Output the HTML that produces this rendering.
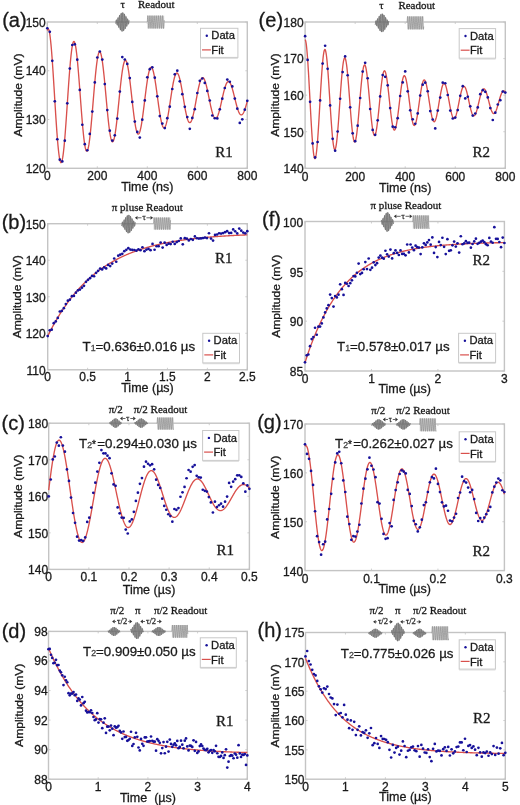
<!DOCTYPE html>
<html><head><meta charset="utf-8"><title>Figure</title>
<style>html,body{margin:0;padding:0;background:#fff;}svg{display:block;filter:blur(0.3px);}text{stroke-width:0.3px;}</style>
</head><body>
<svg width="520" height="805" viewBox="0 0 520 805">
<rect width="520" height="805" fill="#fff"/>
<clipPath id="ca"><rect x="45.3" y="20" width="204" height="150.3"/></clipPath>
<rect x="47.3" y="22" width="200" height="146.3" fill="none" stroke="#c4c4c4" stroke-width="1.4"/>
<line x1="47.3" y1="168.3" x2="47.3" y2="166.3" stroke="#c4c4c4" stroke-width="0.8"/>
<line x1="47.3" y1="22" x2="47.3" y2="24" stroke="#c4c4c4" stroke-width="0.8"/>
<line x1="97.3" y1="168.3" x2="97.3" y2="166.3" stroke="#c4c4c4" stroke-width="0.8"/>
<line x1="97.3" y1="22" x2="97.3" y2="24" stroke="#c4c4c4" stroke-width="0.8"/>
<line x1="147.3" y1="168.3" x2="147.3" y2="166.3" stroke="#c4c4c4" stroke-width="0.8"/>
<line x1="147.3" y1="22" x2="147.3" y2="24" stroke="#c4c4c4" stroke-width="0.8"/>
<line x1="197.3" y1="168.3" x2="197.3" y2="166.3" stroke="#c4c4c4" stroke-width="0.8"/>
<line x1="197.3" y1="22" x2="197.3" y2="24" stroke="#c4c4c4" stroke-width="0.8"/>
<line x1="247.3" y1="168.3" x2="247.3" y2="166.3" stroke="#c4c4c4" stroke-width="0.8"/>
<line x1="247.3" y1="22" x2="247.3" y2="24" stroke="#c4c4c4" stroke-width="0.8"/>
<line x1="47.3" y1="168.3" x2="49.3" y2="168.3" stroke="#c4c4c4" stroke-width="0.8"/>
<line x1="247.3" y1="168.3" x2="245.3" y2="168.3" stroke="#c4c4c4" stroke-width="0.8"/>
<line x1="47.3" y1="119.53" x2="49.3" y2="119.53" stroke="#c4c4c4" stroke-width="0.8"/>
<line x1="247.3" y1="119.53" x2="245.3" y2="119.53" stroke="#c4c4c4" stroke-width="0.8"/>
<line x1="47.3" y1="70.77" x2="49.3" y2="70.77" stroke="#c4c4c4" stroke-width="0.8"/>
<line x1="247.3" y1="70.77" x2="245.3" y2="70.77" stroke="#c4c4c4" stroke-width="0.8"/>
<line x1="47.3" y1="22" x2="49.3" y2="22" stroke="#c4c4c4" stroke-width="0.8"/>
<line x1="247.3" y1="22" x2="245.3" y2="22" stroke="#c4c4c4" stroke-width="0.8"/>
<text x="47.3" y="180.3" font-size="12" text-anchor="middle" font-family='"Liberation Sans", Arial, sans-serif' fill="#1a1a1a" stroke="#1a1a1a" >0</text>
<text x="97.3" y="180.3" font-size="12" text-anchor="middle" font-family='"Liberation Sans", Arial, sans-serif' fill="#1a1a1a" stroke="#1a1a1a" >200</text>
<text x="147.3" y="180.3" font-size="12" text-anchor="middle" font-family='"Liberation Sans", Arial, sans-serif' fill="#1a1a1a" stroke="#1a1a1a" >400</text>
<text x="197.3" y="180.3" font-size="12" text-anchor="middle" font-family='"Liberation Sans", Arial, sans-serif' fill="#1a1a1a" stroke="#1a1a1a" >600</text>
<text x="247.3" y="180.3" font-size="12" text-anchor="middle" font-family='"Liberation Sans", Arial, sans-serif' fill="#1a1a1a" stroke="#1a1a1a" >800</text>
<text x="45.7" y="172.85" font-size="12" text-anchor="end" font-family='"Liberation Sans", Arial, sans-serif' fill="#1a1a1a" stroke="#1a1a1a" >120</text>
<text x="45.7" y="124.08" font-size="12" text-anchor="end" font-family='"Liberation Sans", Arial, sans-serif' fill="#1a1a1a" stroke="#1a1a1a" >130</text>
<text x="45.7" y="75.32" font-size="12" text-anchor="end" font-family='"Liberation Sans", Arial, sans-serif' fill="#1a1a1a" stroke="#1a1a1a" >140</text>
<text x="45.7" y="26.55" font-size="12" text-anchor="end" font-family='"Liberation Sans", Arial, sans-serif' fill="#1a1a1a" stroke="#1a1a1a" >150</text>
<text x="147.3" y="190.9" font-size="12.5" text-anchor="middle" font-family='"Liberation Sans", Arial, sans-serif' fill="#1a1a1a" stroke="#1a1a1a" >Time (ns)</text>
<text x="-41.6" y="0" font-size="11.3" textLength="83.2" lengthAdjust="spacingAndGlyphs" font-family='"Liberation Sans", Arial, sans-serif' fill="#1a1a1a" stroke="#1a1a1a" transform="translate(21.5 95.15) rotate(-90)">Amplitude (mV)</text>
<text x="2.2" y="27" font-size="20" text-anchor="start" font-family='"Liberation Sans", Arial, sans-serif' fill="#1a1a1a" stroke="#1a1a1a" >(a)</text>
<g clip-path="url(#ca)">
<path d="M47.3,30.43 L47.63,29.45 47.97,28.93 48.3,28.88 48.63,29.29 48.97,30.16 49.3,31.48 49.63,33.24 49.97,35.43 50.3,38.02 50.63,41 50.97,44.35 51.3,48.05 51.63,52.06 51.97,56.36 52.3,60.93 52.63,65.72 52.97,70.7 53.3,75.85 53.63,81.12 53.97,86.49 54.3,91.91 54.63,97.35 54.97,102.78 55.3,108.15 55.63,113.43 55.97,118.6 56.3,123.6 56.63,128.42 56.97,133.02 57.3,137.38 57.63,141.45 57.97,145.23 58.3,148.68 58.63,151.79 58.97,154.53 59.3,156.9 59.63,158.87 59.97,160.43 60.3,161.58 60.63,162.31 60.97,162.62 61.3,162.51 61.63,161.99 61.97,161.04 62.3,159.7 62.63,157.96 62.97,155.84 63.3,153.36 63.63,150.53 63.97,147.37 64.3,143.91 64.63,140.18 64.97,136.19 65.3,131.98 65.63,127.57 65.97,122.99 66.3,118.29 66.63,113.47 66.97,108.59 67.3,103.67 67.63,98.74 67.97,93.85 68.3,89.01 68.63,84.26 68.97,79.63 69.3,75.16 69.63,70.86 69.97,66.78 70.3,62.93 70.63,59.33 70.97,56.02 71.3,53.01 71.63,50.31 71.97,47.96 72.3,45.95 72.63,44.3 72.97,43.02 73.3,42.12 73.63,41.6 73.97,41.47 74.3,41.71 74.63,42.33 74.97,43.32 75.3,44.67 75.63,46.38 75.97,48.42 76.3,50.79 76.63,53.47 76.97,56.43 77.3,59.66 77.63,63.13 77.97,66.82 78.3,70.71 78.63,74.76 78.97,78.95 79.3,83.26 79.63,87.64 79.97,92.08 80.3,96.54 80.63,101 80.97,105.42 81.3,109.77 81.63,114.04 81.97,118.18 82.3,122.17 82.63,125.99 82.97,129.62 83.3,133.02 83.63,136.18 83.97,139.08 84.3,141.7 84.63,144.03 84.97,146.05 85.3,147.74 85.63,149.11 85.97,150.14 86.3,150.83 86.63,151.17 86.97,151.17 87.3,150.82 87.63,150.13 87.97,149.11 88.3,147.76 88.63,146.1 88.97,144.13 89.3,141.88 89.63,139.36 89.97,136.58 90.3,133.58 90.63,130.35 90.97,126.94 91.3,123.36 91.63,119.64 91.97,115.8 92.3,111.88 92.63,107.88 92.97,103.85 93.3,99.81 93.63,95.78 93.97,91.8 94.3,87.88 94.63,84.06 94.97,80.36 95.3,76.79 95.63,73.4 95.97,70.19 96.3,67.19 96.63,64.41 96.97,61.87 97.3,59.6 97.63,57.6 97.97,55.88 98.3,54.45 98.63,53.33 98.97,52.51 99.3,52 99.63,51.81 99.97,51.93 100.3,52.36 100.63,53.1 100.97,54.14 101.3,55.47 101.63,57.08 101.97,58.95 102.3,61.09 102.63,63.46 102.97,66.06 103.3,68.86 103.63,71.84 103.97,74.99 104.3,78.28 104.63,81.69 104.97,85.2 105.3,88.79 105.63,92.42 105.97,96.08 106.3,99.74 106.63,103.37 106.97,106.96 107.3,110.48 107.63,113.9 107.97,117.21 108.3,120.38 108.63,123.4 108.97,126.24 109.3,128.88 109.63,131.32 109.97,133.52 110.3,135.49 110.63,137.21 110.97,138.67 111.3,139.86 111.63,140.78 111.97,141.41 112.3,141.76 112.63,141.83 112.97,141.61 113.3,141.12 113.63,140.35 113.97,139.31 114.3,138.01 114.63,136.46 114.97,134.67 115.3,132.65 115.63,130.43 115.97,128.01 116.3,125.4 116.63,122.64 116.97,119.74 117.3,116.71 117.63,113.59 117.97,110.38 118.3,107.12 118.63,103.82 118.97,100.5 119.3,97.19 119.63,93.91 119.97,90.69 120.3,87.53 120.63,84.46 120.97,81.51 121.3,78.69 121.63,76.02 121.97,73.51 122.3,71.18 122.63,69.05 122.97,67.13 123.3,65.43 123.63,63.96 123.97,62.73 124.3,61.75 124.63,61.02 124.97,60.54 125.3,60.32 125.63,60.35 125.97,60.64 126.3,61.18 126.63,61.97 126.97,63 127.3,64.27 127.63,65.75 127.97,67.45 128.3,69.35 128.63,71.44 128.97,73.69 129.3,76.1 129.63,78.66 129.97,81.33 130.3,84.11 130.63,86.97 130.97,89.89 131.3,92.86 131.63,95.86 131.97,98.86 132.3,101.85 132.63,104.81 132.97,107.71 133.3,110.54 133.63,113.28 133.97,115.91 134.3,118.42 134.63,120.78 134.97,122.99 135.3,125.04 135.63,126.89 135.97,128.56 136.3,130.02 136.63,131.27 136.97,132.31 137.3,133.11 137.63,133.69 137.97,134.04 138.3,134.15 138.63,134.03 138.97,133.68 139.3,133.11 139.63,132.31 139.97,131.29 140.3,130.07 140.63,128.65 140.97,127.05 141.3,125.26 141.63,123.31 141.97,121.22 142.3,118.98 142.63,116.63 142.97,114.17 143.3,111.62 143.63,109.01 143.97,106.34 144.3,103.64 144.63,100.92 144.97,98.2 145.3,95.51 145.63,92.85 145.97,90.24 146.3,87.71 146.63,85.26 146.97,82.92 147.3,80.69 147.63,78.6 147.97,76.65 148.3,74.87 148.63,73.25 148.97,71.81 149.3,70.55 149.63,69.49 149.97,68.63 150.3,67.98 150.63,67.54 150.97,67.3 151.3,67.28 151.63,67.46 151.97,67.86 152.3,68.46 152.63,69.25 152.97,70.24 153.3,71.42 153.63,72.77 153.97,74.28 154.3,75.96 154.63,77.77 154.97,79.72 155.3,81.79 155.63,83.96 155.97,86.21 156.3,88.55 156.63,90.93 156.97,93.36 157.3,95.82 157.63,98.28 157.97,100.74 158.3,103.17 158.63,105.56 158.97,107.9 159.3,110.17 159.63,112.35 159.97,114.43 160.3,116.4 160.63,118.25 160.97,119.96 161.3,121.52 161.63,122.93 161.97,124.17 162.3,125.24 162.63,126.14 162.97,126.84 163.3,127.36 163.63,127.7 163.97,127.84 164.3,127.79 164.63,127.55 164.97,127.12 165.3,126.51 165.63,125.72 165.97,124.76 166.3,123.64 166.63,122.36 166.97,120.93 167.3,119.37 167.63,117.67 167.97,115.87 168.3,113.96 168.63,111.96 168.97,109.89 169.3,107.76 169.63,105.58 169.97,103.37 170.3,101.14 170.63,98.91 170.97,96.69 171.3,94.5 171.63,92.35 171.97,90.26 172.3,88.23 172.63,86.29 172.97,84.44 173.3,82.69 173.63,81.07 173.97,79.57 174.3,78.2 174.63,76.98 174.97,75.92 175.3,75.01 175.63,74.26 175.97,73.68 176.3,73.27 176.63,73.04 176.97,72.98 177.3,73.09 177.63,73.37 177.97,73.82 178.3,74.43 178.63,75.2 178.97,76.13 179.3,77.2 179.63,78.41 179.97,79.75 180.3,81.21 180.63,82.79 180.97,84.46 181.3,86.22 181.63,88.05 181.97,89.95 182.3,91.9 182.63,93.89 182.97,95.89 183.3,97.92 183.63,99.93 183.97,101.93 184.3,103.91 184.63,105.84 184.97,107.71 185.3,109.52 185.63,111.25 185.97,112.89 186.3,114.43 186.63,115.86 186.97,117.18 187.3,118.36 187.63,119.42 187.97,120.33 188.3,121.1 188.63,121.72 188.97,122.18 189.3,122.5 189.63,122.65 189.97,122.65 190.3,122.49 190.63,122.18 190.97,121.72 191.3,121.11 191.63,120.35 191.97,119.46 192.3,118.45 192.63,117.3 192.97,116.05 193.3,114.68 193.63,113.22 193.97,111.68 194.3,110.06 194.63,108.37 194.97,106.64 195.3,104.86 195.63,103.05 195.97,101.22 196.3,99.39 196.63,97.57 196.97,95.77 197.3,93.99 197.63,92.26 197.97,90.59 198.3,88.97 198.63,87.44 198.97,85.98 199.3,84.62 199.63,83.36 199.97,82.22 200.3,81.19 200.63,80.28 200.97,79.5 201.3,78.86 201.63,78.35 201.97,77.98 202.3,77.75 202.63,77.66 202.97,77.72 203.3,77.91 203.63,78.25 203.97,78.72 204.3,79.32 204.63,80.05 204.97,80.9 205.3,81.86 205.63,82.94 205.97,84.11 206.3,85.38 206.63,86.73 206.97,88.16 207.3,89.65 207.63,91.19 207.97,92.78 208.3,94.4 208.63,96.05 208.97,97.7 209.3,99.36 209.63,101.01 209.97,102.63 210.3,104.23 210.63,105.78 210.97,107.27 211.3,108.71 211.63,110.08 211.97,111.36 212.3,112.56 212.63,113.66 212.97,114.66 213.3,115.55 213.63,116.33 213.97,116.99 214.3,117.53 214.63,117.94 214.97,118.23 215.3,118.39 215.63,118.42 215.97,118.32 216.3,118.1 216.63,117.75 216.97,117.28 217.3,116.69 217.63,115.99 217.97,115.18 218.3,114.27 218.63,113.26 218.97,112.16 219.3,110.98 219.63,109.73 219.97,108.42 220.3,107.05 220.63,105.63 220.97,104.18 221.3,102.7 221.63,101.21 221.97,99.71 222.3,98.21 222.63,96.72 222.97,95.26 223.3,93.83 223.63,92.45 223.97,91.11 224.3,89.83 224.63,88.62 224.97,87.49 225.3,86.43 225.63,85.47 225.97,84.6 226.3,83.83 226.63,83.16 226.97,82.61 227.3,82.16 227.63,81.83 227.97,81.61 228.3,81.51 228.63,81.53 228.97,81.66 229.3,81.91 229.63,82.26 229.97,82.73 230.3,83.3 230.63,83.97 230.97,84.74 231.3,85.6 231.63,86.55 231.97,87.57 232.3,88.66 232.63,89.82 232.97,91.03 233.3,92.28 233.63,93.58 233.97,94.9 234.3,96.25 234.63,97.61 234.97,98.97 235.3,100.32 235.63,101.66 235.97,102.97 236.3,104.25 236.63,105.49 236.97,106.69 237.3,107.82 237.63,108.89 237.97,109.89 238.3,110.82 238.63,111.66 238.97,112.41 239.3,113.08 239.63,113.64 239.97,114.11 240.3,114.47 240.63,114.74 240.97,114.89 241.3,114.94 241.63,114.89 241.97,114.73 242.3,114.47 242.63,114.11 242.97,113.65 243.3,113.1 243.63,112.46 243.97,111.73 244.3,110.92 244.63,110.04 244.97,109.09 245.3,108.08 245.63,107.01 245.97,105.9 246.3,104.74 246.63,103.56 246.97,102.35 247.3,101.13" fill="none" stroke="#d9504c" stroke-width="1.35"/>
<g fill="#16109a"><circle cx="47.3" cy="28.24" r="1.35"/><circle cx="49.8" cy="31.81" r="1.35"/><circle cx="52.3" cy="60.81" r="1.35"/><circle cx="54.8" cy="101.37" r="1.35"/><circle cx="57.3" cy="139.24" r="1.35"/><circle cx="59.8" cy="159.65" r="1.35"/><circle cx="62.3" cy="161.44" r="1.35"/><circle cx="64.8" cy="140.67" r="1.35"/><circle cx="67.3" cy="103.33" r="1.35"/><circle cx="69.8" cy="68.56" r="1.35"/><circle cx="72.3" cy="45.02" r="1.35"/><circle cx="74.8" cy="44.34" r="1.35"/><circle cx="77.3" cy="59.65" r="1.35"/><circle cx="79.8" cy="89.97" r="1.35"/><circle cx="82.3" cy="124.74" r="1.35"/><circle cx="84.8" cy="144.16" r="1.35"/><circle cx="87.3" cy="150.27" r="1.35"/><circle cx="89.8" cy="133.93" r="1.35"/><circle cx="92.3" cy="111.53" r="1.35"/><circle cx="94.8" cy="82.44" r="1.35"/><circle cx="97.3" cy="57.49" r="1.35"/><circle cx="99.8" cy="51.49" r="1.35"/><circle cx="102.3" cy="59.54" r="1.35"/><circle cx="104.8" cy="84.06" r="1.35"/><circle cx="107.3" cy="110.11" r="1.35"/><circle cx="109.8" cy="130.7" r="1.35"/><circle cx="112.3" cy="140.57" r="1.35"/><circle cx="114.8" cy="135.37" r="1.35"/><circle cx="117.3" cy="118.56" r="1.35"/><circle cx="119.8" cy="91.53" r="1.35"/><circle cx="122.3" cy="57.11" r="1.35"/><circle cx="124.8" cy="59.52" r="1.35"/><circle cx="127.3" cy="63.9" r="1.35"/><circle cx="129.8" cy="78.12" r="1.35"/><circle cx="132.3" cy="101.94" r="1.35"/><circle cx="134.8" cy="121.56" r="1.35"/><circle cx="137.3" cy="131.97" r="1.35"/><circle cx="139.8" cy="137.58" r="1.35"/><circle cx="142.3" cy="119.67" r="1.35"/><circle cx="144.8" cy="100.41" r="1.35"/><circle cx="147.3" cy="77.31" r="1.35"/><circle cx="149.8" cy="69.2" r="1.35"/><circle cx="152.3" cy="67.34" r="1.35"/><circle cx="154.8" cy="77.68" r="1.35"/><circle cx="157.3" cy="96.3" r="1.35"/><circle cx="159.8" cy="116.05" r="1.35"/><circle cx="162.3" cy="123.6" r="1.35"/><circle cx="164.8" cy="128.05" r="1.35"/><circle cx="167.3" cy="118.14" r="1.35"/><circle cx="169.8" cy="106.71" r="1.35"/><circle cx="172.3" cy="88.98" r="1.35"/><circle cx="174.8" cy="74.28" r="1.35"/><circle cx="177.3" cy="70.64" r="1.35"/><circle cx="179.8" cy="81.29" r="1.35"/><circle cx="182.3" cy="94.17" r="1.35"/><circle cx="184.8" cy="106.86" r="1.35"/><circle cx="187.3" cy="117.12" r="1.35"/><circle cx="189.8" cy="128.8" r="1.35"/><circle cx="192.3" cy="117.93" r="1.35"/><circle cx="194.8" cy="109.2" r="1.35"/><circle cx="197.3" cy="92.99" r="1.35"/><circle cx="199.8" cy="80.87" r="1.35"/><circle cx="202.3" cy="78.49" r="1.35"/><circle cx="204.8" cy="82.9" r="1.35"/><circle cx="207.3" cy="90.94" r="1.35"/><circle cx="209.8" cy="100.52" r="1.35"/><circle cx="212.3" cy="115.52" r="1.35"/><circle cx="214.8" cy="118.26" r="1.35"/><circle cx="217.3" cy="118.38" r="1.35"/><circle cx="219.8" cy="109.31" r="1.35"/><circle cx="222.3" cy="98.63" r="1.35"/><circle cx="224.8" cy="88.02" r="1.35"/><circle cx="227.3" cy="79.6" r="1.35"/><circle cx="229.8" cy="81.76" r="1.35"/><circle cx="232.3" cy="86.38" r="1.35"/><circle cx="234.8" cy="98.53" r="1.35"/><circle cx="237.3" cy="108.64" r="1.35"/><circle cx="239.8" cy="122.95" r="1.35"/><circle cx="242.3" cy="119.31" r="1.35"/><circle cx="244.8" cy="109.64" r="1.35"/><circle cx="247.3" cy="100.86" r="1.35"/></g>
</g>
<clipPath id="ce"><rect x="303.1" y="20" width="204.2" height="150.3"/></clipPath>
<rect x="305.1" y="22" width="200.2" height="146.3" fill="none" stroke="#c4c4c4" stroke-width="1.4"/>
<line x1="305.1" y1="168.3" x2="305.1" y2="166.3" stroke="#c4c4c4" stroke-width="0.8"/>
<line x1="305.1" y1="22" x2="305.1" y2="24" stroke="#c4c4c4" stroke-width="0.8"/>
<line x1="355.15" y1="168.3" x2="355.15" y2="166.3" stroke="#c4c4c4" stroke-width="0.8"/>
<line x1="355.15" y1="22" x2="355.15" y2="24" stroke="#c4c4c4" stroke-width="0.8"/>
<line x1="405.2" y1="168.3" x2="405.2" y2="166.3" stroke="#c4c4c4" stroke-width="0.8"/>
<line x1="405.2" y1="22" x2="405.2" y2="24" stroke="#c4c4c4" stroke-width="0.8"/>
<line x1="455.25" y1="168.3" x2="455.25" y2="166.3" stroke="#c4c4c4" stroke-width="0.8"/>
<line x1="455.25" y1="22" x2="455.25" y2="24" stroke="#c4c4c4" stroke-width="0.8"/>
<line x1="505.3" y1="168.3" x2="505.3" y2="166.3" stroke="#c4c4c4" stroke-width="0.8"/>
<line x1="505.3" y1="22" x2="505.3" y2="24" stroke="#c4c4c4" stroke-width="0.8"/>
<line x1="305.1" y1="168.3" x2="307.1" y2="168.3" stroke="#c4c4c4" stroke-width="0.8"/>
<line x1="505.3" y1="168.3" x2="503.3" y2="168.3" stroke="#c4c4c4" stroke-width="0.8"/>
<line x1="305.1" y1="131.73" x2="307.1" y2="131.73" stroke="#c4c4c4" stroke-width="0.8"/>
<line x1="505.3" y1="131.73" x2="503.3" y2="131.73" stroke="#c4c4c4" stroke-width="0.8"/>
<line x1="305.1" y1="95.15" x2="307.1" y2="95.15" stroke="#c4c4c4" stroke-width="0.8"/>
<line x1="505.3" y1="95.15" x2="503.3" y2="95.15" stroke="#c4c4c4" stroke-width="0.8"/>
<line x1="305.1" y1="58.58" x2="307.1" y2="58.58" stroke="#c4c4c4" stroke-width="0.8"/>
<line x1="505.3" y1="58.58" x2="503.3" y2="58.58" stroke="#c4c4c4" stroke-width="0.8"/>
<line x1="305.1" y1="22" x2="307.1" y2="22" stroke="#c4c4c4" stroke-width="0.8"/>
<line x1="505.3" y1="22" x2="503.3" y2="22" stroke="#c4c4c4" stroke-width="0.8"/>
<text x="305.1" y="180.7" font-size="12" text-anchor="middle" font-family='"Liberation Sans", Arial, sans-serif' fill="#1a1a1a" stroke="#1a1a1a" >0</text>
<text x="355.15" y="180.7" font-size="12" text-anchor="middle" font-family='"Liberation Sans", Arial, sans-serif' fill="#1a1a1a" stroke="#1a1a1a" >200</text>
<text x="405.2" y="180.7" font-size="12" text-anchor="middle" font-family='"Liberation Sans", Arial, sans-serif' fill="#1a1a1a" stroke="#1a1a1a" >400</text>
<text x="455.25" y="180.7" font-size="12" text-anchor="middle" font-family='"Liberation Sans", Arial, sans-serif' fill="#1a1a1a" stroke="#1a1a1a" >600</text>
<text x="505.3" y="180.7" font-size="12" text-anchor="middle" font-family='"Liberation Sans", Arial, sans-serif' fill="#1a1a1a" stroke="#1a1a1a" >800</text>
<text x="303.6" y="173.2" font-size="12" text-anchor="end" font-family='"Liberation Sans", Arial, sans-serif' fill="#1a1a1a" stroke="#1a1a1a" >140</text>
<text x="303.6" y="136.63" font-size="12" text-anchor="end" font-family='"Liberation Sans", Arial, sans-serif' fill="#1a1a1a" stroke="#1a1a1a" >150</text>
<text x="303.6" y="100.05" font-size="12" text-anchor="end" font-family='"Liberation Sans", Arial, sans-serif' fill="#1a1a1a" stroke="#1a1a1a" >160</text>
<text x="303.6" y="63.48" font-size="12" text-anchor="end" font-family='"Liberation Sans", Arial, sans-serif' fill="#1a1a1a" stroke="#1a1a1a" >170</text>
<text x="303.6" y="26.9" font-size="12" text-anchor="end" font-family='"Liberation Sans", Arial, sans-serif' fill="#1a1a1a" stroke="#1a1a1a" >180</text>
<text x="405.2" y="191.8" font-size="12.5" text-anchor="middle" font-family='"Liberation Sans", Arial, sans-serif' fill="#1a1a1a" stroke="#1a1a1a" >Time (ns)</text>
<text x="-41.6" y="0" font-size="11.3" textLength="83.2" lengthAdjust="spacingAndGlyphs" font-family='"Liberation Sans", Arial, sans-serif' fill="#1a1a1a" stroke="#1a1a1a" transform="translate(278.6 95.15) rotate(-90)">Amplitude (mV)</text>
<text x="258.6" y="27.2" font-size="20" text-anchor="start" font-family='"Liberation Sans", Arial, sans-serif' fill="#1a1a1a" stroke="#1a1a1a" >(e)</text>
<g clip-path="url(#ce)">
<path d="M305.1,39.56 L305.43,40.08 305.77,41.29 306.1,43.16 306.43,45.67 306.77,48.79 307.1,52.48 307.44,56.69 307.77,61.38 308.1,66.49 308.44,71.96 308.77,77.73 309.1,83.73 309.44,89.89 309.77,96.15 310.11,102.44 310.44,108.68 310.77,114.81 311.11,120.76 311.44,126.46 311.77,131.85 312.11,136.88 312.44,141.49 312.77,145.63 313.11,149.26 313.44,152.34 313.78,154.84 314.11,156.74 314.44,158.01 314.78,158.65 315.11,158.66 315.44,158.04 315.78,156.79 316.11,154.94 316.44,152.51 316.78,149.54 317.11,146.04 317.45,142.08 317.78,137.69 318.11,132.93 318.45,127.85 318.78,122.51 319.11,116.98 319.45,111.3 319.78,105.55 320.12,99.79 320.45,94.09 320.78,88.51 321.12,83.1 321.45,77.94 321.78,73.06 322.12,68.54 322.45,64.41 322.78,60.71 323.12,57.5 323.45,54.79 323.79,52.62 324.12,51.01 324.45,49.97 324.79,49.52 325.12,49.64 325.45,50.34 325.79,51.61 326.12,53.42 326.45,55.77 326.79,58.61 327.12,61.91 327.46,65.63 327.79,69.73 328.12,74.16 328.46,78.88 328.79,83.82 329.12,88.93 329.46,94.15 329.79,99.42 330.12,104.69 330.46,109.9 330.79,114.99 331.13,119.89 331.46,124.57 331.79,128.97 332.13,133.04 332.46,136.74 332.79,140.03 333.13,142.87 333.46,145.24 333.8,147.12 334.13,148.48 334.46,149.31 334.8,149.61 335.13,149.38 335.46,148.62 335.8,147.34 336.13,145.56 336.46,143.31 336.8,140.61 337.13,137.5 337.47,134 337.8,130.17 338.13,126.05 338.47,121.68 338.8,117.11 339.13,112.4 339.47,107.6 339.8,102.76 340.13,97.94 340.47,93.19 340.8,88.56 341.14,84.1 341.47,79.87 341.8,75.91 342.14,72.25 342.47,68.94 342.8,66.02 343.14,63.51 343.47,61.43 343.81,59.82 344.14,58.68 344.47,58.03 344.81,57.86 345.14,58.19 345.47,58.99 345.81,60.27 346.14,61.99 346.47,64.15 346.81,66.71 347.14,69.65 347.48,72.92 347.81,76.5 348.14,80.33 348.48,84.38 348.81,88.6 349.14,92.94 349.48,97.35 349.81,101.79 350.15,106.2 350.48,110.53 350.81,114.74 351.15,118.78 351.48,122.61 351.81,126.18 352.15,129.47 352.48,132.42 352.81,135.02 353.15,137.23 353.48,139.04 353.82,140.42 354.15,141.36 354.48,141.86 354.82,141.91 355.15,141.51 355.48,140.68 355.82,139.42 356.15,137.74 356.48,135.68 356.82,133.25 357.15,130.49 357.49,127.42 357.82,124.09 358.15,120.53 358.49,116.78 358.82,112.88 359.15,108.88 359.49,104.83 359.82,100.77 360.16,96.74 360.49,92.79 360.82,88.97 361.16,85.3 361.49,81.84 361.82,78.62 362.16,75.68 362.49,73.05 362.82,70.74 363.16,68.8 363.49,67.23 363.83,66.05 364.16,65.28 364.49,64.91 364.83,64.96 365.16,65.41 365.49,66.27 365.83,67.51 366.16,69.13 366.49,71.1 366.83,73.39 367.16,75.99 367.5,78.86 367.83,81.96 368.16,85.27 368.5,88.74 368.83,92.33 369.16,96.01 369.5,99.73 369.83,103.45 370.17,107.13 370.5,110.73 370.83,114.2 371.17,117.52 371.5,120.65 371.83,123.54 372.17,126.18 372.5,128.53 372.83,130.57 373.17,132.27 373.5,133.63 373.84,134.63 374.17,135.25 374.5,135.5 374.84,135.37 375.17,134.87 375.5,134.01 375.84,132.79 376.17,131.24 376.5,129.36 376.84,127.19 377.17,124.75 377.51,122.07 377.84,119.18 378.17,116.12 378.51,112.91 378.84,109.59 379.17,106.21 379.51,102.8 379.84,99.4 380.18,96.04 380.51,92.76 380.84,89.61 381.18,86.6 381.51,83.79 381.84,81.18 382.18,78.82 382.51,76.73 382.84,74.93 383.18,73.44 383.51,72.27 383.85,71.43 384.18,70.94 384.51,70.78 384.85,70.98 385.18,71.51 385.51,72.38 385.85,73.56 386.18,75.06 386.51,76.84 386.85,78.88 387.18,81.17 387.52,83.67 387.85,86.36 388.18,89.2 388.52,92.17 388.85,95.22 389.18,98.33 389.52,101.46 389.85,104.57 390.19,107.64 390.52,110.62 390.85,113.48 391.19,116.2 391.52,118.74 391.85,121.07 392.19,123.18 392.52,125.04 392.85,126.63 393.19,127.93 393.52,128.94 393.86,129.63 394.19,130.02 394.52,130.08 394.86,129.84 395.19,129.28 395.52,128.42 395.86,127.26 396.19,125.84 396.52,124.15 396.86,122.22 397.19,120.08 397.53,117.74 397.86,115.25 398.19,112.61 398.53,109.88 398.86,107.06 399.19,104.21 399.53,101.34 399.86,98.49 400.19,95.7 400.53,92.99 400.86,90.4 401.2,87.94 401.53,85.65 401.86,83.56 402.2,81.67 402.53,80.02 402.86,78.63 403.2,77.49 403.53,76.63 403.87,76.06 404.2,75.77 404.53,75.78 404.87,76.07 405.2,76.64 405.53,77.49 405.87,78.61 406.2,79.97 406.53,81.57 406.87,83.38 407.2,85.39 407.54,87.56 407.87,89.88 408.2,92.32 408.54,94.85 408.87,97.44 409.2,100.06 409.54,102.68 409.87,105.28 410.21,107.83 410.54,110.29 410.87,112.64 411.21,114.86 411.54,116.92 411.87,118.8 412.21,120.48 412.54,121.94 412.87,123.17 413.21,124.15 413.54,124.88 413.88,125.34 414.21,125.55 414.54,125.48 414.88,125.16 415.21,124.57 415.54,123.74 415.88,122.66 416.21,121.36 416.54,119.85 416.88,118.15 417.21,116.28 417.55,114.25 417.88,112.1 418.21,109.85 418.55,107.51 418.88,105.13 419.21,102.73 419.55,100.32 419.88,97.95 420.22,95.63 420.55,93.4 420.88,91.27 421.22,89.27 421.55,87.41 421.88,85.73 422.22,84.24 422.55,82.95 422.88,81.87 423.22,81.02 423.55,80.41 423.89,80.03 424.22,79.9 424.55,80.01 424.89,80.37 425.22,80.96 425.55,81.77 425.89,82.8 426.22,84.04 426.55,85.46 426.89,87.06 427.22,88.81 427.56,90.69 427.89,92.69 428.22,94.77 428.56,96.92 428.89,99.11 429.22,101.32 429.56,103.52 429.89,105.68 430.23,107.79 430.56,109.82 430.89,111.75 431.23,113.55 431.56,115.22 431.89,116.72 432.23,118.05 432.56,119.19 432.89,120.13 433.23,120.86 433.56,121.37 433.9,121.67 434.23,121.74 434.56,121.58 434.9,121.21 435.23,120.63 435.56,119.83 435.9,118.84 436.23,117.67 436.56,116.33 436.9,114.83 437.23,113.2 437.57,111.45 437.9,109.6 438.23,107.67 438.57,105.69 438.9,103.68 439.23,101.66 439.57,99.65 439.9,97.67 440.24,95.76 440.57,93.91 440.9,92.17 441.24,90.55 441.57,89.05 441.9,87.71 442.24,86.53 442.57,85.52 442.9,84.71 443.24,84.08 443.57,83.66 443.91,83.43 444.24,83.42 444.57,83.6 444.91,83.99 445.24,84.57 445.57,85.33 445.91,86.28 446.24,87.39 446.57,88.65 446.91,90.06 447.24,91.58 447.58,93.21 447.91,94.92 448.24,96.7 448.58,98.52 448.91,100.37 449.24,102.22 449.58,104.06 449.91,105.85 450.25,107.6 450.58,109.27 450.91,110.84 451.25,112.31 451.58,113.64 451.91,114.84 452.25,115.89 452.58,116.77 452.91,117.48 453.25,118.02 453.58,118.36 453.92,118.52 454.25,118.5 454.58,118.29 454.92,117.89 455.25,117.32 455.58,116.58 455.92,115.68 456.25,114.63 456.58,113.44 456.92,112.13 457.25,110.71 457.59,109.2 457.92,107.62 458.25,105.98 458.59,104.3 458.92,102.6 459.25,100.91 459.59,99.23 459.92,97.59 460.25,96.01 460.59,94.5 460.92,93.08 461.26,91.76 461.59,90.56 461.92,89.49 462.26,88.56 462.59,87.79 462.92,87.18 463.26,86.73 463.59,86.44 463.93,86.34 464.26,86.4 464.59,86.63 464.93,87.03 465.26,87.59 465.59,88.3 465.93,89.16 466.26,90.15 466.59,91.27 466.93,92.49 467.26,93.81 467.6,95.21 467.93,96.68 468.26,98.19 468.6,99.73 468.93,101.29 469.26,102.84 469.6,104.37 469.93,105.86 470.26,107.3 470.6,108.67 470.93,109.95 471.27,111.13 471.6,112.21 471.93,113.16 472.27,113.97 472.6,114.65 472.93,115.18 473.27,115.56 473.6,115.78 473.94,115.85 474.27,115.75 474.6,115.51 474.94,115.11 475.27,114.56 475.6,113.88 475.94,113.06 476.27,112.13 476.6,111.08 476.94,109.94 477.27,108.71 477.61,107.41 477.94,106.06 478.27,104.67 478.61,103.25 478.94,101.82 479.27,100.4 479.61,99.01 479.94,97.65 480.27,96.35 480.61,95.11 480.94,93.95 481.28,92.89 481.61,91.93 481.94,91.09 482.28,90.36 482.61,89.77 482.94,89.32 483.28,89.01 483.61,88.83 483.95,88.81 484.28,88.92 484.61,89.18 484.95,89.58 485.28,90.11 485.61,90.76 485.95,91.53 486.28,92.41 486.61,93.39 486.95,94.46 487.28,95.6 487.62,96.8 487.95,98.05 488.28,99.34 488.62,100.64 488.95,101.95 489.28,103.24 489.62,104.52 489.95,105.75 490.29,106.93 490.62,108.05 490.95,109.09 491.29,110.05 491.62,110.9 491.95,111.65 492.29,112.28 492.62,112.8 492.95,113.19 493.29,113.45 493.62,113.57 493.96,113.57 494.29,113.43 494.62,113.17 494.96,112.78 495.29,112.26 495.62,111.64 495.96,110.91 496.29,110.08 496.62,109.16 496.96,108.17 497.29,107.11 497.63,106 497.96,104.84 498.29,103.66 498.63,102.47 498.96,101.27 499.29,100.09 499.63,98.93 499.96,97.8 500.3,96.73 500.63,95.72 500.96,94.79 501.3,93.93 501.63,93.17 501.96,92.51 502.3,91.95 502.63,91.5 502.96,91.17 503.3,90.96 503.63,90.87 503.97,90.91 504.3,91.06 504.63,91.33 504.97,91.71 505.3,92.2" fill="none" stroke="#d9504c" stroke-width="1.35"/>
<g fill="#16109a"><circle cx="305.1" cy="36.14" r="1.35"/><circle cx="307.6" cy="59.95" r="1.35"/><circle cx="310.11" cy="101.86" r="1.35"/><circle cx="312.61" cy="143.41" r="1.35"/><circle cx="315.11" cy="157.44" r="1.35"/><circle cx="317.61" cy="141.99" r="1.35"/><circle cx="320.12" cy="100.4" r="1.35"/><circle cx="322.62" cy="63.6" r="1.35"/><circle cx="325.12" cy="45.77" r="1.35"/><circle cx="327.62" cy="68.87" r="1.35"/><circle cx="330.12" cy="105.44" r="1.35"/><circle cx="332.63" cy="138.86" r="1.35"/><circle cx="335.13" cy="150.7" r="1.35"/><circle cx="337.63" cy="131.51" r="1.35"/><circle cx="340.13" cy="98.74" r="1.35"/><circle cx="342.64" cy="72.11" r="1.35"/><circle cx="345.14" cy="56.45" r="1.35"/><circle cx="347.64" cy="75.25" r="1.35"/><circle cx="350.15" cy="107.28" r="1.35"/><circle cx="352.65" cy="133.37" r="1.35"/><circle cx="355.15" cy="141.18" r="1.35"/><circle cx="357.65" cy="125.71" r="1.35"/><circle cx="360.16" cy="97.99" r="1.35"/><circle cx="362.66" cy="71.57" r="1.35"/><circle cx="365.16" cy="62.78" r="1.35"/><circle cx="367.66" cy="78.27" r="1.35"/><circle cx="370.17" cy="108.98" r="1.35"/><circle cx="372.67" cy="129.89" r="1.35"/><circle cx="375.17" cy="134.85" r="1.35"/><circle cx="377.67" cy="120.33" r="1.35"/><circle cx="380.18" cy="96.4" r="1.35"/><circle cx="382.68" cy="75.09" r="1.35"/><circle cx="385.18" cy="76.83" r="1.35"/><circle cx="387.68" cy="85.34" r="1.35"/><circle cx="390.19" cy="108.06" r="1.35"/><circle cx="392.69" cy="126.69" r="1.35"/><circle cx="395.19" cy="127.23" r="1.35"/><circle cx="397.69" cy="118.13" r="1.35"/><circle cx="400.19" cy="96.01" r="1.35"/><circle cx="402.7" cy="82.46" r="1.35"/><circle cx="405.2" cy="71.38" r="1.35"/><circle cx="407.7" cy="91.28" r="1.35"/><circle cx="410.21" cy="110.33" r="1.35"/><circle cx="412.71" cy="119.31" r="1.35"/><circle cx="415.21" cy="123.73" r="1.35"/><circle cx="417.71" cy="113.4" r="1.35"/><circle cx="420.22" cy="95.58" r="1.35"/><circle cx="422.72" cy="84.7" r="1.35"/><circle cx="425.22" cy="82.7" r="1.35"/><circle cx="427.72" cy="91.25" r="1.35"/><circle cx="430.23" cy="111.11" r="1.35"/><circle cx="432.73" cy="119.48" r="1.35"/><circle cx="435.23" cy="128.43" r="1.35"/><circle cx="437.73" cy="110.55" r="1.35"/><circle cx="440.24" cy="97.6" r="1.35"/><circle cx="442.74" cy="82.68" r="1.35"/><circle cx="445.24" cy="83.25" r="1.35"/><circle cx="447.74" cy="95.01" r="1.35"/><circle cx="450.25" cy="110.6" r="1.35"/><circle cx="452.75" cy="118.51" r="1.35"/><circle cx="455.25" cy="117.6" r="1.35"/><circle cx="457.75" cy="110.08" r="1.35"/><circle cx="460.25" cy="95.78" r="1.35"/><circle cx="462.76" cy="86.19" r="1.35"/><circle cx="465.26" cy="98.44" r="1.35"/><circle cx="467.76" cy="96.77" r="1.35"/><circle cx="470.26" cy="106.33" r="1.35"/><circle cx="472.77" cy="115.57" r="1.35"/><circle cx="475.27" cy="113.49" r="1.35"/><circle cx="477.77" cy="107.41" r="1.35"/><circle cx="480.27" cy="94.14" r="1.35"/><circle cx="482.78" cy="90.14" r="1.35"/><circle cx="485.28" cy="91.87" r="1.35"/><circle cx="487.78" cy="97.47" r="1.35"/><circle cx="490.29" cy="108.06" r="1.35"/><circle cx="492.79" cy="120.02" r="1.35"/><circle cx="495.29" cy="112.64" r="1.35"/><circle cx="497.79" cy="104.5" r="1.35"/><circle cx="500.3" cy="100.14" r="1.35"/><circle cx="502.8" cy="91.58" r="1.35"/><circle cx="505.3" cy="92.62" r="1.35"/></g>
</g>
<clipPath id="cb"><rect x="45.7" y="221.7" width="203.6" height="150.1"/></clipPath>
<rect x="47.7" y="223.7" width="199.6" height="146.1" fill="none" stroke="#c4c4c4" stroke-width="1.4"/>
<line x1="47.7" y1="369.8" x2="47.7" y2="367.8" stroke="#c4c4c4" stroke-width="0.8"/>
<line x1="47.7" y1="223.7" x2="47.7" y2="225.7" stroke="#c4c4c4" stroke-width="0.8"/>
<line x1="87.62" y1="369.8" x2="87.62" y2="367.8" stroke="#c4c4c4" stroke-width="0.8"/>
<line x1="87.62" y1="223.7" x2="87.62" y2="225.7" stroke="#c4c4c4" stroke-width="0.8"/>
<line x1="127.54" y1="369.8" x2="127.54" y2="367.8" stroke="#c4c4c4" stroke-width="0.8"/>
<line x1="127.54" y1="223.7" x2="127.54" y2="225.7" stroke="#c4c4c4" stroke-width="0.8"/>
<line x1="167.46" y1="369.8" x2="167.46" y2="367.8" stroke="#c4c4c4" stroke-width="0.8"/>
<line x1="167.46" y1="223.7" x2="167.46" y2="225.7" stroke="#c4c4c4" stroke-width="0.8"/>
<line x1="207.38" y1="369.8" x2="207.38" y2="367.8" stroke="#c4c4c4" stroke-width="0.8"/>
<line x1="207.38" y1="223.7" x2="207.38" y2="225.7" stroke="#c4c4c4" stroke-width="0.8"/>
<line x1="247.3" y1="369.8" x2="247.3" y2="367.8" stroke="#c4c4c4" stroke-width="0.8"/>
<line x1="247.3" y1="223.7" x2="247.3" y2="225.7" stroke="#c4c4c4" stroke-width="0.8"/>
<line x1="47.7" y1="369.8" x2="49.7" y2="369.8" stroke="#c4c4c4" stroke-width="0.8"/>
<line x1="247.3" y1="369.8" x2="245.3" y2="369.8" stroke="#c4c4c4" stroke-width="0.8"/>
<line x1="47.7" y1="333.27" x2="49.7" y2="333.27" stroke="#c4c4c4" stroke-width="0.8"/>
<line x1="247.3" y1="333.27" x2="245.3" y2="333.27" stroke="#c4c4c4" stroke-width="0.8"/>
<line x1="47.7" y1="296.75" x2="49.7" y2="296.75" stroke="#c4c4c4" stroke-width="0.8"/>
<line x1="247.3" y1="296.75" x2="245.3" y2="296.75" stroke="#c4c4c4" stroke-width="0.8"/>
<line x1="47.7" y1="260.23" x2="49.7" y2="260.23" stroke="#c4c4c4" stroke-width="0.8"/>
<line x1="247.3" y1="260.23" x2="245.3" y2="260.23" stroke="#c4c4c4" stroke-width="0.8"/>
<line x1="47.7" y1="223.7" x2="49.7" y2="223.7" stroke="#c4c4c4" stroke-width="0.8"/>
<line x1="247.3" y1="223.7" x2="245.3" y2="223.7" stroke="#c4c4c4" stroke-width="0.8"/>
<text x="47.7" y="381.4" font-size="12" text-anchor="middle" font-family='"Liberation Sans", Arial, sans-serif' fill="#1a1a1a" stroke="#1a1a1a" >0</text>
<text x="87.62" y="381.4" font-size="12" text-anchor="middle" font-family='"Liberation Sans", Arial, sans-serif' fill="#1a1a1a" stroke="#1a1a1a" >0.5</text>
<text x="127.54" y="381.4" font-size="12" text-anchor="middle" font-family='"Liberation Sans", Arial, sans-serif' fill="#1a1a1a" stroke="#1a1a1a" >1</text>
<text x="167.46" y="381.4" font-size="12" text-anchor="middle" font-family='"Liberation Sans", Arial, sans-serif' fill="#1a1a1a" stroke="#1a1a1a" >1.5</text>
<text x="207.38" y="381.4" font-size="12" text-anchor="middle" font-family='"Liberation Sans", Arial, sans-serif' fill="#1a1a1a" stroke="#1a1a1a" >2</text>
<text x="247.3" y="381.4" font-size="12" text-anchor="middle" font-family='"Liberation Sans", Arial, sans-serif' fill="#1a1a1a" stroke="#1a1a1a" >2.5</text>
<text x="45.7" y="374.65" font-size="12" text-anchor="end" font-family='"Liberation Sans", Arial, sans-serif' fill="#1a1a1a" stroke="#1a1a1a" >110</text>
<text x="45.7" y="338.12" font-size="12" text-anchor="end" font-family='"Liberation Sans", Arial, sans-serif' fill="#1a1a1a" stroke="#1a1a1a" >120</text>
<text x="45.7" y="301.6" font-size="12" text-anchor="end" font-family='"Liberation Sans", Arial, sans-serif' fill="#1a1a1a" stroke="#1a1a1a" >130</text>
<text x="45.7" y="265.08" font-size="12" text-anchor="end" font-family='"Liberation Sans", Arial, sans-serif' fill="#1a1a1a" stroke="#1a1a1a" >140</text>
<text x="45.7" y="228.55" font-size="12" text-anchor="end" font-family='"Liberation Sans", Arial, sans-serif' fill="#1a1a1a" stroke="#1a1a1a" >150</text>
<text x="147.5" y="392.4" font-size="12.5" text-anchor="middle" font-family='"Liberation Sans", Arial, sans-serif' fill="#1a1a1a" stroke="#1a1a1a" >Time (µs)</text>
<text x="-41.6" y="0" font-size="11.3" textLength="83.2" lengthAdjust="spacingAndGlyphs" font-family='"Liberation Sans", Arial, sans-serif' fill="#1a1a1a" stroke="#1a1a1a" transform="translate(21.4 296.75) rotate(-90)">Amplitude (mV)</text>
<text x="1.7" y="229.2" font-size="20" text-anchor="start" font-family='"Liberation Sans", Arial, sans-serif' fill="#1a1a1a" stroke="#1a1a1a" >(b)</text>
<g clip-path="url(#cb)">
<path d="M47.7,336.2 L48.03,335.52 48.37,334.85 48.7,334.19 49.03,333.52 49.36,332.87 49.7,332.21 50.03,331.56 50.36,330.92 50.69,330.28 51.03,329.64 51.36,329.01 51.69,328.38 52.02,327.76 52.36,327.14 52.69,326.52 53.02,325.91 53.36,325.3 53.69,324.7 54.02,324.1 54.35,323.5 54.69,322.91 55.02,322.32 55.35,321.74 55.68,321.16 56.02,320.58 56.35,320.01 56.68,319.44 57.01,318.87 57.35,318.31 57.68,317.75 58.01,317.2 58.35,316.65 58.68,316.1 59.01,315.56 59.34,315.02 59.68,314.48 60.01,313.95 60.34,313.42 60.67,312.89 61.01,312.37 61.34,311.85 61.67,311.33 62,310.82 62.34,310.31 62.67,309.8 63,309.3 63.34,308.8 63.67,308.31 64,307.81 64.33,307.32 64.67,306.84 65,306.35 65.33,305.87 65.66,305.4 66,304.92 66.33,304.45 66.66,303.99 66.99,303.52 67.33,303.06 67.66,302.6 67.99,302.14 68.33,301.69 68.66,301.24 68.99,300.8 69.32,300.35 69.66,299.91 69.99,299.47 70.32,299.04 70.65,298.61 70.99,298.18 71.32,297.75 71.65,297.33 71.98,296.9 72.32,296.49 72.65,296.07 72.98,295.66 73.32,295.25 73.65,294.84 73.98,294.43 74.31,294.03 74.65,293.63 74.98,293.24 75.31,292.84 75.64,292.45 75.98,292.06 76.31,291.67 76.64,291.29 76.97,290.91 77.31,290.53 77.64,290.15 77.97,289.78 78.31,289.41 78.64,289.04 78.97,288.67 79.3,288.3 79.64,287.94 79.97,287.58 80.3,287.22 80.63,286.87 80.97,286.52 81.3,286.17 81.63,285.82 81.96,285.47 82.3,285.13 82.63,284.79 82.96,284.45 83.3,284.11 83.63,283.78 83.96,283.44 84.29,283.11 84.63,282.78 84.96,282.46 85.29,282.13 85.62,281.81 85.96,281.49 86.29,281.17 86.62,280.86 86.95,280.54 87.29,280.23 87.62,279.92 87.95,279.62 88.29,279.31 88.62,279.01 88.95,278.71 89.28,278.41 89.62,278.11 89.95,277.81 90.28,277.52 90.61,277.23 90.95,276.94 91.28,276.65 91.61,276.36 91.94,276.08 92.28,275.8 92.61,275.52 92.94,275.24 93.28,274.96 93.61,274.69 93.94,274.41 94.27,274.14 94.61,273.87 94.94,273.6 95.27,273.34 95.6,273.07 95.94,272.81 96.27,272.55 96.6,272.29 96.93,272.03 97.27,271.78 97.6,271.52 97.93,271.27 98.27,271.02 98.6,270.77 98.93,270.52 99.26,270.27 99.6,270.03 99.93,269.79 100.26,269.55 100.59,269.31 100.93,269.07 101.26,268.83 101.59,268.6 101.92,268.36 102.26,268.13 102.59,267.9 102.92,267.67 103.26,267.44 103.59,267.22 103.92,266.99 104.25,266.77 104.59,266.55 104.92,266.33 105.25,266.11 105.58,265.89 105.92,265.68 106.25,265.46 106.58,265.25 106.91,265.04 107.25,264.83 107.58,264.62 107.91,264.41 108.25,264.2 108.58,264 108.91,263.8 109.24,263.59 109.58,263.39 109.91,263.19 110.24,262.99 110.57,262.8 110.91,262.6 111.24,262.41 111.57,262.21 111.9,262.02 112.24,261.83 112.57,261.64 112.9,261.45 113.24,261.27 113.57,261.08 113.9,260.9 114.23,260.71 114.57,260.53 114.9,260.35 115.23,260.17 115.56,259.99 115.9,259.82 116.23,259.64 116.56,259.46 116.89,259.29 117.23,259.12 117.56,258.95 117.89,258.78 118.23,258.61 118.56,258.44 118.89,258.27 119.22,258.1 119.56,257.94 119.89,257.78 120.22,257.61 120.55,257.45 120.89,257.29 121.22,257.13 121.55,256.97 121.88,256.81 122.22,256.66 122.55,256.5 122.88,256.35 123.22,256.19 123.55,256.04 123.88,255.89 124.21,255.74 124.55,255.59 124.88,255.44 125.21,255.29 125.54,255.15 125.88,255 126.21,254.86 126.54,254.71 126.87,254.57 127.21,254.43 127.54,254.29 127.87,254.15 128.21,254.01 128.54,253.87 128.87,253.73 129.2,253.59 129.54,253.46 129.87,253.32 130.2,253.19 130.53,253.06 130.87,252.93 131.2,252.79 131.53,252.66 131.86,252.53 132.2,252.41 132.53,252.28 132.86,252.15 133.2,252.02 133.53,251.9 133.86,251.77 134.19,251.65 134.53,251.53 134.86,251.41 135.19,251.28 135.52,251.16 135.86,251.04 136.19,250.93 136.52,250.81 136.85,250.69 137.19,250.57 137.52,250.46 137.85,250.34 138.19,250.23 138.52,250.11 138.85,250 139.18,249.89 139.52,249.78 139.85,249.67 140.18,249.56 140.51,249.45 140.85,249.34 141.18,249.23 141.51,249.13 141.84,249.02 142.18,248.91 142.51,248.81 142.84,248.7 143.18,248.6 143.51,248.5 143.84,248.39 144.17,248.29 144.51,248.19 144.84,248.09 145.17,247.99 145.5,247.89 145.84,247.79 146.17,247.7 146.5,247.6 146.83,247.5 147.17,247.41 147.5,247.31 147.83,247.22 148.17,247.12 148.5,247.03 148.83,246.94 149.16,246.85 149.5,246.75 149.83,246.66 150.16,246.57 150.49,246.48 150.83,246.39 151.16,246.31 151.49,246.22 151.82,246.13 152.16,246.04 152.49,245.96 152.82,245.87 153.16,245.79 153.49,245.7 153.82,245.62 154.15,245.53 154.49,245.45 154.82,245.37 155.15,245.29 155.48,245.21 155.82,245.12 156.15,245.04 156.48,244.96 156.81,244.89 157.15,244.81 157.48,244.73 157.81,244.65 158.15,244.57 158.48,244.5 158.81,244.42 159.14,244.35 159.48,244.27 159.81,244.2 160.14,244.12 160.47,244.05 160.81,243.97 161.14,243.9 161.47,243.83 161.8,243.76 162.14,243.69 162.47,243.62 162.8,243.54 163.14,243.47 163.47,243.41 163.8,243.34 164.13,243.27 164.47,243.2 164.8,243.13 165.13,243.06 165.46,243 165.8,242.93 166.13,242.87 166.46,242.8 166.79,242.73 167.13,242.67 167.46,242.61 167.79,242.54 168.13,242.48 168.46,242.42 168.79,242.35 169.12,242.29 169.46,242.23 169.79,242.17 170.12,242.11 170.45,242.05 170.79,241.99 171.12,241.93 171.45,241.87 171.78,241.81 172.12,241.75 172.45,241.69 172.78,241.63 173.12,241.58 173.45,241.52 173.78,241.46 174.11,241.41 174.45,241.35 174.78,241.29 175.11,241.24 175.44,241.18 175.78,241.13 176.11,241.07 176.44,241.02 176.77,240.97 177.11,240.91 177.44,240.86 177.77,240.81 178.11,240.76 178.44,240.71 178.77,240.65 179.1,240.6 179.44,240.55 179.77,240.5 180.1,240.45 180.43,240.4 180.77,240.35 181.1,240.3 181.43,240.25 181.76,240.21 182.1,240.16 182.43,240.11 182.76,240.06 183.1,240.02 183.43,239.97 183.76,239.92 184.09,239.88 184.43,239.83 184.76,239.78 185.09,239.74 185.42,239.69 185.76,239.65 186.09,239.6 186.42,239.56 186.75,239.52 187.09,239.47 187.42,239.43 187.75,239.39 188.09,239.34 188.42,239.3 188.75,239.26 189.08,239.22 189.42,239.17 189.75,239.13 190.08,239.09 190.41,239.05 190.75,239.01 191.08,238.97 191.41,238.93 191.74,238.89 192.08,238.85 192.41,238.81 192.74,238.77 193.08,238.73 193.41,238.69 193.74,238.66 194.07,238.62 194.41,238.58 194.74,238.54 195.07,238.51 195.4,238.47 195.74,238.43 196.07,238.4 196.4,238.36 196.73,238.32 197.07,238.29 197.4,238.25 197.73,238.22 198.07,238.18 198.4,238.15 198.73,238.11 199.06,238.08 199.4,238.04 199.73,238.01 200.06,237.97 200.39,237.94 200.73,237.91 201.06,237.87 201.39,237.84 201.72,237.81 202.06,237.78 202.39,237.74 202.72,237.71 203.06,237.68 203.39,237.65 203.72,237.62 204.05,237.59 204.39,237.55 204.72,237.52 205.05,237.49 205.38,237.46 205.72,237.43 206.05,237.4 206.38,237.37 206.71,237.34 207.05,237.31 207.38,237.28 207.71,237.26 208.05,237.23 208.38,237.2 208.71,237.17 209.04,237.14 209.38,237.11 209.71,237.08 210.04,237.06 210.37,237.03 210.71,237 211.04,236.97 211.37,236.95 211.7,236.92 212.04,236.89 212.37,236.87 212.7,236.84 213.04,236.82 213.37,236.79 213.7,236.76 214.03,236.74 214.37,236.71 214.7,236.69 215.03,236.66 215.36,236.64 215.7,236.61 216.03,236.59 216.36,236.56 216.69,236.54 217.03,236.51 217.36,236.49 217.69,236.47 218.03,236.44 218.36,236.42 218.69,236.4 219.02,236.37 219.36,236.35 219.69,236.33 220.02,236.3 220.35,236.28 220.69,236.26 221.02,236.24 221.35,236.21 221.68,236.19 222.02,236.17 222.35,236.15 222.68,236.13 223.02,236.1 223.35,236.08 223.68,236.06 224.01,236.04 224.35,236.02 224.68,236 225.01,235.98 225.34,235.96 225.68,235.94 226.01,235.92 226.34,235.9 226.67,235.88 227.01,235.86 227.34,235.84 227.67,235.82 228.01,235.8 228.34,235.78 228.67,235.76 229,235.74 229.34,235.72 229.67,235.7 230,235.68 230.33,235.66 230.67,235.65 231,235.63 231.33,235.61 231.66,235.59 232,235.57 232.33,235.56 232.66,235.54 233,235.52 233.33,235.5 233.66,235.49 233.99,235.47 234.33,235.45 234.66,235.43 234.99,235.42 235.32,235.4 235.66,235.38 235.99,235.37 236.32,235.35 236.65,235.33 236.99,235.32 237.32,235.3 237.65,235.28 237.99,235.27 238.32,235.25 238.65,235.24 238.98,235.22 239.32,235.21 239.65,235.19 239.98,235.17 240.31,235.16 240.65,235.14 240.98,235.13 241.31,235.11 241.64,235.1 241.98,235.08 242.31,235.07 242.64,235.05 242.98,235.04 243.31,235.03 243.64,235.01 243.97,235 244.31,234.98 244.64,234.97 244.97,234.96 245.3,234.94 245.64,234.93 245.97,234.91 246.3,234.9 246.63,234.89 246.97,234.87 247.3,234.86" fill="none" stroke="#d9504c" stroke-width="1.35"/>
<g fill="#16109a"><circle cx="47.7" cy="336.06" r="1.35"/><circle cx="49.72" cy="330.35" r="1.35"/><circle cx="51.73" cy="329.67" r="1.35"/><circle cx="53.75" cy="323.14" r="1.35"/><circle cx="55.76" cy="321.4" r="1.35"/><circle cx="57.78" cy="317.97" r="1.35"/><circle cx="59.8" cy="311.51" r="1.35"/><circle cx="61.81" cy="310.88" r="1.35"/><circle cx="63.83" cy="308.13" r="1.35"/><circle cx="65.85" cy="304.07" r="1.35"/><circle cx="67.86" cy="300.68" r="1.35"/><circle cx="69.88" cy="299.66" r="1.35"/><circle cx="71.89" cy="296.16" r="1.35"/><circle cx="73.91" cy="295.94" r="1.35"/><circle cx="75.93" cy="292.65" r="1.35"/><circle cx="77.94" cy="290.45" r="1.35"/><circle cx="79.96" cy="289.54" r="1.35"/><circle cx="81.97" cy="287.67" r="1.35"/><circle cx="83.99" cy="285.79" r="1.35"/><circle cx="86.01" cy="281.79" r="1.35"/><circle cx="88.02" cy="279.8" r="1.35"/><circle cx="90.04" cy="278.2" r="1.35"/><circle cx="92.06" cy="275.88" r="1.35"/><circle cx="94.07" cy="276.26" r="1.35"/><circle cx="96.09" cy="272.81" r="1.35"/><circle cx="98.1" cy="270.79" r="1.35"/><circle cx="100.12" cy="268.55" r="1.35"/><circle cx="102.14" cy="269.45" r="1.35"/><circle cx="104.15" cy="267.41" r="1.35"/><circle cx="106.17" cy="268.43" r="1.35"/><circle cx="108.18" cy="264.91" r="1.35"/><circle cx="110.2" cy="266.07" r="1.35"/><circle cx="112.22" cy="263.58" r="1.35"/><circle cx="114.23" cy="258.48" r="1.35"/><circle cx="116.25" cy="261.76" r="1.35"/><circle cx="118.27" cy="255.72" r="1.35"/><circle cx="120.28" cy="254.66" r="1.35"/><circle cx="122.3" cy="253.86" r="1.35"/><circle cx="124.31" cy="251.15" r="1.35"/><circle cx="126.33" cy="249.78" r="1.35"/><circle cx="128.35" cy="248.14" r="1.35"/><circle cx="130.36" cy="249.54" r="1.35"/><circle cx="132.38" cy="249.93" r="1.35"/><circle cx="134.39" cy="250" r="1.35"/><circle cx="136.41" cy="250.63" r="1.35"/><circle cx="138.43" cy="249.26" r="1.35"/><circle cx="140.44" cy="250.21" r="1.35"/><circle cx="142.46" cy="247.24" r="1.35"/><circle cx="144.48" cy="251.18" r="1.35"/><circle cx="146.49" cy="249.62" r="1.35"/><circle cx="148.51" cy="248.97" r="1.35"/><circle cx="150.52" cy="250.18" r="1.35"/><circle cx="152.54" cy="243.9" r="1.35"/><circle cx="154.56" cy="249.77" r="1.35"/><circle cx="156.57" cy="246.25" r="1.35"/><circle cx="158.59" cy="246.19" r="1.35"/><circle cx="160.61" cy="242.61" r="1.35"/><circle cx="162.62" cy="247.54" r="1.35"/><circle cx="164.64" cy="242.68" r="1.35"/><circle cx="166.65" cy="244.93" r="1.35"/><circle cx="168.67" cy="243.7" r="1.35"/><circle cx="170.69" cy="244.06" r="1.35"/><circle cx="172.7" cy="241.76" r="1.35"/><circle cx="174.72" cy="243.97" r="1.35"/><circle cx="176.73" cy="242.03" r="1.35"/><circle cx="178.75" cy="241.02" r="1.35"/><circle cx="180.77" cy="238.47" r="1.35"/><circle cx="182.78" cy="244.3" r="1.35"/><circle cx="184.8" cy="238.2" r="1.35"/><circle cx="186.82" cy="238.69" r="1.35"/><circle cx="188.83" cy="240.45" r="1.35"/><circle cx="190.85" cy="238.98" r="1.35"/><circle cx="192.86" cy="239.79" r="1.35"/><circle cx="194.88" cy="236.42" r="1.35"/><circle cx="196.9" cy="238.24" r="1.35"/><circle cx="198.91" cy="238.6" r="1.35"/><circle cx="200.93" cy="238.38" r="1.35"/><circle cx="202.94" cy="238.1" r="1.35"/><circle cx="204.96" cy="237.6" r="1.35"/><circle cx="206.98" cy="238.09" r="1.35"/><circle cx="208.99" cy="233.27" r="1.35"/><circle cx="211.01" cy="238.55" r="1.35"/><circle cx="213.03" cy="240.53" r="1.35"/><circle cx="215.04" cy="234.94" r="1.35"/><circle cx="217.06" cy="234.49" r="1.35"/><circle cx="219.07" cy="233.25" r="1.35"/><circle cx="221.09" cy="233.62" r="1.35"/><circle cx="223.11" cy="233.07" r="1.35"/><circle cx="225.12" cy="232.2" r="1.35"/><circle cx="227.14" cy="231.15" r="1.35"/><circle cx="229.15" cy="233.1" r="1.35"/><circle cx="231.17" cy="232.88" r="1.35"/><circle cx="233.19" cy="229.39" r="1.35"/><circle cx="235.2" cy="231.34" r="1.35"/><circle cx="237.22" cy="233.46" r="1.35"/><circle cx="239.24" cy="228.53" r="1.35"/><circle cx="241.25" cy="230.7" r="1.35"/><circle cx="243.27" cy="232.6" r="1.35"/><circle cx="245.28" cy="233.37" r="1.35"/><circle cx="247.3" cy="231.14" r="1.35"/></g>
</g>
<clipPath id="cf"><rect x="303" y="219.5" width="203.4" height="153.5"/></clipPath>
<rect x="305" y="221.5" width="199.4" height="149.5" fill="none" stroke="#c4c4c4" stroke-width="1.4"/>
<line x1="305" y1="371" x2="305" y2="369" stroke="#c4c4c4" stroke-width="0.8"/>
<line x1="305" y1="221.5" x2="305" y2="223.5" stroke="#c4c4c4" stroke-width="0.8"/>
<line x1="371.47" y1="371" x2="371.47" y2="369" stroke="#c4c4c4" stroke-width="0.8"/>
<line x1="371.47" y1="221.5" x2="371.47" y2="223.5" stroke="#c4c4c4" stroke-width="0.8"/>
<line x1="437.93" y1="371" x2="437.93" y2="369" stroke="#c4c4c4" stroke-width="0.8"/>
<line x1="437.93" y1="221.5" x2="437.93" y2="223.5" stroke="#c4c4c4" stroke-width="0.8"/>
<line x1="504.4" y1="371" x2="504.4" y2="369" stroke="#c4c4c4" stroke-width="0.8"/>
<line x1="504.4" y1="221.5" x2="504.4" y2="223.5" stroke="#c4c4c4" stroke-width="0.8"/>
<line x1="305" y1="371" x2="307" y2="371" stroke="#c4c4c4" stroke-width="0.8"/>
<line x1="504.4" y1="371" x2="502.4" y2="371" stroke="#c4c4c4" stroke-width="0.8"/>
<line x1="305" y1="321.17" x2="307" y2="321.17" stroke="#c4c4c4" stroke-width="0.8"/>
<line x1="504.4" y1="321.17" x2="502.4" y2="321.17" stroke="#c4c4c4" stroke-width="0.8"/>
<line x1="305" y1="271.33" x2="307" y2="271.33" stroke="#c4c4c4" stroke-width="0.8"/>
<line x1="504.4" y1="271.33" x2="502.4" y2="271.33" stroke="#c4c4c4" stroke-width="0.8"/>
<line x1="305" y1="221.5" x2="307" y2="221.5" stroke="#c4c4c4" stroke-width="0.8"/>
<line x1="504.4" y1="221.5" x2="502.4" y2="221.5" stroke="#c4c4c4" stroke-width="0.8"/>
<text x="305" y="382.5" font-size="12" text-anchor="middle" font-family='"Liberation Sans", Arial, sans-serif' fill="#1a1a1a" stroke="#1a1a1a" >0</text>
<text x="371.47" y="382.5" font-size="12" text-anchor="middle" font-family='"Liberation Sans", Arial, sans-serif' fill="#1a1a1a" stroke="#1a1a1a" >1</text>
<text x="437.93" y="382.5" font-size="12" text-anchor="middle" font-family='"Liberation Sans", Arial, sans-serif' fill="#1a1a1a" stroke="#1a1a1a" >2</text>
<text x="504.4" y="382.5" font-size="12" text-anchor="middle" font-family='"Liberation Sans", Arial, sans-serif' fill="#1a1a1a" stroke="#1a1a1a" >3</text>
<text x="303.1" y="376.2" font-size="12" text-anchor="end" font-family='"Liberation Sans", Arial, sans-serif' fill="#1a1a1a" stroke="#1a1a1a" >85</text>
<text x="303.1" y="326.37" font-size="12" text-anchor="end" font-family='"Liberation Sans", Arial, sans-serif' fill="#1a1a1a" stroke="#1a1a1a" >90</text>
<text x="303.1" y="276.53" font-size="12" text-anchor="end" font-family='"Liberation Sans", Arial, sans-serif' fill="#1a1a1a" stroke="#1a1a1a" >95</text>
<text x="303.1" y="226.7" font-size="12" text-anchor="end" font-family='"Liberation Sans", Arial, sans-serif' fill="#1a1a1a" stroke="#1a1a1a" >100</text>
<text x="404.7" y="392.9" font-size="12.5" text-anchor="middle" font-family='"Liberation Sans", Arial, sans-serif' fill="#1a1a1a" stroke="#1a1a1a" >Time (µs)</text>
<text x="-41.6" y="0" font-size="11.3" textLength="83.2" lengthAdjust="spacingAndGlyphs" font-family='"Liberation Sans", Arial, sans-serif' fill="#1a1a1a" stroke="#1a1a1a" transform="translate(279.5 296.25) rotate(-90)">Amplitude (mV)</text>
<text x="262" y="225.7" font-size="20" text-anchor="start" font-family='"Liberation Sans", Arial, sans-serif' fill="#1a1a1a" stroke="#1a1a1a" >(f)</text>
<g clip-path="url(#cf)">
<path d="M305,362.53 L305.33,361.49 305.66,360.46 306,359.44 306.33,358.43 306.66,357.42 306.99,356.43 307.33,355.44 307.66,354.46 307.99,353.5 308.32,352.53 308.66,351.58 308.99,350.64 309.32,349.7 309.65,348.77 309.99,347.85 310.32,346.94 310.65,346.04 310.98,345.14 311.31,344.25 311.65,343.37 311.98,342.5 312.31,341.63 312.64,340.77 312.98,339.92 313.31,339.08 313.64,338.24 313.97,337.41 314.31,336.59 314.64,335.77 314.97,334.96 315.3,334.16 315.63,333.37 315.97,332.58 316.3,331.8 316.63,331.02 316.96,330.26 317.3,329.5 317.63,328.74 317.96,327.99 318.29,327.25 318.63,326.52 318.96,325.79 319.29,325.07 319.62,324.35 319.95,323.64 320.29,322.94 320.62,322.24 320.95,321.55 321.28,320.86 321.62,320.18 321.95,319.51 322.28,318.84 322.61,318.18 322.95,317.52 323.28,316.87 323.61,316.23 323.94,315.59 324.28,314.95 324.61,314.32 324.94,313.7 325.27,313.08 325.6,312.47 325.94,311.86 326.27,311.26 326.6,310.66 326.93,310.07 327.27,309.48 327.6,308.9 327.93,308.32 328.26,307.75 328.6,307.18 328.93,306.62 329.26,306.06 329.59,305.51 329.93,304.96 330.26,304.42 330.59,303.88 330.92,303.35 331.25,302.82 331.59,302.3 331.92,301.78 332.25,301.26 332.58,300.75 332.92,300.24 333.25,299.74 333.58,299.24 333.91,298.75 334.25,298.26 334.58,297.78 334.91,297.29 335.24,296.82 335.57,296.34 335.91,295.88 336.24,295.41 336.57,294.95 336.9,294.49 337.24,294.04 337.57,293.59 337.9,293.15 338.23,292.71 338.57,292.27 338.9,291.84 339.23,291.41 339.56,290.98 339.89,290.56 340.23,290.14 340.56,289.72 340.89,289.31 341.22,288.9 341.56,288.5 341.89,288.1 342.22,287.7 342.55,287.31 342.89,286.92 343.22,286.53 343.55,286.14 343.88,285.76 344.22,285.39 344.55,285.01 344.88,284.64 345.21,284.27 345.54,283.91 345.88,283.55 346.21,283.19 346.54,282.83 346.87,282.48 347.21,282.13 347.54,281.78 347.87,281.44 348.2,281.1 348.54,280.76 348.87,280.43 349.2,280.1 349.53,279.77 349.87,279.44 350.2,279.12 350.53,278.8 350.86,278.48 351.19,278.17 351.53,277.85 351.86,277.55 352.19,277.24 352.52,276.93 352.86,276.63 353.19,276.33 353.52,276.04 353.85,275.74 354.19,275.45 354.52,275.16 354.85,274.88 355.18,274.59 355.51,274.31 355.85,274.03 356.18,273.76 356.51,273.48 356.84,273.21 357.18,272.94 357.51,272.67 357.84,272.41 358.17,272.15 358.51,271.89 358.84,271.63 359.17,271.37 359.5,271.12 359.83,270.87 360.17,270.62 360.5,270.37 360.83,270.13 361.16,269.88 361.5,269.64 361.83,269.4 362.16,269.17 362.49,268.93 362.83,268.7 363.16,268.47 363.49,268.24 363.82,268.02 364.16,267.79 364.49,267.57 364.82,267.35 365.15,267.13 365.48,266.91 365.82,266.7 366.15,266.48 366.48,266.27 366.81,266.06 367.15,265.85 367.48,265.65 367.81,265.44 368.14,265.24 368.48,265.04 368.81,264.84 369.14,264.64 369.47,264.45 369.81,264.25 370.14,264.06 370.47,263.87 370.8,263.68 371.13,263.5 371.47,263.31 371.8,263.13 372.13,262.94 372.46,262.76 372.8,262.58 373.13,262.4 373.46,262.23 373.79,262.05 374.13,261.88 374.46,261.71 374.79,261.54 375.12,261.37 375.45,261.2 375.79,261.04 376.12,260.87 376.45,260.71 376.78,260.55 377.12,260.39 377.45,260.23 377.78,260.07 378.11,259.91 378.45,259.76 378.78,259.6 379.11,259.45 379.44,259.3 379.77,259.15 380.11,259 380.44,258.86 380.77,258.71 381.1,258.57 381.44,258.42 381.77,258.28 382.1,258.14 382.43,258 382.77,257.86 383.1,257.72 383.43,257.59 383.76,257.45 384.1,257.32 384.43,257.19 384.76,257.06 385.09,256.93 385.42,256.8 385.76,256.67 386.09,256.54 386.42,256.42 386.75,256.29 387.09,256.17 387.42,256.05 387.75,255.92 388.08,255.8 388.42,255.68 388.75,255.57 389.08,255.45 389.41,255.33 389.75,255.22 390.08,255.1 390.41,254.99 390.74,254.88 391.07,254.76 391.41,254.65 391.74,254.54 392.07,254.44 392.4,254.33 392.74,254.22 393.07,254.11 393.4,254.01 393.73,253.91 394.07,253.8 394.4,253.7 394.73,253.6 395.06,253.5 395.39,253.4 395.73,253.3 396.06,253.2 396.39,253.11 396.72,253.01 397.06,252.91 397.39,252.82 397.72,252.73 398.05,252.63 398.39,252.54 398.72,252.45 399.05,252.36 399.38,252.27 399.71,252.18 400.05,252.09 400.38,252 400.71,251.92 401.04,251.83 401.38,251.75 401.71,251.66 402.04,251.58 402.37,251.49 402.71,251.41 403.04,251.33 403.37,251.25 403.7,251.17 404.04,251.09 404.37,251.01 404.7,250.93 405.03,250.85 405.36,250.78 405.7,250.7 406.03,250.63 406.36,250.55 406.69,250.48 407.03,250.4 407.36,250.33 407.69,250.26 408.02,250.19 408.36,250.12 408.69,250.04 409.02,249.97 409.35,249.91 409.69,249.84 410.02,249.77 410.35,249.7 410.68,249.63 411.01,249.57 411.35,249.5 411.68,249.44 412.01,249.37 412.34,249.31 412.68,249.24 413.01,249.18 413.34,249.12 413.67,249.06 414.01,249 414.34,248.94 414.67,248.87 415,248.82 415.33,248.76 415.67,248.7 416,248.64 416.33,248.58 416.66,248.52 417,248.47 417.33,248.41 417.66,248.35 417.99,248.3 418.33,248.24 418.66,248.19 418.99,248.14 419.32,248.08 419.65,248.03 419.99,247.98 420.32,247.93 420.65,247.87 420.98,247.82 421.32,247.77 421.65,247.72 421.98,247.67 422.31,247.62 422.65,247.57 422.98,247.52 423.31,247.48 423.64,247.43 423.98,247.38 424.31,247.33 424.64,247.29 424.97,247.24 425.3,247.2 425.64,247.15 425.97,247.11 426.3,247.06 426.63,247.02 426.97,246.97 427.3,246.93 427.63,246.89 427.96,246.84 428.3,246.8 428.63,246.76 428.96,246.72 429.29,246.68 429.62,246.64 429.96,246.6 430.29,246.56 430.62,246.52 430.95,246.48 431.29,246.44 431.62,246.4 431.95,246.36 432.28,246.32 432.62,246.28 432.95,246.25 433.28,246.21 433.61,246.17 433.95,246.14 434.28,246.1 434.61,246.06 434.94,246.03 435.27,245.99 435.61,245.96 435.94,245.92 436.27,245.89 436.6,245.85 436.94,245.82 437.27,245.79 437.6,245.75 437.93,245.72 438.27,245.69 438.6,245.66 438.93,245.62 439.26,245.59 439.59,245.56 439.93,245.53 440.26,245.5 440.59,245.47 440.92,245.44 441.26,245.41 441.59,245.38 441.92,245.35 442.25,245.32 442.59,245.29 442.92,245.26 443.25,245.23 443.58,245.2 443.92,245.17 444.25,245.15 444.58,245.12 444.91,245.09 445.24,245.06 445.58,245.04 445.91,245.01 446.24,244.98 446.57,244.96 446.91,244.93 447.24,244.91 447.57,244.88 447.9,244.86 448.24,244.83 448.57,244.8 448.9,244.78 449.23,244.76 449.56,244.73 449.9,244.71 450.23,244.68 450.56,244.66 450.89,244.64 451.23,244.61 451.56,244.59 451.89,244.57 452.22,244.54 452.56,244.52 452.89,244.5 453.22,244.48 453.55,244.46 453.89,244.43 454.22,244.41 454.55,244.39 454.88,244.37 455.21,244.35 455.55,244.33 455.88,244.31 456.21,244.29 456.54,244.27 456.88,244.25 457.21,244.23 457.54,244.21 457.87,244.19 458.21,244.17 458.54,244.15 458.87,244.13 459.2,244.11 459.53,244.09 459.87,244.07 460.2,244.05 460.53,244.04 460.86,244.02 461.2,244 461.53,243.98 461.86,243.96 462.19,243.95 462.53,243.93 462.86,243.91 463.19,243.9 463.52,243.88 463.86,243.86 464.19,243.85 464.52,243.83 464.85,243.81 465.18,243.8 465.52,243.78 465.85,243.76 466.18,243.75 466.51,243.73 466.85,243.72 467.18,243.7 467.51,243.69 467.84,243.67 468.18,243.66 468.51,243.64 468.84,243.63 469.17,243.61 469.5,243.6 469.84,243.58 470.17,243.57 470.5,243.56 470.83,243.54 471.17,243.53 471.5,243.51 471.83,243.5 472.16,243.49 472.5,243.47 472.83,243.46 473.16,243.45 473.49,243.43 473.83,243.42 474.16,243.41 474.49,243.39 474.82,243.38 475.15,243.37 475.49,243.36 475.82,243.35 476.15,243.33 476.48,243.32 476.82,243.31 477.15,243.3 477.48,243.29 477.81,243.27 478.15,243.26 478.48,243.25 478.81,243.24 479.14,243.23 479.47,243.22 479.81,243.21 480.14,243.19 480.47,243.18 480.8,243.17 481.14,243.16 481.47,243.15 481.8,243.14 482.13,243.13 482.47,243.12 482.8,243.11 483.13,243.1 483.46,243.09 483.8,243.08 484.13,243.07 484.46,243.06 484.79,243.05 485.12,243.04 485.46,243.03 485.79,243.02 486.12,243.01 486.45,243 486.79,242.99 487.12,242.99 487.45,242.98 487.78,242.97 488.12,242.96 488.45,242.95 488.78,242.94 489.11,242.93 489.44,242.92 489.78,242.91 490.11,242.91 490.44,242.9 490.77,242.89 491.11,242.88 491.44,242.87 491.77,242.86 492.1,242.86 492.44,242.85 492.77,242.84 493.1,242.83 493.43,242.83 493.77,242.82 494.1,242.81 494.43,242.8 494.76,242.79 495.09,242.79 495.43,242.78 495.76,242.77 496.09,242.77 496.42,242.76 496.76,242.75 497.09,242.74 497.42,242.74 497.75,242.73 498.09,242.72 498.42,242.72 498.75,242.71 499.08,242.7 499.41,242.7 499.75,242.69 500.08,242.68 500.41,242.68 500.74,242.67 501.08,242.66 501.41,242.66 501.74,242.65 502.07,242.65 502.41,242.64 502.74,242.63 503.07,242.63 503.4,242.62 503.74,242.62 504.07,242.61 504.4,242.6" fill="none" stroke="#d9504c" stroke-width="1.35"/>
<g fill="#16109a"><circle cx="305" cy="362.35" r="1.35"/><circle cx="306.68" cy="355.3" r="1.35"/><circle cx="308.35" cy="354.52" r="1.35"/><circle cx="310.03" cy="346.16" r="1.35"/><circle cx="311.7" cy="339.07" r="1.35"/><circle cx="313.38" cy="337.05" r="1.35"/><circle cx="315.05" cy="327.75" r="1.35"/><circle cx="316.73" cy="334.77" r="1.35"/><circle cx="318.41" cy="326.7" r="1.35"/><circle cx="320.08" cy="326.54" r="1.35"/><circle cx="321.76" cy="323.41" r="1.35"/><circle cx="323.43" cy="317.4" r="1.35"/><circle cx="325.11" cy="312.39" r="1.35"/><circle cx="326.78" cy="308.46" r="1.35"/><circle cx="328.46" cy="305.14" r="1.35"/><circle cx="330.13" cy="294.6" r="1.35"/><circle cx="331.81" cy="298.08" r="1.35"/><circle cx="333.49" cy="306.54" r="1.35"/><circle cx="335.16" cy="296.02" r="1.35"/><circle cx="336.84" cy="297.38" r="1.35"/><circle cx="338.51" cy="294.65" r="1.35"/><circle cx="340.19" cy="284.33" r="1.35"/><circle cx="341.86" cy="289.13" r="1.35"/><circle cx="343.54" cy="294.91" r="1.35"/><circle cx="345.22" cy="282.88" r="1.35"/><circle cx="346.89" cy="283.77" r="1.35"/><circle cx="348.57" cy="286" r="1.35"/><circle cx="350.24" cy="283.21" r="1.35"/><circle cx="351.92" cy="280.3" r="1.35"/><circle cx="353.59" cy="276.08" r="1.35"/><circle cx="355.27" cy="276.43" r="1.35"/><circle cx="356.94" cy="272.81" r="1.35"/><circle cx="358.62" cy="263.56" r="1.35"/><circle cx="360.3" cy="274.11" r="1.35"/><circle cx="361.97" cy="272.92" r="1.35"/><circle cx="363.65" cy="269.25" r="1.35"/><circle cx="365.32" cy="262.1" r="1.35"/><circle cx="367" cy="269.11" r="1.35"/><circle cx="368.67" cy="258.49" r="1.35"/><circle cx="370.35" cy="269.81" r="1.35"/><circle cx="372.03" cy="267.63" r="1.35"/><circle cx="373.7" cy="262.35" r="1.35"/><circle cx="375.38" cy="265.11" r="1.35"/><circle cx="377.05" cy="263.19" r="1.35"/><circle cx="378.73" cy="257.6" r="1.35"/><circle cx="380.4" cy="255.62" r="1.35"/><circle cx="382.08" cy="257.64" r="1.35"/><circle cx="383.75" cy="258.69" r="1.35"/><circle cx="385.43" cy="250.77" r="1.35"/><circle cx="387.11" cy="254.35" r="1.35"/><circle cx="388.78" cy="256.61" r="1.35"/><circle cx="390.46" cy="249.53" r="1.35"/><circle cx="392.13" cy="258.46" r="1.35"/><circle cx="393.81" cy="253.14" r="1.35"/><circle cx="395.48" cy="250.41" r="1.35"/><circle cx="397.16" cy="252.93" r="1.35"/><circle cx="398.84" cy="254.99" r="1.35"/><circle cx="400.51" cy="250.4" r="1.35"/><circle cx="402.19" cy="253.97" r="1.35"/><circle cx="403.86" cy="253.8" r="1.35"/><circle cx="405.54" cy="255.33" r="1.35"/><circle cx="407.21" cy="244.51" r="1.35"/><circle cx="408.89" cy="252.47" r="1.35"/><circle cx="410.56" cy="244.48" r="1.35"/><circle cx="412.24" cy="247.62" r="1.35"/><circle cx="413.92" cy="250.18" r="1.35"/><circle cx="415.59" cy="245.72" r="1.35"/><circle cx="417.27" cy="247.2" r="1.35"/><circle cx="418.94" cy="247.55" r="1.35"/><circle cx="420.62" cy="254.05" r="1.35"/><circle cx="422.29" cy="247.31" r="1.35"/><circle cx="423.97" cy="243.37" r="1.35"/><circle cx="425.65" cy="244.96" r="1.35"/><circle cx="427.32" cy="242.46" r="1.35"/><circle cx="429" cy="240.03" r="1.35"/><circle cx="430.67" cy="244.67" r="1.35"/><circle cx="432.35" cy="237.46" r="1.35"/><circle cx="434.02" cy="252.92" r="1.35"/><circle cx="435.7" cy="247.03" r="1.35"/><circle cx="437.37" cy="257.1" r="1.35"/><circle cx="439.05" cy="241.93" r="1.35"/><circle cx="440.73" cy="245.03" r="1.35"/><circle cx="442.4" cy="237.73" r="1.35"/><circle cx="444.08" cy="246.8" r="1.35"/><circle cx="445.75" cy="254.11" r="1.35"/><circle cx="447.43" cy="239.16" r="1.35"/><circle cx="449.1" cy="250.78" r="1.35"/><circle cx="450.78" cy="250.33" r="1.35"/><circle cx="452.46" cy="245.32" r="1.35"/><circle cx="454.13" cy="241.6" r="1.35"/><circle cx="455.81" cy="246.59" r="1.35"/><circle cx="457.48" cy="243.37" r="1.35"/><circle cx="459.16" cy="252.55" r="1.35"/><circle cx="460.83" cy="236.26" r="1.35"/><circle cx="462.51" cy="244.23" r="1.35"/><circle cx="464.18" cy="243.31" r="1.35"/><circle cx="465.86" cy="241.14" r="1.35"/><circle cx="467.54" cy="242.93" r="1.35"/><circle cx="469.21" cy="242.71" r="1.35"/><circle cx="470.89" cy="247.7" r="1.35"/><circle cx="472.56" cy="243.98" r="1.35"/><circle cx="474.24" cy="241.44" r="1.35"/><circle cx="475.91" cy="238.66" r="1.35"/><circle cx="477.59" cy="243.82" r="1.35"/><circle cx="479.27" cy="242.81" r="1.35"/><circle cx="480.94" cy="241.65" r="1.35"/><circle cx="482.62" cy="240.55" r="1.35"/><circle cx="484.29" cy="242.14" r="1.35"/><circle cx="485.97" cy="244.15" r="1.35"/><circle cx="487.64" cy="245.26" r="1.35"/><circle cx="489.32" cy="237.89" r="1.35"/><circle cx="490.99" cy="241.56" r="1.35"/><circle cx="492.67" cy="242.75" r="1.35"/><circle cx="494.35" cy="227.21" r="1.35"/><circle cx="496.02" cy="238.81" r="1.35"/><circle cx="497.7" cy="238.91" r="1.35"/><circle cx="499.37" cy="242.01" r="1.35"/><circle cx="501.05" cy="247.22" r="1.35"/><circle cx="502.72" cy="237.54" r="1.35"/><circle cx="504.4" cy="243" r="1.35"/></g>
</g>
<clipPath id="cc"><rect x="46.7" y="421.2" width="204.7" height="150.2"/></clipPath>
<rect x="48.7" y="423.2" width="200.7" height="146.2" fill="none" stroke="#c4c4c4" stroke-width="1.4"/>
<line x1="48.7" y1="569.4" x2="48.7" y2="567.4" stroke="#c4c4c4" stroke-width="0.8"/>
<line x1="48.7" y1="423.2" x2="48.7" y2="425.2" stroke="#c4c4c4" stroke-width="0.8"/>
<line x1="88.84" y1="569.4" x2="88.84" y2="567.4" stroke="#c4c4c4" stroke-width="0.8"/>
<line x1="88.84" y1="423.2" x2="88.84" y2="425.2" stroke="#c4c4c4" stroke-width="0.8"/>
<line x1="128.98" y1="569.4" x2="128.98" y2="567.4" stroke="#c4c4c4" stroke-width="0.8"/>
<line x1="128.98" y1="423.2" x2="128.98" y2="425.2" stroke="#c4c4c4" stroke-width="0.8"/>
<line x1="169.12" y1="569.4" x2="169.12" y2="567.4" stroke="#c4c4c4" stroke-width="0.8"/>
<line x1="169.12" y1="423.2" x2="169.12" y2="425.2" stroke="#c4c4c4" stroke-width="0.8"/>
<line x1="209.26" y1="569.4" x2="209.26" y2="567.4" stroke="#c4c4c4" stroke-width="0.8"/>
<line x1="209.26" y1="423.2" x2="209.26" y2="425.2" stroke="#c4c4c4" stroke-width="0.8"/>
<line x1="249.4" y1="569.4" x2="249.4" y2="567.4" stroke="#c4c4c4" stroke-width="0.8"/>
<line x1="249.4" y1="423.2" x2="249.4" y2="425.2" stroke="#c4c4c4" stroke-width="0.8"/>
<line x1="48.7" y1="569.4" x2="50.7" y2="569.4" stroke="#c4c4c4" stroke-width="0.8"/>
<line x1="249.4" y1="569.4" x2="247.4" y2="569.4" stroke="#c4c4c4" stroke-width="0.8"/>
<line x1="48.7" y1="532.85" x2="50.7" y2="532.85" stroke="#c4c4c4" stroke-width="0.8"/>
<line x1="249.4" y1="532.85" x2="247.4" y2="532.85" stroke="#c4c4c4" stroke-width="0.8"/>
<line x1="48.7" y1="496.3" x2="50.7" y2="496.3" stroke="#c4c4c4" stroke-width="0.8"/>
<line x1="249.4" y1="496.3" x2="247.4" y2="496.3" stroke="#c4c4c4" stroke-width="0.8"/>
<line x1="48.7" y1="459.75" x2="50.7" y2="459.75" stroke="#c4c4c4" stroke-width="0.8"/>
<line x1="249.4" y1="459.75" x2="247.4" y2="459.75" stroke="#c4c4c4" stroke-width="0.8"/>
<line x1="48.7" y1="423.2" x2="50.7" y2="423.2" stroke="#c4c4c4" stroke-width="0.8"/>
<line x1="249.4" y1="423.2" x2="247.4" y2="423.2" stroke="#c4c4c4" stroke-width="0.8"/>
<text x="48.7" y="581.3" font-size="12" text-anchor="middle" font-family='"Liberation Sans", Arial, sans-serif' fill="#1a1a1a" stroke="#1a1a1a" >0</text>
<text x="88.84" y="581.3" font-size="12" text-anchor="middle" font-family='"Liberation Sans", Arial, sans-serif' fill="#1a1a1a" stroke="#1a1a1a" >0.1</text>
<text x="128.98" y="581.3" font-size="12" text-anchor="middle" font-family='"Liberation Sans", Arial, sans-serif' fill="#1a1a1a" stroke="#1a1a1a" >0.2</text>
<text x="169.12" y="581.3" font-size="12" text-anchor="middle" font-family='"Liberation Sans", Arial, sans-serif' fill="#1a1a1a" stroke="#1a1a1a" >0.3</text>
<text x="209.26" y="581.3" font-size="12" text-anchor="middle" font-family='"Liberation Sans", Arial, sans-serif' fill="#1a1a1a" stroke="#1a1a1a" >0.4</text>
<text x="249.4" y="581.3" font-size="12" text-anchor="middle" font-family='"Liberation Sans", Arial, sans-serif' fill="#1a1a1a" stroke="#1a1a1a" >0.5</text>
<text x="48.1" y="574.25" font-size="12" text-anchor="end" font-family='"Liberation Sans", Arial, sans-serif' fill="#1a1a1a" stroke="#1a1a1a" >140</text>
<text x="48.1" y="537.7" font-size="12" text-anchor="end" font-family='"Liberation Sans", Arial, sans-serif' fill="#1a1a1a" stroke="#1a1a1a" >150</text>
<text x="48.1" y="501.15" font-size="12" text-anchor="end" font-family='"Liberation Sans", Arial, sans-serif' fill="#1a1a1a" stroke="#1a1a1a" >160</text>
<text x="48.1" y="464.6" font-size="12" text-anchor="end" font-family='"Liberation Sans", Arial, sans-serif' fill="#1a1a1a" stroke="#1a1a1a" >170</text>
<text x="48.1" y="428.05" font-size="12" text-anchor="end" font-family='"Liberation Sans", Arial, sans-serif' fill="#1a1a1a" stroke="#1a1a1a" >180</text>
<text x="149.05" y="593.6" font-size="12.5" text-anchor="middle" font-family='"Liberation Sans", Arial, sans-serif' fill="#1a1a1a" stroke="#1a1a1a" >Time (µs)</text>
<text x="-41.6" y="0" font-size="11.3" textLength="83.2" lengthAdjust="spacingAndGlyphs" font-family='"Liberation Sans", Arial, sans-serif' fill="#1a1a1a" stroke="#1a1a1a" transform="translate(21.8 496.3) rotate(-90)">Amplitude (mV)</text>
<text x="1.5" y="430.1" font-size="20" text-anchor="start" font-family='"Liberation Sans", Arial, sans-serif' fill="#1a1a1a" stroke="#1a1a1a" >(c)</text>
<g clip-path="url(#cc)">
<path d="M48.7,490.18 L49.03,487.43 49.37,484.71 49.7,482.03 50.04,479.4 50.37,476.82 50.71,474.29 51.04,471.82 51.38,469.42 51.71,467.08 52.05,464.82 52.38,462.64 52.71,460.54 53.05,458.53 53.38,456.6 53.72,454.77 54.05,453.04 54.39,451.41 54.72,449.87 55.06,448.45 55.39,447.13 55.72,445.92 56.06,444.82 56.39,443.84 56.73,442.97 57.06,442.22 57.4,441.58 57.73,441.06 58.07,440.66 58.4,440.37 58.73,440.21 59.07,440.16 59.4,440.22 59.74,440.41 60.07,440.71 60.41,441.12 60.74,441.65 61.08,442.28 61.41,443.03 61.75,443.88 62.08,444.84 62.41,445.89 62.75,447.05 63.08,448.3 63.42,449.64 63.75,451.08 64.09,452.6 64.42,454.2 64.76,455.88 65.09,457.63 65.42,459.46 65.76,461.35 66.09,463.31 66.43,465.32 66.76,467.38 67.1,469.49 67.43,471.65 67.77,473.84 68.1,476.07 68.44,478.33 68.77,480.62 69.1,482.92 69.44,485.24 69.77,487.57 70.11,489.9 70.44,492.23 70.78,494.56 71.11,496.88 71.45,499.18 71.78,501.47 72.12,503.73 72.45,505.96 72.78,508.16 73.12,510.33 73.45,512.45 73.79,514.53 74.12,516.55 74.46,518.53 74.79,520.44 75.13,522.3 75.46,524.09 75.79,525.81 76.13,527.46 76.46,529.04 76.8,530.54 77.13,531.96 77.47,533.3 77.8,534.56 78.14,535.73 78.47,536.8 78.81,537.79 79.14,538.69 79.47,539.49 79.81,540.2 80.14,540.82 80.48,541.34 80.81,541.76 81.15,542.08 81.48,542.31 81.82,542.44 82.15,542.48 82.48,542.42 82.82,542.26 83.15,542.01 83.49,541.66 83.82,541.22 84.16,540.69 84.49,540.08 84.83,539.37 85.16,538.58 85.5,537.71 85.83,536.75 86.16,535.72 86.5,534.61 86.83,533.42 87.17,532.17 87.5,530.85 87.84,529.46 88.17,528.01 88.51,526.51 88.84,524.95 89.17,523.34 89.51,521.68 89.84,519.98 90.18,518.24 90.51,516.47 90.85,514.66 91.18,512.83 91.52,510.97 91.85,509.09 92.19,507.19 92.52,505.28 92.85,503.37 93.19,501.45 93.52,499.53 93.86,497.62 94.19,495.71 94.53,493.82 94.86,491.94 95.2,490.08 95.53,488.24 95.86,486.43 96.2,484.66 96.53,482.91 96.87,481.21 97.2,479.54 97.54,477.92 97.87,476.35 98.21,474.83 98.54,473.36 98.88,471.94 99.21,470.59 99.54,469.29 99.88,468.06 100.21,466.9 100.55,465.8 100.88,464.77 101.22,463.82 101.55,462.93 101.89,462.13 102.22,461.39 102.55,460.74 102.89,460.16 103.22,459.66 103.56,459.23 103.89,458.89 104.23,458.63 104.56,458.45 104.9,458.34 105.23,458.32 105.56,458.38 105.9,458.51 106.23,458.72 106.57,459.01 106.9,459.38 107.24,459.81 107.57,460.33 107.91,460.91 108.24,461.57 108.58,462.29 108.91,463.08 109.24,463.93 109.58,464.85 109.91,465.83 110.25,466.86 110.58,467.95 110.92,469.1 111.25,470.29 111.59,471.53 111.92,472.81 112.25,474.14 112.59,475.5 112.92,476.91 113.26,478.34 113.59,479.8 113.93,481.29 114.26,482.8 114.6,484.33 114.93,485.88 115.27,487.44 115.6,489 115.93,490.58 116.27,492.16 116.6,493.74 116.94,495.31 117.27,496.88 117.61,498.44 117.94,499.98 118.28,501.51 118.61,503.02 118.94,504.5 119.28,505.96 119.61,507.4 119.95,508.8 120.28,510.16 120.62,511.5 120.95,512.79 121.29,514.04 121.62,515.24 121.96,516.4 122.29,517.51 122.62,518.58 122.96,519.58 123.29,520.54 123.63,521.44 123.96,522.28 124.3,523.06 124.63,523.78 124.97,524.45 125.3,525.05 125.64,525.58 125.97,526.05 126.3,526.46 126.64,526.81 126.97,527.08 127.31,527.29 127.64,527.44 127.98,527.52 128.31,527.54 128.65,527.49 128.98,527.37 129.31,527.2 129.65,526.95 129.98,526.65 130.32,526.29 130.65,525.86 130.99,525.38 131.32,524.83 131.66,524.24 131.99,523.58 132.32,522.88 132.66,522.12 132.99,521.31 133.33,520.46 133.66,519.56 134,518.62 134.33,517.63 134.67,516.61 135,515.55 135.34,514.46 135.67,513.34 136,512.18 136.34,511 136.67,509.8 137.01,508.57 137.34,507.33 137.68,506.07 138.01,504.8 138.35,503.51 138.68,502.22 139.01,500.93 139.35,499.63 139.68,498.33 140.02,497.04 140.35,495.75 140.69,494.47 141.02,493.2 141.36,491.94 141.69,490.7 142.03,489.48 142.36,488.28 142.69,487.1 143.03,485.95 143.36,484.83 143.7,483.74 144.03,482.68 144.37,481.65 144.7,480.66 145.04,479.71 145.37,478.8 145.7,477.93 146.04,477.1 146.37,476.32 146.71,475.58 147.04,474.89 147.38,474.25 147.71,473.66 148.05,473.12 148.38,472.63 148.72,472.19 149.05,471.81 149.38,471.47 149.72,471.19 150.05,470.97 150.39,470.8 150.72,470.68 151.06,470.62 151.39,470.61 151.73,470.65 152.06,470.75 152.4,470.9 152.73,471.1 153.06,471.35 153.4,471.66 153.73,472.01 154.07,472.41 154.4,472.86 154.74,473.35 155.07,473.89 155.41,474.48 155.74,475.1 156.07,475.77 156.41,476.47 156.74,477.21 157.08,477.99 157.41,478.8 157.75,479.64 158.08,480.52 158.42,481.42 158.75,482.34 159.09,483.29 159.42,484.27 159.75,485.26 160.09,486.27 160.42,487.29 160.76,488.33 161.09,489.37 161.43,490.43 161.76,491.49 162.1,492.56 162.43,493.63 162.76,494.69 163.1,495.76 163.43,496.82 163.77,497.87 164.1,498.91 164.44,499.95 164.77,500.97 165.11,501.97 165.44,502.96 165.78,503.92 166.11,504.87 166.44,505.79 166.78,506.69 167.11,507.56 167.45,508.4 167.78,509.21 168.12,509.99 168.45,510.74 168.79,511.45 169.12,512.13 169.45,512.77 169.79,513.38 170.12,513.94 170.46,514.47 170.79,514.95 171.13,515.39 171.46,515.79 171.8,516.15 172.13,516.46 172.47,516.74 172.8,516.96 173.13,517.14 173.47,517.28 173.8,517.38 174.14,517.43 174.47,517.43 174.81,517.39 175.14,517.31 175.48,517.18 175.81,517.02 176.14,516.81 176.48,516.55 176.81,516.26 177.15,515.93 177.48,515.56 177.82,515.15 178.15,514.7 178.49,514.22 178.82,513.7 179.15,513.15 179.49,512.57 179.82,511.96 180.16,511.32 180.49,510.65 180.83,509.96 181.16,509.24 181.5,508.5 181.83,507.73 182.17,506.95 182.5,506.15 182.83,505.33 183.17,504.5 183.5,503.66 183.84,502.81 184.17,501.94 184.51,501.08 184.84,500.2 185.18,499.32 185.51,498.45 185.84,497.57 186.18,496.69 186.51,495.82 186.85,494.96 187.18,494.1 187.52,493.25 187.85,492.41 188.19,491.59 188.52,490.78 188.86,489.98 189.19,489.21 189.52,488.45 189.86,487.71 190.19,487 190.53,486.31 190.86,485.64 191.2,485 191.53,484.39 191.87,483.8 192.2,483.25 192.53,482.72 192.87,482.23 193.2,481.76 193.54,481.33 193.87,480.94 194.21,480.58 194.54,480.25 194.88,479.96 195.21,479.7 195.55,479.48 195.88,479.3 196.21,479.15 196.55,479.04 196.88,478.96 197.22,478.92 197.55,478.92 197.89,478.96 198.22,479.03 198.56,479.13 198.89,479.27 199.22,479.45 199.56,479.66 199.89,479.9 200.23,480.17 200.56,480.48 200.9,480.82 201.23,481.19 201.57,481.59 201.9,482.01 202.24,482.47 202.57,482.95 202.9,483.45 203.24,483.98 203.57,484.53 203.91,485.1 204.24,485.7 204.58,486.31 204.91,486.94 205.25,487.58 205.58,488.24 205.92,488.91 206.25,489.59 206.58,490.29 206.92,490.99 207.25,491.7 207.59,492.42 207.92,493.13 208.26,493.86 208.59,494.58 208.93,495.3 209.26,496.02 209.59,496.74 209.93,497.45 210.26,498.15 210.6,498.85 210.93,499.54 211.27,500.22 211.6,500.88 211.94,501.53 212.27,502.17 212.61,502.79 212.94,503.4 213.27,503.98 213.61,504.55 213.94,505.1 214.28,505.62 214.61,506.13 214.95,506.61 215.28,507.06 215.62,507.49 215.95,507.9 216.28,508.28 216.62,508.63 216.95,508.95 217.29,509.25 217.62,509.52 217.96,509.76 218.29,509.96 218.63,510.14 218.96,510.29 219.3,510.41 219.63,510.5 219.96,510.56 220.3,510.59 220.63,510.59 220.97,510.56 221.3,510.5 221.64,510.42 221.97,510.3 222.31,510.15 222.64,509.98 222.97,509.78 223.31,509.55 223.64,509.3 223.98,509.02 224.31,508.71 224.65,508.38 224.98,508.03 225.32,507.66 225.65,507.26 225.99,506.84 226.32,506.41 226.65,505.95 226.99,505.48 227.32,504.99 227.66,504.49 227.99,503.97 228.33,503.44 228.66,502.9 229,502.34 229.33,501.78 229.66,501.21 230,500.63 230.33,500.05 230.67,499.46 231,498.87 231.34,498.27 231.67,497.68 232.01,497.09 232.34,496.49 232.68,495.91 233.01,495.32 233.34,494.74 233.68,494.17 234.01,493.6 234.35,493.05 234.68,492.5 235.02,491.96 235.35,491.44 235.69,490.93 236.02,490.43 236.35,489.95 236.69,489.49 237.02,489.04 237.36,488.61 237.69,488.19 238.03,487.8 238.36,487.43 238.7,487.07 239.03,486.74 239.37,486.43 239.7,486.14 240.03,485.88 240.37,485.63 240.7,485.42 241.04,485.22 241.37,485.05 241.71,484.9 242.04,484.78 242.38,484.69 242.71,484.61 243.04,484.57 243.38,484.54 243.71,484.54 244.05,484.57 244.38,484.62 244.72,484.69 245.05,484.79 245.39,484.91 245.72,485.06 246.06,485.23 246.39,485.41 246.72,485.62 247.06,485.86 247.39,486.11 247.73,486.38 248.06,486.67 248.4,486.98 248.73,487.31 249.07,487.65 249.4,488.01" fill="none" stroke="#d9504c" stroke-width="1.35"/>
<g fill="#16109a"><circle cx="48.7" cy="496.47" r="1.35"/><circle cx="50.73" cy="479.51" r="1.35"/><circle cx="52.75" cy="459.42" r="1.35"/><circle cx="54.78" cy="456.49" r="1.35"/><circle cx="56.81" cy="442.6" r="1.35"/><circle cx="58.84" cy="445.64" r="1.35"/><circle cx="60.86" cy="437.26" r="1.35"/><circle cx="62.89" cy="445.62" r="1.35"/><circle cx="64.92" cy="451.7" r="1.35"/><circle cx="66.95" cy="469.44" r="1.35"/><circle cx="68.97" cy="480.89" r="1.35"/><circle cx="71" cy="497.57" r="1.35"/><circle cx="73.03" cy="513" r="1.35"/><circle cx="75.05" cy="522.83" r="1.35"/><circle cx="77.08" cy="536.72" r="1.35"/><circle cx="79.11" cy="540.54" r="1.35"/><circle cx="81.14" cy="540.18" r="1.35"/><circle cx="83.16" cy="540.9" r="1.35"/><circle cx="85.19" cy="537.47" r="1.35"/><circle cx="87.22" cy="521.9" r="1.35"/><circle cx="89.25" cy="517.7" r="1.35"/><circle cx="91.27" cy="507.6" r="1.35"/><circle cx="93.3" cy="492.85" r="1.35"/><circle cx="95.33" cy="482.71" r="1.35"/><circle cx="97.35" cy="471.54" r="1.35"/><circle cx="99.38" cy="462.85" r="1.35"/><circle cx="101.41" cy="450.09" r="1.35"/><circle cx="103.44" cy="453.28" r="1.35"/><circle cx="105.46" cy="453.44" r="1.35"/><circle cx="107.49" cy="455.69" r="1.35"/><circle cx="109.52" cy="458.18" r="1.35"/><circle cx="111.55" cy="473.28" r="1.35"/><circle cx="113.57" cy="484.38" r="1.35"/><circle cx="115.6" cy="485.79" r="1.35"/><circle cx="117.63" cy="507.46" r="1.35"/><circle cx="119.65" cy="513.34" r="1.35"/><circle cx="121.68" cy="517.59" r="1.35"/><circle cx="123.71" cy="517.83" r="1.35"/><circle cx="125.74" cy="529.6" r="1.35"/><circle cx="127.76" cy="533.49" r="1.35"/><circle cx="129.79" cy="521.39" r="1.35"/><circle cx="131.82" cy="519.47" r="1.35"/><circle cx="133.85" cy="511.86" r="1.35"/><circle cx="135.87" cy="500.96" r="1.35"/><circle cx="137.9" cy="492.72" r="1.35"/><circle cx="139.93" cy="483.8" r="1.35"/><circle cx="141.95" cy="478.08" r="1.35"/><circle cx="143.98" cy="466.7" r="1.35"/><circle cx="146.01" cy="461.65" r="1.35"/><circle cx="148.04" cy="463.75" r="1.35"/><circle cx="150.06" cy="465.29" r="1.35"/><circle cx="152.09" cy="464.19" r="1.35"/><circle cx="154.12" cy="469.28" r="1.35"/><circle cx="156.15" cy="479.64" r="1.35"/><circle cx="158.17" cy="484.93" r="1.35"/><circle cx="160.2" cy="487.97" r="1.35"/><circle cx="162.23" cy="498.64" r="1.35"/><circle cx="164.25" cy="505.93" r="1.35"/><circle cx="166.28" cy="509.74" r="1.35"/><circle cx="168.31" cy="514.24" r="1.35"/><circle cx="170.34" cy="516.08" r="1.35"/><circle cx="172.36" cy="521.68" r="1.35"/><circle cx="174.39" cy="508.99" r="1.35"/><circle cx="176.42" cy="509.9" r="1.35"/><circle cx="178.45" cy="508.06" r="1.35"/><circle cx="180.47" cy="496.73" r="1.35"/><circle cx="182.5" cy="492.35" r="1.35"/><circle cx="184.53" cy="486.95" r="1.35"/><circle cx="186.55" cy="478.25" r="1.35"/><circle cx="188.58" cy="470.01" r="1.35"/><circle cx="190.61" cy="471.66" r="1.35"/><circle cx="192.64" cy="466.85" r="1.35"/><circle cx="194.66" cy="465.05" r="1.35"/><circle cx="196.69" cy="475.82" r="1.35"/><circle cx="198.72" cy="477.29" r="1.35"/><circle cx="200.75" cy="477.58" r="1.35"/><circle cx="202.77" cy="489.75" r="1.35"/><circle cx="204.8" cy="490.83" r="1.35"/><circle cx="206.83" cy="491.53" r="1.35"/><circle cx="208.85" cy="497.07" r="1.35"/><circle cx="210.88" cy="502.41" r="1.35"/><circle cx="212.91" cy="512.52" r="1.35"/><circle cx="214.94" cy="501.66" r="1.35"/><circle cx="216.96" cy="507.1" r="1.35"/><circle cx="218.99" cy="505.27" r="1.35"/><circle cx="221.02" cy="503.64" r="1.35"/><circle cx="223.05" cy="506.67" r="1.35"/><circle cx="225.07" cy="501.72" r="1.35"/><circle cx="227.1" cy="496.59" r="1.35"/><circle cx="229.13" cy="482.94" r="1.35"/><circle cx="231.15" cy="486.85" r="1.35"/><circle cx="233.18" cy="481.68" r="1.35"/><circle cx="235.21" cy="479.19" r="1.35"/><circle cx="237.24" cy="475.35" r="1.35"/><circle cx="239.26" cy="475.3" r="1.35"/><circle cx="241.29" cy="476.89" r="1.35"/><circle cx="243.32" cy="483.32" r="1.35"/><circle cx="245.35" cy="491.63" r="1.35"/><circle cx="247.37" cy="485.4" r="1.35"/><circle cx="249.4" cy="488.86" r="1.35"/></g>
</g>
<clipPath id="cg"><rect x="303" y="422" width="203.4" height="150.6"/></clipPath>
<rect x="305" y="424" width="199.4" height="146.6" fill="none" stroke="#c4c4c4" stroke-width="1.4"/>
<line x1="305" y1="570.6" x2="305" y2="568.6" stroke="#c4c4c4" stroke-width="0.8"/>
<line x1="305" y1="424" x2="305" y2="426" stroke="#c4c4c4" stroke-width="0.8"/>
<line x1="371.47" y1="570.6" x2="371.47" y2="568.6" stroke="#c4c4c4" stroke-width="0.8"/>
<line x1="371.47" y1="424" x2="371.47" y2="426" stroke="#c4c4c4" stroke-width="0.8"/>
<line x1="437.93" y1="570.6" x2="437.93" y2="568.6" stroke="#c4c4c4" stroke-width="0.8"/>
<line x1="437.93" y1="424" x2="437.93" y2="426" stroke="#c4c4c4" stroke-width="0.8"/>
<line x1="504.4" y1="570.6" x2="504.4" y2="568.6" stroke="#c4c4c4" stroke-width="0.8"/>
<line x1="504.4" y1="424" x2="504.4" y2="426" stroke="#c4c4c4" stroke-width="0.8"/>
<line x1="305" y1="570.6" x2="307" y2="570.6" stroke="#c4c4c4" stroke-width="0.8"/>
<line x1="504.4" y1="570.6" x2="502.4" y2="570.6" stroke="#c4c4c4" stroke-width="0.8"/>
<line x1="305" y1="521.73" x2="307" y2="521.73" stroke="#c4c4c4" stroke-width="0.8"/>
<line x1="504.4" y1="521.73" x2="502.4" y2="521.73" stroke="#c4c4c4" stroke-width="0.8"/>
<line x1="305" y1="472.87" x2="307" y2="472.87" stroke="#c4c4c4" stroke-width="0.8"/>
<line x1="504.4" y1="472.87" x2="502.4" y2="472.87" stroke="#c4c4c4" stroke-width="0.8"/>
<line x1="305" y1="424" x2="307" y2="424" stroke="#c4c4c4" stroke-width="0.8"/>
<line x1="504.4" y1="424" x2="502.4" y2="424" stroke="#c4c4c4" stroke-width="0.8"/>
<text x="305" y="582.6" font-size="12" text-anchor="middle" font-family='"Liberation Sans", Arial, sans-serif' fill="#1a1a1a" stroke="#1a1a1a" >0</text>
<text x="371.47" y="582.6" font-size="12" text-anchor="middle" font-family='"Liberation Sans", Arial, sans-serif' fill="#1a1a1a" stroke="#1a1a1a" >0.1</text>
<text x="437.93" y="582.6" font-size="12" text-anchor="middle" font-family='"Liberation Sans", Arial, sans-serif' fill="#1a1a1a" stroke="#1a1a1a" >0.2</text>
<text x="504.4" y="582.6" font-size="12" text-anchor="middle" font-family='"Liberation Sans", Arial, sans-serif' fill="#1a1a1a" stroke="#1a1a1a" >0.3</text>
<text x="303.1" y="575.65" font-size="12" text-anchor="end" font-family='"Liberation Sans", Arial, sans-serif' fill="#1a1a1a" stroke="#1a1a1a" >140</text>
<text x="303.1" y="526.78" font-size="12" text-anchor="end" font-family='"Liberation Sans", Arial, sans-serif' fill="#1a1a1a" stroke="#1a1a1a" >150</text>
<text x="303.1" y="477.92" font-size="12" text-anchor="end" font-family='"Liberation Sans", Arial, sans-serif' fill="#1a1a1a" stroke="#1a1a1a" >160</text>
<text x="303.1" y="429.05" font-size="12" text-anchor="end" font-family='"Liberation Sans", Arial, sans-serif' fill="#1a1a1a" stroke="#1a1a1a" >170</text>
<text x="404.7" y="592.9" font-size="12.5" text-anchor="middle" font-family='"Liberation Sans", Arial, sans-serif' fill="#1a1a1a" stroke="#1a1a1a" >Time (µs)</text>
<text x="-41.6" y="0" font-size="11.3" textLength="83.2" lengthAdjust="spacingAndGlyphs" font-family='"Liberation Sans", Arial, sans-serif' fill="#1a1a1a" stroke="#1a1a1a" transform="translate(279.3 497.3) rotate(-90)">Amplitude (mV)</text>
<text x="257.2" y="428.7" font-size="20" text-anchor="start" font-family='"Liberation Sans", Arial, sans-serif' fill="#1a1a1a" stroke="#1a1a1a" >(g)</text>
<g clip-path="url(#cg)">
<path d="M305,446.31 L305.33,445.83 305.66,445.58 306,445.57 306.33,445.79 306.66,446.25 306.99,446.93 307.33,447.83 307.66,448.96 307.99,450.3 308.32,451.84 308.66,453.59 308.99,455.53 309.32,457.65 309.65,459.95 309.99,462.41 310.32,465.02 310.65,467.77 310.98,470.65 311.31,473.65 311.65,476.75 311.98,479.94 312.31,483.2 312.64,486.52 312.98,489.89 313.31,493.29 313.64,496.71 313.97,500.13 314.31,503.55 314.64,506.93 314.97,510.27 315.3,513.56 315.63,516.79 315.97,519.93 316.3,522.97 316.63,525.91 316.96,528.73 317.3,531.42 317.63,533.97 317.96,536.37 318.29,538.6 318.63,540.66 318.96,542.55 319.29,544.25 319.62,545.76 319.95,547.07 320.29,548.18 320.62,549.08 320.95,549.77 321.28,550.25 321.62,550.52 321.95,550.57 322.28,550.41 322.61,550.04 322.95,549.46 323.28,548.68 323.61,547.69 323.94,546.51 324.28,545.13 324.61,543.58 324.94,541.84 325.27,539.94 325.6,537.87 325.94,535.66 326.27,533.3 326.6,530.82 326.93,528.21 327.27,525.5 327.6,522.69 327.93,519.8 328.26,516.84 328.6,513.82 328.93,510.75 329.26,507.65 329.59,504.53 329.93,501.41 330.26,498.3 330.59,495.2 330.92,492.15 331.25,489.13 331.59,486.18 331.92,483.3 332.25,480.5 332.58,477.8 332.92,475.21 333.25,472.73 333.58,470.38 333.91,468.17 334.25,466.1 334.58,464.18 334.91,462.43 335.24,460.84 335.57,459.43 335.91,458.2 336.24,457.15 336.57,456.29 336.9,455.63 337.24,455.15 337.57,454.87 337.9,454.78 338.23,454.89 338.57,455.18 338.9,455.68 339.23,456.35 339.56,457.22 339.89,458.26 340.23,459.48 340.56,460.87 340.89,462.42 341.22,464.12 341.56,465.98 341.89,467.97 342.22,470.09 342.55,472.34 342.89,474.69 343.22,477.15 343.55,479.69 343.88,482.32 344.22,485.01 344.55,487.75 344.88,490.54 345.21,493.37 345.54,496.21 345.88,499.05 346.21,501.9 346.54,504.72 346.87,507.52 347.21,510.28 347.54,512.98 347.87,515.62 348.2,518.19 348.54,520.67 348.87,523.06 349.2,525.34 349.53,527.51 349.87,529.55 350.2,531.47 350.53,533.24 350.86,534.87 351.19,536.35 351.53,537.67 351.86,538.82 352.19,539.81 352.52,540.63 352.86,541.28 353.19,541.75 353.52,542.04 353.85,542.16 354.19,542.09 354.52,541.86 354.85,541.44 355.18,540.86 355.51,540.1 355.85,539.19 356.18,538.11 356.51,536.87 356.84,535.48 357.18,533.96 357.51,532.29 357.84,530.5 358.17,528.58 358.51,526.56 358.84,524.43 359.17,522.21 359.5,519.9 359.83,517.52 360.17,515.08 360.5,512.58 360.83,510.05 361.16,507.48 361.5,504.89 361.83,502.29 362.16,499.7 362.49,497.12 362.83,494.56 363.16,492.04 363.49,489.56 363.82,487.14 364.16,484.78 364.49,482.5 364.82,480.31 365.15,478.21 365.48,476.21 365.82,474.32 366.15,472.55 366.48,470.9 366.81,469.39 367.15,468.01 367.48,466.78 367.81,465.7 368.14,464.76 368.48,463.99 368.81,463.37 369.14,462.9 369.47,462.61 369.81,462.47 370.14,462.49 370.47,462.68 370.8,463.02 371.13,463.52 371.47,464.18 371.8,464.99 372.13,465.95 372.46,467.04 372.8,468.28 373.13,469.65 373.46,471.14 373.79,472.76 374.13,474.48 374.46,476.31 374.79,478.23 375.12,480.24 375.45,482.33 375.79,484.49 376.12,486.71 376.45,488.97 376.78,491.28 377.12,493.62 377.45,495.98 377.78,498.34 378.11,500.71 378.45,503.07 378.78,505.41 379.11,507.72 379.44,509.99 379.77,512.21 380.11,514.37 380.44,516.46 380.77,518.48 381.1,520.41 381.44,522.26 381.77,524 382.1,525.64 382.43,527.16 382.77,528.56 383.1,529.84 383.43,531 383.76,532.01 384.1,532.89 384.43,533.63 384.76,534.22 385.09,534.67 385.42,534.98 385.76,535.13 386.09,535.14 386.42,535 386.75,534.71 387.09,534.28 387.42,533.71 387.75,533 388.08,532.16 388.42,531.18 388.75,530.08 389.08,528.85 389.41,527.51 389.75,526.06 390.08,524.51 390.41,522.86 390.74,521.12 391.07,519.3 391.41,517.41 391.74,515.46 392.07,513.44 392.4,511.38 392.74,509.29 393.07,507.16 393.4,505.01 393.73,502.85 394.07,500.69 394.4,498.54 394.73,496.4 395.06,494.29 395.39,492.21 395.73,490.18 396.06,488.2 396.39,486.27 396.72,484.42 397.06,482.64 397.39,480.94 397.72,479.33 398.05,477.82 398.39,476.41 398.72,475.1 399.05,473.91 399.38,472.84 399.71,471.89 400.05,471.06 400.38,470.36 400.71,469.79 401.04,469.36 401.38,469.05 401.71,468.88 402.04,468.85 402.37,468.95 402.71,469.18 403.04,469.55 403.37,470.05 403.7,470.67 404.04,471.42 404.37,472.28 404.7,473.27 405.03,474.36 405.36,475.56 405.7,476.87 406.03,478.26 406.36,479.75 406.69,481.32 407.03,482.97 407.36,484.68 407.69,486.45 408.02,488.28 408.36,490.15 408.69,492.06 409.02,493.99 409.35,495.95 409.69,497.91 410.02,499.89 410.35,501.85 410.68,503.8 411.01,505.74 411.35,507.64 411.68,509.5 412.01,511.32 412.34,513.09 412.68,514.79 413.01,516.43 413.34,517.99 413.67,519.48 414.01,520.87 414.34,522.18 414.67,523.39 415,524.5 415.33,525.5 415.67,526.39 416,527.17 416.33,527.83 416.66,528.37 417,528.79 417.33,529.09 417.66,529.27 417.99,529.33 418.33,529.26 418.66,529.07 418.99,528.76 419.32,528.33 419.65,527.79 419.99,527.13 420.32,526.36 420.65,525.48 420.98,524.5 421.32,523.43 421.65,522.26 421.98,521 422.31,519.66 422.65,518.24 422.98,516.75 423.31,515.2 423.64,513.6 423.98,511.94 424.31,510.24 424.64,508.51 424.97,506.75 425.3,504.97 425.64,503.17 425.97,501.37 426.3,499.58 426.63,497.8 426.97,496.03 427.3,494.29 427.63,492.58 427.96,490.91 428.3,489.29 428.63,487.73 428.96,486.22 429.29,484.78 429.62,483.41 429.96,482.12 430.29,480.91 430.62,479.79 430.95,478.76 431.29,477.83 431.62,477 431.95,476.27 432.28,475.64 432.62,475.12 432.95,474.72 433.28,474.42 433.61,474.24 433.95,474.16 434.28,474.2 434.61,474.35 434.94,474.61 435.27,474.98 435.61,475.46 435.94,476.04 436.27,476.72 436.6,477.5 436.94,478.37 437.27,479.34 437.6,480.39 437.93,481.52 438.27,482.73 438.6,484.01 438.93,485.35 439.26,486.76 439.6,488.21 439.93,489.71 440.26,491.26 440.59,492.83 440.92,494.43 441.26,496.06 441.59,497.69 441.92,499.33 442.25,500.97 442.59,502.6 442.92,504.21 443.25,505.8 443.58,507.37 443.92,508.9 444.25,510.38 444.58,511.82 444.91,513.21 445.24,514.54 445.58,515.8 445.91,516.99 446.24,518.11 446.57,519.15 446.91,520.1 447.24,520.97 447.57,521.75 447.9,522.43 448.24,523.02 448.57,523.51 448.9,523.91 449.23,524.2 449.56,524.39 449.9,524.47 450.23,524.46 450.56,524.34 450.89,524.12 451.23,523.81 451.56,523.39 451.89,522.88 452.22,522.28 452.56,521.58 452.89,520.8 453.22,519.94 453.55,518.99 453.89,517.98 454.22,516.89 454.55,515.73 454.88,514.52 455.21,513.25 455.55,511.93 455.88,510.57 456.21,509.17 456.54,507.74 456.88,506.28 457.21,504.81 457.54,503.32 457.87,501.82 458.21,500.33 458.54,498.84 458.87,497.36 459.2,495.91 459.53,494.47 459.87,493.07 460.2,491.71 460.53,490.38 460.86,489.11 461.2,487.89 461.53,486.73 461.86,485.63 462.19,484.59 462.53,483.63 462.86,482.74 463.19,481.94 463.52,481.21 463.86,480.57 464.19,480.01 464.52,479.55 464.85,479.17 465.18,478.89 465.52,478.7 465.85,478.6 466.18,478.59 466.51,478.68 466.85,478.86 467.18,479.13 467.51,479.49 467.84,479.94 468.18,480.48 468.51,481.09 468.84,481.79 469.17,482.56 469.5,483.41 469.84,484.32 470.17,485.3 470.5,486.34 470.83,487.44 471.17,488.59 471.5,489.78 471.83,491.02 472.16,492.29 472.5,493.59 472.83,494.91 473.16,496.26 473.49,497.61 473.83,498.98 474.16,500.34 474.49,501.7 474.82,503.05 475.15,504.38 475.49,505.69 475.82,506.98 476.15,508.23 476.48,509.44 476.82,510.61 477.15,511.74 477.48,512.81 477.81,513.83 478.15,514.78 478.48,515.67 478.81,516.49 479.14,517.25 479.48,517.92 479.81,518.53 480.14,519.05 480.47,519.49 480.8,519.85 481.14,520.12 481.47,520.32 481.8,520.42 482.13,520.44 482.47,520.38 482.8,520.23 483.13,520 483.46,519.69 483.8,519.29 484.13,518.82 484.46,518.28 484.79,517.65 485.12,516.96 485.46,516.2 485.79,515.38 486.12,514.5 486.45,513.56 486.79,512.57 487.12,511.53 487.45,510.45 487.78,509.33 488.12,508.18 488.45,507 488.78,505.79 489.11,504.57 489.45,503.34 489.78,502.09 490.11,500.85 490.44,499.61 490.77,498.38 491.11,497.16 491.44,495.96 491.77,494.78 492.1,493.63 492.44,492.52 492.77,491.44 493.1,490.41 493.43,489.42 493.77,488.48 494.1,487.6 494.43,486.77 494.76,486.01 495.09,485.31 495.43,484.68 495.76,484.12 496.09,483.63 496.42,483.21 496.76,482.87 497.09,482.6 497.42,482.41 497.75,482.3 498.09,482.26 498.42,482.3 498.75,482.42 499.08,482.62 499.41,482.89 499.75,483.23 500.08,483.65 500.41,484.14 500.74,484.69 501.08,485.31 501.41,485.99 501.74,486.73 502.07,487.52 502.41,488.37 502.74,489.26 503.07,490.2 503.4,491.18 503.74,492.19 504.07,493.24 504.4,494.31" fill="none" stroke="#d9504c" stroke-width="1.35"/>
<g fill="#16109a"><circle cx="305" cy="444.36" r="1.35"/><circle cx="307.01" cy="453.97" r="1.35"/><circle cx="309.03" cy="458.81" r="1.35"/><circle cx="311.04" cy="470.9" r="1.35"/><circle cx="313.06" cy="484.95" r="1.35"/><circle cx="315.07" cy="511.26" r="1.35"/><circle cx="317.08" cy="536.21" r="1.35"/><circle cx="319.1" cy="542.07" r="1.35"/><circle cx="321.11" cy="554.71" r="1.35"/><circle cx="323.13" cy="544.26" r="1.35"/><circle cx="325.14" cy="541.71" r="1.35"/><circle cx="327.16" cy="519.45" r="1.35"/><circle cx="329.17" cy="509.01" r="1.35"/><circle cx="331.18" cy="493.78" r="1.35"/><circle cx="333.2" cy="478.85" r="1.35"/><circle cx="335.21" cy="462.39" r="1.35"/><circle cx="337.23" cy="453.42" r="1.35"/><circle cx="339.24" cy="451.73" r="1.35"/><circle cx="341.25" cy="463.24" r="1.35"/><circle cx="343.27" cy="480.42" r="1.35"/><circle cx="345.28" cy="492.01" r="1.35"/><circle cx="347.3" cy="516.64" r="1.35"/><circle cx="349.31" cy="524.1" r="1.35"/><circle cx="351.33" cy="539.82" r="1.35"/><circle cx="353.34" cy="536.05" r="1.35"/><circle cx="355.35" cy="536.62" r="1.35"/><circle cx="357.37" cy="531.58" r="1.35"/><circle cx="359.38" cy="524.74" r="1.35"/><circle cx="361.4" cy="503.52" r="1.35"/><circle cx="363.41" cy="488.72" r="1.35"/><circle cx="365.42" cy="478.71" r="1.35"/><circle cx="367.44" cy="469.36" r="1.35"/><circle cx="369.45" cy="457.65" r="1.35"/><circle cx="371.47" cy="465.75" r="1.35"/><circle cx="373.48" cy="469.5" r="1.35"/><circle cx="375.49" cy="477.15" r="1.35"/><circle cx="377.51" cy="502.21" r="1.35"/><circle cx="379.52" cy="503.54" r="1.35"/><circle cx="381.54" cy="518.83" r="1.35"/><circle cx="383.55" cy="533.91" r="1.35"/><circle cx="385.57" cy="538.78" r="1.35"/><circle cx="387.58" cy="538.16" r="1.35"/><circle cx="389.59" cy="523.08" r="1.35"/><circle cx="391.61" cy="526.29" r="1.35"/><circle cx="393.62" cy="499.93" r="1.35"/><circle cx="395.64" cy="490.07" r="1.35"/><circle cx="397.65" cy="482.34" r="1.35"/><circle cx="399.66" cy="474.01" r="1.35"/><circle cx="401.68" cy="470.33" r="1.35"/><circle cx="403.69" cy="471.55" r="1.35"/><circle cx="405.71" cy="473.43" r="1.35"/><circle cx="407.72" cy="489.88" r="1.35"/><circle cx="409.74" cy="493.93" r="1.35"/><circle cx="411.75" cy="506.03" r="1.35"/><circle cx="413.76" cy="520.85" r="1.35"/><circle cx="415.78" cy="524.27" r="1.35"/><circle cx="417.79" cy="531.43" r="1.35"/><circle cx="419.81" cy="527.28" r="1.35"/><circle cx="421.82" cy="519.67" r="1.35"/><circle cx="423.83" cy="505.06" r="1.35"/><circle cx="425.85" cy="502.23" r="1.35"/><circle cx="427.86" cy="492" r="1.35"/><circle cx="429.88" cy="482.3" r="1.35"/><circle cx="431.89" cy="477.11" r="1.35"/><circle cx="433.91" cy="478.38" r="1.35"/><circle cx="435.92" cy="468.65" r="1.35"/><circle cx="437.93" cy="483.96" r="1.35"/><circle cx="439.95" cy="492.1" r="1.35"/><circle cx="441.96" cy="502.31" r="1.35"/><circle cx="443.98" cy="506.47" r="1.35"/><circle cx="445.99" cy="505.67" r="1.35"/><circle cx="448" cy="510.75" r="1.35"/><circle cx="450.02" cy="520.61" r="1.35"/><circle cx="452.03" cy="521.28" r="1.35"/><circle cx="454.05" cy="517.55" r="1.35"/><circle cx="456.06" cy="513.75" r="1.35"/><circle cx="458.07" cy="498" r="1.35"/><circle cx="460.09" cy="492.51" r="1.35"/><circle cx="462.1" cy="476.68" r="1.35"/><circle cx="464.12" cy="481.19" r="1.35"/><circle cx="466.13" cy="482.53" r="1.35"/><circle cx="468.15" cy="487.62" r="1.35"/><circle cx="470.16" cy="492.25" r="1.35"/><circle cx="472.17" cy="489.93" r="1.35"/><circle cx="474.19" cy="499.12" r="1.35"/><circle cx="476.2" cy="512.93" r="1.35"/><circle cx="478.22" cy="520.99" r="1.35"/><circle cx="480.23" cy="518.07" r="1.35"/><circle cx="482.24" cy="521.82" r="1.35"/><circle cx="484.26" cy="517.72" r="1.35"/><circle cx="486.27" cy="514.15" r="1.35"/><circle cx="488.29" cy="510.65" r="1.35"/><circle cx="490.3" cy="506.96" r="1.35"/><circle cx="492.32" cy="492.39" r="1.35"/><circle cx="494.33" cy="486.63" r="1.35"/><circle cx="496.34" cy="482.58" r="1.35"/><circle cx="498.36" cy="478.57" r="1.35"/><circle cx="500.37" cy="480.42" r="1.35"/><circle cx="502.39" cy="490.25" r="1.35"/><circle cx="504.4" cy="492.01" r="1.35"/></g>
</g>
<clipPath id="cd"><rect x="46.5" y="629.4" width="202.8" height="151.8"/></clipPath>
<rect x="48.5" y="631.4" width="198.8" height="147.8" fill="none" stroke="#c4c4c4" stroke-width="1.4"/>
<line x1="48.5" y1="779.2" x2="48.5" y2="777.2" stroke="#c4c4c4" stroke-width="0.8"/>
<line x1="48.5" y1="631.4" x2="48.5" y2="633.4" stroke="#c4c4c4" stroke-width="0.8"/>
<line x1="98.2" y1="779.2" x2="98.2" y2="777.2" stroke="#c4c4c4" stroke-width="0.8"/>
<line x1="98.2" y1="631.4" x2="98.2" y2="633.4" stroke="#c4c4c4" stroke-width="0.8"/>
<line x1="147.9" y1="779.2" x2="147.9" y2="777.2" stroke="#c4c4c4" stroke-width="0.8"/>
<line x1="147.9" y1="631.4" x2="147.9" y2="633.4" stroke="#c4c4c4" stroke-width="0.8"/>
<line x1="197.6" y1="779.2" x2="197.6" y2="777.2" stroke="#c4c4c4" stroke-width="0.8"/>
<line x1="197.6" y1="631.4" x2="197.6" y2="633.4" stroke="#c4c4c4" stroke-width="0.8"/>
<line x1="247.3" y1="779.2" x2="247.3" y2="777.2" stroke="#c4c4c4" stroke-width="0.8"/>
<line x1="247.3" y1="631.4" x2="247.3" y2="633.4" stroke="#c4c4c4" stroke-width="0.8"/>
<line x1="48.5" y1="779.2" x2="50.5" y2="779.2" stroke="#c4c4c4" stroke-width="0.8"/>
<line x1="247.3" y1="779.2" x2="245.3" y2="779.2" stroke="#c4c4c4" stroke-width="0.8"/>
<line x1="48.5" y1="749.64" x2="50.5" y2="749.64" stroke="#c4c4c4" stroke-width="0.8"/>
<line x1="247.3" y1="749.64" x2="245.3" y2="749.64" stroke="#c4c4c4" stroke-width="0.8"/>
<line x1="48.5" y1="720.08" x2="50.5" y2="720.08" stroke="#c4c4c4" stroke-width="0.8"/>
<line x1="247.3" y1="720.08" x2="245.3" y2="720.08" stroke="#c4c4c4" stroke-width="0.8"/>
<line x1="48.5" y1="690.52" x2="50.5" y2="690.52" stroke="#c4c4c4" stroke-width="0.8"/>
<line x1="247.3" y1="690.52" x2="245.3" y2="690.52" stroke="#c4c4c4" stroke-width="0.8"/>
<line x1="48.5" y1="660.96" x2="50.5" y2="660.96" stroke="#c4c4c4" stroke-width="0.8"/>
<line x1="247.3" y1="660.96" x2="245.3" y2="660.96" stroke="#c4c4c4" stroke-width="0.8"/>
<line x1="48.5" y1="631.4" x2="50.5" y2="631.4" stroke="#c4c4c4" stroke-width="0.8"/>
<line x1="247.3" y1="631.4" x2="245.3" y2="631.4" stroke="#c4c4c4" stroke-width="0.8"/>
<text x="48.5" y="790.5" font-size="12" text-anchor="middle" font-family='"Liberation Sans", Arial, sans-serif' fill="#1a1a1a" stroke="#1a1a1a" >0</text>
<text x="98.2" y="790.5" font-size="12" text-anchor="middle" font-family='"Liberation Sans", Arial, sans-serif' fill="#1a1a1a" stroke="#1a1a1a" >1</text>
<text x="147.9" y="790.5" font-size="12" text-anchor="middle" font-family='"Liberation Sans", Arial, sans-serif' fill="#1a1a1a" stroke="#1a1a1a" >2</text>
<text x="197.6" y="790.5" font-size="12" text-anchor="middle" font-family='"Liberation Sans", Arial, sans-serif' fill="#1a1a1a" stroke="#1a1a1a" >3</text>
<text x="247.3" y="790.5" font-size="12" text-anchor="middle" font-family='"Liberation Sans", Arial, sans-serif' fill="#1a1a1a" stroke="#1a1a1a" >4</text>
<text x="47.6" y="783.7" font-size="12" text-anchor="end" font-family='"Liberation Sans", Arial, sans-serif' fill="#1a1a1a" stroke="#1a1a1a" >88</text>
<text x="47.6" y="754.14" font-size="12" text-anchor="end" font-family='"Liberation Sans", Arial, sans-serif' fill="#1a1a1a" stroke="#1a1a1a" >90</text>
<text x="47.6" y="724.58" font-size="12" text-anchor="end" font-family='"Liberation Sans", Arial, sans-serif' fill="#1a1a1a" stroke="#1a1a1a" >92</text>
<text x="47.6" y="695.02" font-size="12" text-anchor="end" font-family='"Liberation Sans", Arial, sans-serif' fill="#1a1a1a" stroke="#1a1a1a" >94</text>
<text x="47.6" y="665.46" font-size="12" text-anchor="end" font-family='"Liberation Sans", Arial, sans-serif' fill="#1a1a1a" stroke="#1a1a1a" >96</text>
<text x="47.6" y="635.9" font-size="12" text-anchor="end" font-family='"Liberation Sans", Arial, sans-serif' fill="#1a1a1a" stroke="#1a1a1a" >98</text>
<text x="147.9" y="801.5" font-size="12.5" text-anchor="middle" font-family='"Liberation Sans", Arial, sans-serif' fill="#1a1a1a" stroke="#1a1a1a" >Time&#160;&#160;(µs)</text>
<text x="-41.6" y="0" font-size="11.3" textLength="83.2" lengthAdjust="spacingAndGlyphs" font-family='"Liberation Sans", Arial, sans-serif' fill="#1a1a1a" stroke="#1a1a1a" transform="translate(22.9 705.3) rotate(-90)">Amplitude (mV)</text>
<text x="1.7" y="637.6" font-size="20" text-anchor="start" font-family='"Liberation Sans", Arial, sans-serif' fill="#1a1a1a" stroke="#1a1a1a" >(d)</text>
<g clip-path="url(#cd)">
<path d="M48.5,648.1 L48.83,648.88 49.16,649.66 49.49,650.42 49.83,651.19 50.16,651.94 50.49,652.7 50.82,653.44 51.15,654.18 51.48,654.92 51.81,655.65 52.14,656.37 52.48,657.09 52.81,657.8 53.14,658.51 53.47,659.21 53.8,659.91 54.13,660.61 54.46,661.29 54.8,661.98 55.13,662.65 55.46,663.33 55.79,663.99 56.12,664.66 56.45,665.31 56.78,665.97 57.11,666.61 57.45,667.26 57.78,667.9 58.11,668.53 58.44,669.16 58.77,669.78 59.1,670.4 59.43,671.02 59.77,671.63 60.1,672.24 60.43,672.84 60.76,673.43 61.09,674.03 61.42,674.62 61.75,675.2 62.08,675.78 62.42,676.36 62.75,676.93 63.08,677.49 63.41,678.06 63.74,678.62 64.07,679.17 64.4,679.72 64.74,680.27 65.07,680.81 65.4,681.35 65.73,681.88 66.06,682.41 66.39,682.94 66.72,683.46 67.05,683.98 67.39,684.5 67.72,685.01 68.05,685.52 68.38,686.02 68.71,686.52 69.04,687.02 69.37,687.51 69.71,688 70.04,688.48 70.37,688.97 70.7,689.44 71.03,689.92 71.36,690.39 71.69,690.86 72.02,691.32 72.36,691.78 72.69,692.24 73.02,692.7 73.35,693.15 73.68,693.59 74.01,694.04 74.34,694.48 74.68,694.92 75.01,695.35 75.34,695.78 75.67,696.21 76,696.63 76.33,697.06 76.66,697.47 76.99,697.89 77.33,698.3 77.66,698.71 77.99,699.12 78.32,699.52 78.65,699.92 78.98,700.32 79.31,700.71 79.65,701.11 79.98,701.49 80.31,701.88 80.64,702.26 80.97,702.64 81.3,703.02 81.63,703.4 81.96,703.77 82.3,704.14 82.63,704.5 82.96,704.87 83.29,705.23 83.62,705.59 83.95,705.94 84.28,706.29 84.62,706.65 84.95,706.99 85.28,707.34 85.61,707.68 85.94,708.02 86.27,708.36 86.6,708.69 86.93,709.03 87.27,709.36 87.6,709.68 87.93,710.01 88.26,710.33 88.59,710.65 88.92,710.97 89.25,711.29 89.59,711.6 89.92,711.91 90.25,712.22 90.58,712.53 90.91,712.83 91.24,713.14 91.57,713.44 91.9,713.73 92.24,714.03 92.57,714.32 92.9,714.61 93.23,714.9 93.56,715.19 93.89,715.47 94.22,715.76 94.56,716.04 94.89,716.32 95.22,716.59 95.55,716.87 95.88,717.14 96.21,717.41 96.54,717.68 96.87,717.94 97.21,718.21 97.54,718.47 97.87,718.73 98.2,718.99 98.53,719.25 98.86,719.5 99.19,719.75 99.53,720.01 99.86,720.26 100.19,720.5 100.52,720.75 100.85,720.99 101.18,721.23 101.51,721.47 101.84,721.71 102.18,721.95 102.51,722.18 102.84,722.42 103.17,722.65 103.5,722.88 103.83,723.11 104.16,723.33 104.5,723.56 104.83,723.78 105.16,724 105.49,724.22 105.82,724.44 106.15,724.66 106.48,724.87 106.81,725.08 107.15,725.3 107.48,725.51 107.81,725.72 108.14,725.92 108.47,726.13 108.8,726.33 109.13,726.53 109.47,726.74 109.8,726.94 110.13,727.13 110.46,727.33 110.79,727.53 111.12,727.72 111.45,727.91 111.78,728.1 112.12,728.29 112.45,728.48 112.78,728.67 113.11,728.85 113.44,729.04 113.77,729.22 114.1,729.4 114.44,729.58 114.77,729.76 115.1,729.94 115.43,730.11 115.76,730.29 116.09,730.46 116.42,730.63 116.75,730.8 117.09,730.97 117.42,731.14 117.75,731.31 118.08,731.47 118.41,731.64 118.74,731.8 119.07,731.96 119.41,732.12 119.74,732.28 120.07,732.44 120.4,732.6 120.73,732.76 121.06,732.91 121.39,733.07 121.72,733.22 122.06,733.37 122.39,733.52 122.72,733.67 123.05,733.82 123.38,733.97 123.71,734.11 124.04,734.26 124.38,734.4 124.71,734.54 125.04,734.69 125.37,734.83 125.7,734.97 126.03,735.11 126.36,735.24 126.69,735.38 127.03,735.52 127.36,735.65 127.69,735.78 128.02,735.92 128.35,736.05 128.68,736.18 129.01,736.31 129.35,736.44 129.68,736.57 130.01,736.69 130.34,736.82 130.67,736.95 131,737.07 131.33,737.19 131.66,737.32 132,737.44 132.33,737.56 132.66,737.68 132.99,737.8 133.32,737.91 133.65,738.03 133.98,738.15 134.32,738.26 134.65,738.38 134.98,738.49 135.31,738.6 135.64,738.72 135.97,738.83 136.3,738.94 136.63,739.05 136.97,739.16 137.3,739.26 137.63,739.37 137.96,739.48 138.29,739.58 138.62,739.69 138.95,739.79 139.29,739.89 139.62,740 139.95,740.1 140.28,740.2 140.61,740.3 140.94,740.4 141.27,740.5 141.6,740.6 141.94,740.69 142.27,740.79 142.6,740.89 142.93,740.98 143.26,741.08 143.59,741.17 143.92,741.26 144.26,741.35 144.59,741.45 144.92,741.54 145.25,741.63 145.58,741.72 145.91,741.81 146.24,741.89 146.57,741.98 146.91,742.07 147.24,742.16 147.57,742.24 147.9,742.33 148.23,742.41 148.56,742.49 148.89,742.58 149.23,742.66 149.56,742.74 149.89,742.82 150.22,742.91 150.55,742.99 150.88,743.06 151.21,743.14 151.54,743.22 151.88,743.3 152.21,743.38 152.54,743.45 152.87,743.53 153.2,743.61 153.53,743.68 153.86,743.76 154.2,743.83 154.53,743.9 154.86,743.98 155.19,744.05 155.52,744.12 155.85,744.19 156.18,744.26 156.51,744.33 156.85,744.4 157.18,744.47 157.51,744.54 157.84,744.61 158.17,744.68 158.5,744.74 158.83,744.81 159.17,744.88 159.5,744.94 159.83,745.01 160.16,745.07 160.49,745.14 160.82,745.2 161.15,745.26 161.48,745.33 161.82,745.39 162.15,745.45 162.48,745.51 162.81,745.57 163.14,745.63 163.47,745.69 163.8,745.75 164.14,745.81 164.47,745.87 164.8,745.93 165.13,745.99 165.46,746.04 165.79,746.1 166.12,746.16 166.45,746.21 166.79,746.27 167.12,746.33 167.45,746.38 167.78,746.44 168.11,746.49 168.44,746.54 168.77,746.6 169.11,746.65 169.44,746.7 169.77,746.75 170.1,746.81 170.43,746.86 170.76,746.91 171.09,746.96 171.42,747.01 171.76,747.06 172.09,747.11 172.42,747.16 172.75,747.21 173.08,747.26 173.41,747.3 173.74,747.35 174.08,747.4 174.41,747.45 174.74,747.49 175.07,747.54 175.4,747.59 175.73,747.63 176.06,747.68 176.39,747.72 176.73,747.77 177.06,747.81 177.39,747.86 177.72,747.9 178.05,747.94 178.38,747.99 178.71,748.03 179.05,748.07 179.38,748.11 179.71,748.15 180.04,748.2 180.37,748.24 180.7,748.28 181.03,748.32 181.36,748.36 181.7,748.4 182.03,748.44 182.36,748.48 182.69,748.52 183.02,748.56 183.35,748.59 183.68,748.63 184.02,748.67 184.35,748.71 184.68,748.75 185.01,748.78 185.34,748.82 185.67,748.86 186,748.89 186.33,748.93 186.67,748.96 187,749 187.33,749.04 187.66,749.07 187.99,749.11 188.32,749.14 188.65,749.17 188.99,749.21 189.32,749.24 189.65,749.28 189.98,749.31 190.31,749.34 190.64,749.37 190.97,749.41 191.3,749.44 191.64,749.47 191.97,749.5 192.3,749.53 192.63,749.57 192.96,749.6 193.29,749.63 193.62,749.66 193.96,749.69 194.29,749.72 194.62,749.75 194.95,749.78 195.28,749.81 195.61,749.84 195.94,749.87 196.27,749.9 196.61,749.92 196.94,749.95 197.27,749.98 197.6,750.01 197.93,750.04 198.26,750.06 198.59,750.09 198.93,750.12 199.26,750.15 199.59,750.17 199.92,750.2 200.25,750.23 200.58,750.25 200.91,750.28 201.24,750.3 201.58,750.33 201.91,750.35 202.24,750.38 202.57,750.4 202.9,750.43 203.23,750.45 203.56,750.48 203.9,750.5 204.23,750.53 204.56,750.55 204.89,750.58 205.22,750.6 205.55,750.62 205.88,750.65 206.21,750.67 206.55,750.69 206.88,750.71 207.21,750.74 207.54,750.76 207.87,750.78 208.2,750.8 208.53,750.83 208.87,750.85 209.2,750.87 209.53,750.89 209.86,750.91 210.19,750.93 210.52,750.95 210.85,750.98 211.18,751 211.52,751.02 211.85,751.04 212.18,751.06 212.51,751.08 212.84,751.1 213.17,751.12 213.5,751.14 213.84,751.16 214.17,751.18 214.5,751.19 214.83,751.21 215.16,751.23 215.49,751.25 215.82,751.27 216.15,751.29 216.49,751.31 216.82,751.33 217.15,751.34 217.48,751.36 217.81,751.38 218.14,751.4 218.47,751.41 218.81,751.43 219.14,751.45 219.47,751.47 219.8,751.48 220.13,751.5 220.46,751.52 220.79,751.53 221.12,751.55 221.46,751.57 221.79,751.58 222.12,751.6 222.45,751.62 222.78,751.63 223.11,751.65 223.44,751.66 223.78,751.68 224.11,751.69 224.44,751.71 224.77,751.72 225.1,751.74 225.43,751.75 225.76,751.77 226.09,751.78 226.43,751.8 226.76,751.81 227.09,751.83 227.42,751.84 227.75,751.86 228.08,751.87 228.41,751.89 228.75,751.9 229.08,751.91 229.41,751.93 229.74,751.94 230.07,751.95 230.4,751.97 230.73,751.98 231.06,751.99 231.4,752.01 231.73,752.02 232.06,752.03 232.39,752.05 232.72,752.06 233.05,752.07 233.38,752.08 233.72,752.1 234.05,752.11 234.38,752.12 234.71,752.13 235.04,752.15 235.37,752.16 235.7,752.17 236.03,752.18 236.37,752.19 236.7,752.21 237.03,752.22 237.36,752.23 237.69,752.24 238.02,752.25 238.35,752.26 238.69,752.27 239.02,752.28 239.35,752.3 239.68,752.31 240.01,752.32 240.34,752.33 240.67,752.34 241,752.35 241.34,752.36 241.67,752.37 242,752.38 242.33,752.39 242.66,752.4 242.99,752.41 243.32,752.42 243.66,752.43 243.99,752.44 244.32,752.45 244.65,752.46 244.98,752.47 245.31,752.48 245.64,752.49 245.97,752.5 246.31,752.51 246.64,752.52 246.97,752.53 247.3,752.54" fill="none" stroke="#d9504c" stroke-width="1.35"/>
<g fill="#16109a"><circle cx="48.5" cy="649.16" r="1.35"/><circle cx="49.75" cy="648.9" r="1.35"/><circle cx="51" cy="654.78" r="1.35"/><circle cx="52.25" cy="657.91" r="1.35"/><circle cx="53.5" cy="663.13" r="1.35"/><circle cx="54.75" cy="662.77" r="1.35"/><circle cx="56" cy="659.82" r="1.35"/><circle cx="57.25" cy="665.13" r="1.35"/><circle cx="58.5" cy="664.99" r="1.35"/><circle cx="59.75" cy="670.58" r="1.35"/><circle cx="61" cy="672.24" r="1.35"/><circle cx="62.25" cy="675.31" r="1.35"/><circle cx="63.5" cy="685.11" r="1.35"/><circle cx="64.75" cy="676.76" r="1.35"/><circle cx="66" cy="680.23" r="1.35"/><circle cx="67.25" cy="682.23" r="1.35"/><circle cx="68.51" cy="693.21" r="1.35"/><circle cx="69.76" cy="695.29" r="1.35"/><circle cx="71.01" cy="693.56" r="1.35"/><circle cx="72.26" cy="693.58" r="1.35"/><circle cx="73.51" cy="692.09" r="1.35"/><circle cx="74.76" cy="695.21" r="1.35"/><circle cx="76.01" cy="694.49" r="1.35"/><circle cx="77.26" cy="700.88" r="1.35"/><circle cx="78.51" cy="698.47" r="1.35"/><circle cx="79.76" cy="699.61" r="1.35"/><circle cx="81.01" cy="705.42" r="1.35"/><circle cx="82.26" cy="696.99" r="1.35"/><circle cx="83.51" cy="703.16" r="1.35"/><circle cx="84.76" cy="701.84" r="1.35"/><circle cx="86.01" cy="710.66" r="1.35"/><circle cx="87.26" cy="712.41" r="1.35"/><circle cx="88.51" cy="712" r="1.35"/><circle cx="89.76" cy="712.21" r="1.35"/><circle cx="91.01" cy="710.31" r="1.35"/><circle cx="92.26" cy="713.02" r="1.35"/><circle cx="93.51" cy="717" r="1.35"/><circle cx="94.76" cy="720.17" r="1.35"/><circle cx="96.01" cy="719.4" r="1.35"/><circle cx="97.26" cy="713.2" r="1.35"/><circle cx="98.51" cy="722.58" r="1.35"/><circle cx="99.76" cy="719.17" r="1.35"/><circle cx="101.01" cy="719.35" r="1.35"/><circle cx="102.26" cy="728.18" r="1.35"/><circle cx="103.51" cy="722.69" r="1.35"/><circle cx="104.76" cy="718.33" r="1.35"/><circle cx="106.01" cy="732.9" r="1.35"/><circle cx="107.26" cy="726.7" r="1.35"/><circle cx="108.52" cy="726.59" r="1.35"/><circle cx="109.77" cy="730.3" r="1.35"/><circle cx="111.02" cy="725.6" r="1.35"/><circle cx="112.27" cy="728.63" r="1.35"/><circle cx="113.52" cy="735.14" r="1.35"/><circle cx="114.77" cy="726.33" r="1.35"/><circle cx="116.02" cy="727.65" r="1.35"/><circle cx="117.27" cy="727.15" r="1.35"/><circle cx="118.52" cy="725.73" r="1.35"/><circle cx="119.77" cy="730.8" r="1.35"/><circle cx="121.02" cy="732.4" r="1.35"/><circle cx="122.27" cy="738.84" r="1.35"/><circle cx="123.52" cy="731.48" r="1.35"/><circle cx="124.77" cy="737.1" r="1.35"/><circle cx="126.02" cy="736.97" r="1.35"/><circle cx="127.27" cy="740.85" r="1.35"/><circle cx="128.52" cy="740.12" r="1.35"/><circle cx="129.77" cy="738.8" r="1.35"/><circle cx="131.02" cy="731.74" r="1.35"/><circle cx="132.27" cy="745.95" r="1.35"/><circle cx="133.52" cy="744.02" r="1.35"/><circle cx="134.77" cy="737.43" r="1.35"/><circle cx="136.02" cy="732.87" r="1.35"/><circle cx="137.27" cy="736.86" r="1.35"/><circle cx="138.52" cy="747.52" r="1.35"/><circle cx="139.77" cy="750.47" r="1.35"/><circle cx="141.02" cy="738.94" r="1.35"/><circle cx="142.27" cy="743.84" r="1.35"/><circle cx="143.52" cy="745.78" r="1.35"/><circle cx="144.77" cy="737.45" r="1.35"/><circle cx="146.02" cy="737.28" r="1.35"/><circle cx="147.27" cy="741.51" r="1.35"/><circle cx="148.53" cy="741.47" r="1.35"/><circle cx="149.78" cy="741" r="1.35"/><circle cx="151.03" cy="736.5" r="1.35"/><circle cx="152.28" cy="740.83" r="1.35"/><circle cx="153.53" cy="741.53" r="1.35"/><circle cx="154.78" cy="741.69" r="1.35"/><circle cx="156.03" cy="750.71" r="1.35"/><circle cx="157.28" cy="739.18" r="1.35"/><circle cx="158.53" cy="740.78" r="1.35"/><circle cx="159.78" cy="742.78" r="1.35"/><circle cx="161.03" cy="753.36" r="1.35"/><circle cx="162.28" cy="748.03" r="1.35"/><circle cx="163.53" cy="742.12" r="1.35"/><circle cx="164.78" cy="753.27" r="1.35"/><circle cx="166.03" cy="746.69" r="1.35"/><circle cx="167.28" cy="741.83" r="1.35"/><circle cx="168.53" cy="751.57" r="1.35"/><circle cx="169.78" cy="739.53" r="1.35"/><circle cx="171.03" cy="743.93" r="1.35"/><circle cx="172.28" cy="746.8" r="1.35"/><circle cx="173.53" cy="744.76" r="1.35"/><circle cx="174.78" cy="743.3" r="1.35"/><circle cx="176.03" cy="745.33" r="1.35"/><circle cx="177.28" cy="740.89" r="1.35"/><circle cx="178.53" cy="748.16" r="1.35"/><circle cx="179.78" cy="746.91" r="1.35"/><circle cx="181.03" cy="740.67" r="1.35"/><circle cx="182.28" cy="744.68" r="1.35"/><circle cx="183.53" cy="748.29" r="1.35"/><circle cx="184.78" cy="740.64" r="1.35"/><circle cx="186.03" cy="738.47" r="1.35"/><circle cx="187.28" cy="746.45" r="1.35"/><circle cx="188.54" cy="750.47" r="1.35"/><circle cx="189.79" cy="745.55" r="1.35"/><circle cx="191.04" cy="745.92" r="1.35"/><circle cx="192.29" cy="746.93" r="1.35"/><circle cx="193.54" cy="740.32" r="1.35"/><circle cx="194.79" cy="750.87" r="1.35"/><circle cx="196.04" cy="741.9" r="1.35"/><circle cx="197.29" cy="752.89" r="1.35"/><circle cx="198.54" cy="751.4" r="1.35"/><circle cx="199.79" cy="746.03" r="1.35"/><circle cx="201.04" cy="744.45" r="1.35"/><circle cx="202.29" cy="746.02" r="1.35"/><circle cx="203.54" cy="748.58" r="1.35"/><circle cx="204.79" cy="749.83" r="1.35"/><circle cx="206.04" cy="750.19" r="1.35"/><circle cx="207.29" cy="748.83" r="1.35"/><circle cx="208.54" cy="752.33" r="1.35"/><circle cx="209.79" cy="750.85" r="1.35"/><circle cx="211.04" cy="750.04" r="1.35"/><circle cx="212.29" cy="752.82" r="1.35"/><circle cx="213.54" cy="750.09" r="1.35"/><circle cx="214.79" cy="751.36" r="1.35"/><circle cx="216.04" cy="745.83" r="1.35"/><circle cx="217.29" cy="753.25" r="1.35"/><circle cx="218.54" cy="756.81" r="1.35"/><circle cx="219.79" cy="757" r="1.35"/><circle cx="221.04" cy="755.91" r="1.35"/><circle cx="222.29" cy="752.38" r="1.35"/><circle cx="223.54" cy="757.89" r="1.35"/><circle cx="224.79" cy="755.14" r="1.35"/><circle cx="226.04" cy="749.31" r="1.35"/><circle cx="227.29" cy="767.62" r="1.35"/><circle cx="228.55" cy="761.69" r="1.35"/><circle cx="229.8" cy="755.98" r="1.35"/><circle cx="231.05" cy="755.22" r="1.35"/><circle cx="232.3" cy="755.7" r="1.35"/><circle cx="233.55" cy="758.24" r="1.35"/><circle cx="234.8" cy="753.48" r="1.35"/><circle cx="236.05" cy="754.72" r="1.35"/><circle cx="237.3" cy="757.72" r="1.35"/><circle cx="238.55" cy="745.18" r="1.35"/><circle cx="239.8" cy="753.44" r="1.35"/><circle cx="241.05" cy="756.89" r="1.35"/><circle cx="242.3" cy="754.71" r="1.35"/><circle cx="243.55" cy="754.97" r="1.35"/><circle cx="244.8" cy="754.06" r="1.35"/><circle cx="246.05" cy="764.88" r="1.35"/><circle cx="247.3" cy="755.43" r="1.35"/></g>
</g>
<clipPath id="ch"><rect x="303.5" y="630.5" width="203.8" height="150.7"/></clipPath>
<rect x="305.5" y="632.5" width="199.8" height="146.7" fill="none" stroke="#c4c4c4" stroke-width="1.4"/>
<line x1="305.5" y1="779.2" x2="305.5" y2="777.2" stroke="#c4c4c4" stroke-width="0.8"/>
<line x1="305.5" y1="632.5" x2="305.5" y2="634.5" stroke="#c4c4c4" stroke-width="0.8"/>
<line x1="345.46" y1="779.2" x2="345.46" y2="777.2" stroke="#c4c4c4" stroke-width="0.8"/>
<line x1="345.46" y1="632.5" x2="345.46" y2="634.5" stroke="#c4c4c4" stroke-width="0.8"/>
<line x1="385.42" y1="779.2" x2="385.42" y2="777.2" stroke="#c4c4c4" stroke-width="0.8"/>
<line x1="385.42" y1="632.5" x2="385.42" y2="634.5" stroke="#c4c4c4" stroke-width="0.8"/>
<line x1="425.38" y1="779.2" x2="425.38" y2="777.2" stroke="#c4c4c4" stroke-width="0.8"/>
<line x1="425.38" y1="632.5" x2="425.38" y2="634.5" stroke="#c4c4c4" stroke-width="0.8"/>
<line x1="465.34" y1="779.2" x2="465.34" y2="777.2" stroke="#c4c4c4" stroke-width="0.8"/>
<line x1="465.34" y1="632.5" x2="465.34" y2="634.5" stroke="#c4c4c4" stroke-width="0.8"/>
<line x1="505.3" y1="779.2" x2="505.3" y2="777.2" stroke="#c4c4c4" stroke-width="0.8"/>
<line x1="505.3" y1="632.5" x2="505.3" y2="634.5" stroke="#c4c4c4" stroke-width="0.8"/>
<line x1="305.5" y1="779.2" x2="307.5" y2="779.2" stroke="#c4c4c4" stroke-width="0.8"/>
<line x1="505.3" y1="779.2" x2="503.3" y2="779.2" stroke="#c4c4c4" stroke-width="0.8"/>
<line x1="305.5" y1="749.86" x2="307.5" y2="749.86" stroke="#c4c4c4" stroke-width="0.8"/>
<line x1="505.3" y1="749.86" x2="503.3" y2="749.86" stroke="#c4c4c4" stroke-width="0.8"/>
<line x1="305.5" y1="720.52" x2="307.5" y2="720.52" stroke="#c4c4c4" stroke-width="0.8"/>
<line x1="505.3" y1="720.52" x2="503.3" y2="720.52" stroke="#c4c4c4" stroke-width="0.8"/>
<line x1="305.5" y1="691.18" x2="307.5" y2="691.18" stroke="#c4c4c4" stroke-width="0.8"/>
<line x1="505.3" y1="691.18" x2="503.3" y2="691.18" stroke="#c4c4c4" stroke-width="0.8"/>
<line x1="305.5" y1="661.84" x2="307.5" y2="661.84" stroke="#c4c4c4" stroke-width="0.8"/>
<line x1="505.3" y1="661.84" x2="503.3" y2="661.84" stroke="#c4c4c4" stroke-width="0.8"/>
<line x1="305.5" y1="632.5" x2="307.5" y2="632.5" stroke="#c4c4c4" stroke-width="0.8"/>
<line x1="505.3" y1="632.5" x2="503.3" y2="632.5" stroke="#c4c4c4" stroke-width="0.8"/>
<text x="305.5" y="790.8" font-size="12" text-anchor="middle" font-family='"Liberation Sans", Arial, sans-serif' fill="#1a1a1a" stroke="#1a1a1a" >0</text>
<text x="345.46" y="790.8" font-size="12" text-anchor="middle" font-family='"Liberation Sans", Arial, sans-serif' fill="#1a1a1a" stroke="#1a1a1a" >1</text>
<text x="385.42" y="790.8" font-size="12" text-anchor="middle" font-family='"Liberation Sans", Arial, sans-serif' fill="#1a1a1a" stroke="#1a1a1a" >2</text>
<text x="425.38" y="790.8" font-size="12" text-anchor="middle" font-family='"Liberation Sans", Arial, sans-serif' fill="#1a1a1a" stroke="#1a1a1a" >3</text>
<text x="465.34" y="790.8" font-size="12" text-anchor="middle" font-family='"Liberation Sans", Arial, sans-serif' fill="#1a1a1a" stroke="#1a1a1a" >4</text>
<text x="505.3" y="790.8" font-size="12" text-anchor="middle" font-family='"Liberation Sans", Arial, sans-serif' fill="#1a1a1a" stroke="#1a1a1a" >5</text>
<text x="304.5" y="783.95" font-size="12" text-anchor="end" font-family='"Liberation Sans", Arial, sans-serif' fill="#1a1a1a" stroke="#1a1a1a" >150</text>
<text x="304.5" y="754.61" font-size="12" text-anchor="end" font-family='"Liberation Sans", Arial, sans-serif' fill="#1a1a1a" stroke="#1a1a1a" >155</text>
<text x="304.5" y="725.27" font-size="12" text-anchor="end" font-family='"Liberation Sans", Arial, sans-serif' fill="#1a1a1a" stroke="#1a1a1a" >160</text>
<text x="304.5" y="695.93" font-size="12" text-anchor="end" font-family='"Liberation Sans", Arial, sans-serif' fill="#1a1a1a" stroke="#1a1a1a" >165</text>
<text x="304.5" y="666.59" font-size="12" text-anchor="end" font-family='"Liberation Sans", Arial, sans-serif' fill="#1a1a1a" stroke="#1a1a1a" >170</text>
<text x="304.5" y="637.25" font-size="12" text-anchor="end" font-family='"Liberation Sans", Arial, sans-serif' fill="#1a1a1a" stroke="#1a1a1a" >175</text>
<text x="405.4" y="801.2" font-size="12.5" text-anchor="middle" font-family='"Liberation Sans", Arial, sans-serif' fill="#1a1a1a" stroke="#1a1a1a" >Time (µs)</text>
<text x="-41.6" y="0" font-size="11.3" textLength="83.2" lengthAdjust="spacingAndGlyphs" font-family='"Liberation Sans", Arial, sans-serif' fill="#1a1a1a" stroke="#1a1a1a" transform="translate(279.4 705.85) rotate(-90)">Amplitude (mV)</text>
<text x="257.5" y="636.6" font-size="20" text-anchor="start" font-family='"Liberation Sans", Arial, sans-serif' fill="#1a1a1a" stroke="#1a1a1a" >(h)</text>
<g clip-path="url(#ch)">
<path d="M305.5,658.32 L305.83,659.15 306.17,659.98 306.5,660.8 306.83,661.62 307.17,662.42 307.5,663.22 307.83,664.02 308.16,664.8 308.5,665.58 308.83,666.35 309.16,667.12 309.5,667.88 309.83,668.63 310.16,669.37 310.5,670.11 310.83,670.84 311.16,671.57 311.49,672.29 311.83,673 312.16,673.71 312.49,674.41 312.83,675.11 313.16,675.79 313.49,676.48 313.82,677.15 314.16,677.82 314.49,678.49 314.82,679.15 315.16,679.8 315.49,680.45 315.82,681.09 316.16,681.73 316.49,682.36 316.82,682.99 317.15,683.61 317.49,684.22 317.82,684.83 318.15,685.43 318.49,686.03 318.82,686.62 319.15,687.21 319.49,687.8 319.82,688.37 320.15,688.95 320.49,689.51 320.82,690.08 321.15,690.64 321.48,691.19 321.82,691.74 322.15,692.28 322.48,692.82 322.82,693.35 323.15,693.88 323.48,694.41 323.81,694.93 324.15,695.44 324.48,695.95 324.81,696.46 325.15,696.96 325.48,697.46 325.81,697.95 326.15,698.44 326.48,698.93 326.81,699.41 327.14,699.89 327.48,700.36 327.81,700.83 328.14,701.29 328.48,701.75 328.81,702.21 329.14,702.66 329.48,703.11 329.81,703.55 330.14,703.99 330.48,704.43 330.81,704.86 331.14,705.29 331.47,705.71 331.81,706.14 332.14,706.55 332.47,706.97 332.81,707.38 333.14,707.78 333.47,708.19 333.81,708.59 334.14,708.98 334.47,709.38 334.8,709.77 335.14,710.15 335.47,710.54 335.8,710.91 336.14,711.29 336.47,711.66 336.8,712.03 337.13,712.4 337.47,712.76 337.8,713.12 338.13,713.48 338.47,713.83 338.8,714.18 339.13,714.53 339.47,714.87 339.8,715.22 340.13,715.55 340.46,715.89 340.8,716.22 341.13,716.55 341.46,716.88 341.8,717.2 342.13,717.52 342.46,717.84 342.8,718.16 343.13,718.47 343.46,718.78 343.8,719.09 344.13,719.39 344.46,719.69 344.79,719.99 345.13,720.29 345.46,720.58 345.79,720.88 346.13,721.17 346.46,721.45 346.79,721.74 347.12,722.02 347.46,722.3 347.79,722.57 348.12,722.85 348.46,723.12 348.79,723.39 349.12,723.66 349.46,723.92 349.79,724.18 350.12,724.44 350.45,724.7 350.79,724.96 351.12,725.21 351.45,725.46 351.79,725.71 352.12,725.96 352.45,726.2 352.79,726.44 353.12,726.68 353.45,726.92 353.78,727.16 354.12,727.39 354.45,727.62 354.78,727.85 355.12,728.08 355.45,728.31 355.78,728.53 356.12,728.75 356.45,728.98 356.78,729.19 357.12,729.41 357.45,729.62 357.78,729.84 358.11,730.05 358.45,730.26 358.78,730.46 359.11,730.67 359.45,730.87 359.78,731.07 360.11,731.27 360.44,731.47 360.78,731.67 361.11,731.86 361.44,732.06 361.78,732.25 362.11,732.44 362.44,732.63 362.78,732.81 363.11,733 363.44,733.18 363.77,733.36 364.11,733.54 364.44,733.72 364.77,733.9 365.11,734.07 365.44,734.25 365.77,734.42 366.11,734.59 366.44,734.76 366.77,734.93 367.11,735.09 367.44,735.26 367.77,735.42 368.1,735.58 368.44,735.74 368.77,735.9 369.1,736.06 369.44,736.22 369.77,736.37 370.1,736.52 370.44,736.68 370.77,736.83 371.1,736.98 371.43,737.13 371.77,737.27 372.1,737.42 372.43,737.56 372.77,737.71 373.1,737.85 373.43,737.99 373.76,738.13 374.1,738.27 374.43,738.4 374.76,738.54 375.1,738.68 375.43,738.81 375.76,738.94 376.1,739.07 376.43,739.2 376.76,739.33 377.1,739.46 377.43,739.59 377.76,739.71 378.09,739.84 378.43,739.96 378.76,740.08 379.09,740.2 379.43,740.32 379.76,740.44 380.09,740.56 380.43,740.68 380.76,740.79 381.09,740.91 381.42,741.02 381.76,741.14 382.09,741.25 382.42,741.36 382.76,741.47 383.09,741.58 383.42,741.69 383.75,741.79 384.09,741.9 384.42,742.01 384.75,742.11 385.09,742.21 385.42,742.32 385.75,742.42 386.09,742.52 386.42,742.62 386.75,742.72 387.09,742.82 387.42,742.91 387.75,743.01 388.08,743.11 388.42,743.2 388.75,743.29 389.08,743.39 389.42,743.48 389.75,743.57 390.08,743.66 390.42,743.75 390.75,743.84 391.08,743.93 391.41,744.02 391.75,744.11 392.08,744.19 392.41,744.28 392.75,744.36 393.08,744.45 393.41,744.53 393.75,744.61 394.08,744.69 394.41,744.77 394.74,744.85 395.08,744.93 395.41,745.01 395.74,745.09 396.08,745.17 396.41,745.24 396.74,745.32 397.07,745.4 397.41,745.47 397.74,745.55 398.07,745.62 398.41,745.69 398.74,745.76 399.07,745.84 399.41,745.91 399.74,745.98 400.07,746.05 400.4,746.12 400.74,746.18 401.07,746.25 401.4,746.32 401.74,746.39 402.07,746.45 402.4,746.52 402.74,746.58 403.07,746.65 403.4,746.71 403.74,746.78 404.07,746.84 404.4,746.9 404.73,746.96 405.07,747.02 405.4,747.08 405.73,747.14 406.07,747.2 406.4,747.26 406.73,747.32 407.06,747.38 407.4,747.44 407.73,747.49 408.06,747.55 408.4,747.61 408.73,747.66 409.06,747.72 409.4,747.77 409.73,747.83 410.06,747.88 410.39,747.93 410.73,747.99 411.06,748.04 411.39,748.09 411.73,748.14 412.06,748.19 412.39,748.24 412.73,748.29 413.06,748.34 413.39,748.39 413.73,748.44 414.06,748.49 414.39,748.54 414.72,748.58 415.06,748.63 415.39,748.68 415.72,748.72 416.06,748.77 416.39,748.81 416.72,748.86 417.06,748.9 417.39,748.95 417.72,748.99 418.05,749.04 418.39,749.08 418.72,749.12 419.05,749.16 419.39,749.21 419.72,749.25 420.05,749.29 420.38,749.33 420.72,749.37 421.05,749.41 421.38,749.45 421.72,749.49 422.05,749.53 422.38,749.57 422.72,749.61 423.05,749.64 423.38,749.68 423.72,749.72 424.05,749.76 424.38,749.79 424.71,749.83 425.05,749.87 425.38,749.9 425.71,749.94 426.05,749.97 426.38,750.01 426.71,750.04 427.05,750.08 427.38,750.11 427.71,750.14 428.04,750.18 428.38,750.21 428.71,750.24 429.04,750.28 429.38,750.31 429.71,750.34 430.04,750.37 430.38,750.4 430.71,750.43 431.04,750.46 431.37,750.5 431.71,750.53 432.04,750.56 432.37,750.59 432.71,750.61 433.04,750.64 433.37,750.67 433.71,750.7 434.04,750.73 434.37,750.76 434.7,750.79 435.04,750.81 435.37,750.84 435.7,750.87 436.04,750.9 436.37,750.92 436.7,750.95 437.03,750.98 437.37,751 437.7,751.03 438.03,751.05 438.37,751.08 438.7,751.1 439.03,751.13 439.37,751.15 439.7,751.18 440.03,751.2 440.37,751.23 440.7,751.25 441.03,751.28 441.36,751.3 441.7,751.32 442.03,751.34 442.36,751.37 442.7,751.39 443.03,751.41 443.36,751.44 443.69,751.46 444.03,751.48 444.36,751.5 444.69,751.52 445.03,751.54 445.36,751.57 445.69,751.59 446.03,751.61 446.36,751.63 446.69,751.65 447.02,751.67 447.36,751.69 447.69,751.71 448.02,751.73 448.36,751.75 448.69,751.77 449.02,751.79 449.36,751.81 449.69,751.82 450.02,751.84 450.36,751.86 450.69,751.88 451.02,751.9 451.35,751.92 451.69,751.93 452.02,751.95 452.35,751.97 452.69,751.99 453.02,752 453.35,752.02 453.69,752.04 454.02,752.06 454.35,752.07 454.68,752.09 455.02,752.1 455.35,752.12 455.68,752.14 456.02,752.15 456.35,752.17 456.68,752.18 457.01,752.2 457.35,752.22 457.68,752.23 458.01,752.25 458.35,752.26 458.68,752.28 459.01,752.29 459.35,752.31 459.68,752.32 460.01,752.33 460.35,752.35 460.68,752.36 461.01,752.38 461.34,752.39 461.68,752.4 462.01,752.42 462.34,752.43 462.68,752.45 463.01,752.46 463.34,752.47 463.68,752.48 464.01,752.5 464.34,752.51 464.67,752.52 465.01,752.54 465.34,752.55 465.67,752.56 466.01,752.57 466.34,752.59 466.67,752.6 467,752.61 467.34,752.62 467.67,752.63 468,752.64 468.34,752.66 468.67,752.67 469,752.68 469.34,752.69 469.67,752.7 470,752.71 470.34,752.72 470.67,752.73 471,752.74 471.33,752.76 471.67,752.77 472,752.78 472.33,752.79 472.67,752.8 473,752.81 473.33,752.82 473.66,752.83 474,752.84 474.33,752.85 474.66,752.86 475,752.87 475.33,752.88 475.66,752.89 476,752.9 476.33,752.91 476.66,752.91 477,752.92 477.33,752.93 477.66,752.94 477.99,752.95 478.33,752.96 478.66,752.97 478.99,752.98 479.33,752.99 479.66,752.99 479.99,753 480.33,753.01 480.66,753.02 480.99,753.03 481.32,753.04 481.66,753.04 481.99,753.05 482.32,753.06 482.66,753.07 482.99,753.08 483.32,753.08 483.65,753.09 483.99,753.1 484.32,753.11 484.65,753.11 484.99,753.12 485.32,753.13 485.65,753.14 485.99,753.14 486.32,753.15 486.65,753.16 486.99,753.17 487.32,753.17 487.65,753.18 487.98,753.19 488.32,753.19 488.65,753.2 488.98,753.21 489.32,753.21 489.65,753.22 489.98,753.23 490.32,753.23 490.65,753.24 490.98,753.25 491.31,753.25 491.65,753.26 491.98,753.26 492.31,753.27 492.65,753.28 492.98,753.28 493.31,753.29 493.64,753.29 493.98,753.3 494.31,753.31 494.64,753.31 494.98,753.32 495.31,753.32 495.64,753.33 495.98,753.33 496.31,753.34 496.64,753.35 496.98,753.35 497.31,753.36 497.64,753.36 497.97,753.37 498.31,753.37 498.64,753.38 498.97,753.38 499.31,753.39 499.64,753.39 499.97,753.4 500.31,753.4 500.64,753.41 500.97,753.41 501.3,753.42 501.64,753.42 501.97,753.43 502.3,753.43 502.64,753.44 502.97,753.44 503.3,753.45 503.63,753.45 503.97,753.45 504.3,753.46 504.63,753.46 504.97,753.47 505.3,753.47" fill="none" stroke="#d9504c" stroke-width="1.35"/>
<g fill="#16109a"><circle cx="305.5" cy="656.47" r="1.35"/><circle cx="307.18" cy="650.98" r="1.35"/><circle cx="308.86" cy="661.07" r="1.35"/><circle cx="310.54" cy="664.51" r="1.35"/><circle cx="312.22" cy="669.81" r="1.35"/><circle cx="313.89" cy="673.98" r="1.35"/><circle cx="315.57" cy="675.41" r="1.35"/><circle cx="317.25" cy="680.97" r="1.35"/><circle cx="318.93" cy="686.36" r="1.35"/><circle cx="320.61" cy="689.3" r="1.35"/><circle cx="322.29" cy="692.56" r="1.35"/><circle cx="323.97" cy="688.29" r="1.35"/><circle cx="325.65" cy="689.03" r="1.35"/><circle cx="327.33" cy="686.53" r="1.35"/><circle cx="329.01" cy="693.98" r="1.35"/><circle cx="330.68" cy="697.52" r="1.35"/><circle cx="332.36" cy="698.42" r="1.35"/><circle cx="334.04" cy="704.09" r="1.35"/><circle cx="335.72" cy="715.1" r="1.35"/><circle cx="337.4" cy="704.54" r="1.35"/><circle cx="339.08" cy="713.75" r="1.35"/><circle cx="340.76" cy="712.99" r="1.35"/><circle cx="342.44" cy="717.31" r="1.35"/><circle cx="344.12" cy="704.96" r="1.35"/><circle cx="345.8" cy="714.7" r="1.35"/><circle cx="347.47" cy="719.63" r="1.35"/><circle cx="349.15" cy="728.16" r="1.35"/><circle cx="350.83" cy="720.43" r="1.35"/><circle cx="352.51" cy="729.83" r="1.35"/><circle cx="354.19" cy="721.81" r="1.35"/><circle cx="355.87" cy="735.12" r="1.35"/><circle cx="357.55" cy="729.8" r="1.35"/><circle cx="359.23" cy="726.28" r="1.35"/><circle cx="360.91" cy="735.46" r="1.35"/><circle cx="362.59" cy="732.12" r="1.35"/><circle cx="364.26" cy="732.9" r="1.35"/><circle cx="365.94" cy="730.33" r="1.35"/><circle cx="367.62" cy="737.79" r="1.35"/><circle cx="369.3" cy="733.37" r="1.35"/><circle cx="370.98" cy="727.99" r="1.35"/><circle cx="372.66" cy="745.13" r="1.35"/><circle cx="374.34" cy="743.15" r="1.35"/><circle cx="376.02" cy="737.98" r="1.35"/><circle cx="377.7" cy="743.93" r="1.35"/><circle cx="379.38" cy="747.91" r="1.35"/><circle cx="381.05" cy="736.03" r="1.35"/><circle cx="382.73" cy="738.93" r="1.35"/><circle cx="384.41" cy="739.02" r="1.35"/><circle cx="386.09" cy="739.83" r="1.35"/><circle cx="387.77" cy="742.13" r="1.35"/><circle cx="389.45" cy="749.83" r="1.35"/><circle cx="391.13" cy="757.52" r="1.35"/><circle cx="392.81" cy="744.88" r="1.35"/><circle cx="394.49" cy="752.6" r="1.35"/><circle cx="396.17" cy="747.89" r="1.35"/><circle cx="397.84" cy="746.71" r="1.35"/><circle cx="399.52" cy="754.6" r="1.35"/><circle cx="401.2" cy="750.66" r="1.35"/><circle cx="402.88" cy="741.38" r="1.35"/><circle cx="404.56" cy="746.02" r="1.35"/><circle cx="406.24" cy="757.14" r="1.35"/><circle cx="407.92" cy="750.75" r="1.35"/><circle cx="409.6" cy="749.91" r="1.35"/><circle cx="411.28" cy="747.36" r="1.35"/><circle cx="412.96" cy="746.61" r="1.35"/><circle cx="414.63" cy="750.37" r="1.35"/><circle cx="416.31" cy="751.18" r="1.35"/><circle cx="417.99" cy="746.12" r="1.35"/><circle cx="419.67" cy="756.7" r="1.35"/><circle cx="421.35" cy="744.92" r="1.35"/><circle cx="423.03" cy="748.64" r="1.35"/><circle cx="424.71" cy="752.51" r="1.35"/><circle cx="426.39" cy="752.93" r="1.35"/><circle cx="428.07" cy="749.26" r="1.35"/><circle cx="429.75" cy="757.11" r="1.35"/><circle cx="431.42" cy="761.18" r="1.35"/><circle cx="433.1" cy="748.79" r="1.35"/><circle cx="434.78" cy="743.94" r="1.35"/><circle cx="436.46" cy="751.4" r="1.35"/><circle cx="438.14" cy="750.57" r="1.35"/><circle cx="439.82" cy="750.97" r="1.35"/><circle cx="441.5" cy="755.41" r="1.35"/><circle cx="443.18" cy="749.2" r="1.35"/><circle cx="444.86" cy="747.36" r="1.35"/><circle cx="446.54" cy="750.95" r="1.35"/><circle cx="448.21" cy="746.88" r="1.35"/><circle cx="449.89" cy="755.48" r="1.35"/><circle cx="451.57" cy="749.29" r="1.35"/><circle cx="453.25" cy="753.35" r="1.35"/><circle cx="454.93" cy="751.45" r="1.35"/><circle cx="456.61" cy="747.1" r="1.35"/><circle cx="458.29" cy="746.58" r="1.35"/><circle cx="459.97" cy="742.44" r="1.35"/><circle cx="461.65" cy="742.44" r="1.35"/><circle cx="463.33" cy="750.25" r="1.35"/><circle cx="465" cy="738.76" r="1.35"/><circle cx="466.68" cy="752.01" r="1.35"/><circle cx="468.36" cy="745.91" r="1.35"/><circle cx="470.04" cy="745.03" r="1.35"/><circle cx="471.72" cy="747.89" r="1.35"/><circle cx="473.4" cy="746.43" r="1.35"/><circle cx="475.08" cy="749.66" r="1.35"/><circle cx="476.76" cy="755.19" r="1.35"/><circle cx="478.44" cy="747.83" r="1.35"/><circle cx="480.12" cy="752.31" r="1.35"/><circle cx="481.79" cy="756.63" r="1.35"/><circle cx="483.47" cy="752.47" r="1.35"/><circle cx="485.15" cy="753.05" r="1.35"/><circle cx="486.83" cy="751.54" r="1.35"/><circle cx="488.51" cy="755.76" r="1.35"/><circle cx="490.19" cy="752.41" r="1.35"/><circle cx="491.87" cy="754.06" r="1.35"/><circle cx="493.55" cy="746.04" r="1.35"/><circle cx="495.23" cy="754.93" r="1.35"/><circle cx="496.91" cy="747.56" r="1.35"/><circle cx="498.58" cy="753.72" r="1.35"/><circle cx="500.26" cy="748.3" r="1.35"/><circle cx="501.94" cy="742.96" r="1.35"/><circle cx="503.62" cy="755.16" r="1.35"/><circle cx="505.3" cy="752.81" r="1.35"/></g>
</g>
<rect x="200.5" y="28.3" width="37.4" height="29.1" fill="#fff" stroke="#c8c8c8" stroke-width="1"/>
<line x1="200.5" y1="58.2" x2="237.9" y2="58.2" stroke="#d4d4d4" stroke-width="1"/>
<circle cx="206.8" cy="35.7" r="1.2" fill="#16109a"/>
<text x="211.3" y="39.45" font-size="11.2" text-anchor="start" font-family='"Liberation Sans", Arial, sans-serif' fill="#1a1a1a" stroke="#1a1a1a" >Data</text>
<line x1="202" y1="49.9" x2="210.9" y2="49.9" stroke="#d9504c" stroke-width="1.2"/>
<text x="211.3" y="54" font-size="11.2" text-anchor="start" font-family='"Liberation Sans", Arial, sans-serif' fill="#1a1a1a" stroke="#1a1a1a" >Fit</text>
<rect x="459.2" y="28.6" width="36.4" height="29.6" fill="#fff" stroke="#c8c8c8" stroke-width="1"/>
<line x1="459.2" y1="59" x2="495.6" y2="59" stroke="#d4d4d4" stroke-width="1"/>
<circle cx="465.5" cy="36" r="1.2" fill="#16109a"/>
<text x="470" y="39.75" font-size="11.2" text-anchor="start" font-family='"Liberation Sans", Arial, sans-serif' fill="#1a1a1a" stroke="#1a1a1a" >Data</text>
<line x1="460.7" y1="50.2" x2="469.6" y2="50.2" stroke="#d9504c" stroke-width="1.2"/>
<text x="470" y="54.3" font-size="11.2" text-anchor="start" font-family='"Liberation Sans", Arial, sans-serif' fill="#1a1a1a" stroke="#1a1a1a" >Fit</text>
<rect x="202.8" y="333.3" width="36.7" height="29.6" fill="#fff" stroke="#c8c8c8" stroke-width="1"/>
<line x1="202.8" y1="363.7" x2="239.5" y2="363.7" stroke="#d4d4d4" stroke-width="1"/>
<circle cx="209.1" cy="340.7" r="1.2" fill="#16109a"/>
<text x="213.6" y="344.45" font-size="11.2" text-anchor="start" font-family='"Liberation Sans", Arial, sans-serif' fill="#1a1a1a" stroke="#1a1a1a" >Data</text>
<line x1="204.3" y1="354.9" x2="213.2" y2="354.9" stroke="#d9504c" stroke-width="1.2"/>
<text x="213.6" y="359" font-size="11.2" text-anchor="start" font-family='"Liberation Sans", Arial, sans-serif' fill="#1a1a1a" stroke="#1a1a1a" >Fit</text>
<rect x="458.6" y="333.3" width="37" height="29.1" fill="#fff" stroke="#c8c8c8" stroke-width="1"/>
<line x1="458.6" y1="363.2" x2="495.6" y2="363.2" stroke="#d4d4d4" stroke-width="1"/>
<circle cx="464.9" cy="340.7" r="1.2" fill="#16109a"/>
<text x="469.4" y="344.45" font-size="11.2" text-anchor="start" font-family='"Liberation Sans", Arial, sans-serif' fill="#1a1a1a" stroke="#1a1a1a" >Data</text>
<line x1="460.1" y1="354.9" x2="469" y2="354.9" stroke="#d9504c" stroke-width="1.2"/>
<text x="469.4" y="359" font-size="11.2" text-anchor="start" font-family='"Liberation Sans", Arial, sans-serif' fill="#1a1a1a" stroke="#1a1a1a" >Fit</text>
<rect x="202.6" y="430.5" width="36.3" height="29.9" fill="#fff" stroke="#c8c8c8" stroke-width="1"/>
<line x1="202.6" y1="461.2" x2="238.9" y2="461.2" stroke="#d4d4d4" stroke-width="1"/>
<circle cx="208.9" cy="437.9" r="1.2" fill="#16109a"/>
<text x="213.4" y="441.65" font-size="11.2" text-anchor="start" font-family='"Liberation Sans", Arial, sans-serif' fill="#1a1a1a" stroke="#1a1a1a" >Data</text>
<line x1="204.1" y1="452.1" x2="213" y2="452.1" stroke="#d9504c" stroke-width="1.2"/>
<text x="213.4" y="456.2" font-size="11.2" text-anchor="start" font-family='"Liberation Sans", Arial, sans-serif' fill="#1a1a1a" stroke="#1a1a1a" >Fit</text>
<rect x="459.2" y="431.8" width="36.4" height="29.6" fill="#fff" stroke="#c8c8c8" stroke-width="1"/>
<line x1="459.2" y1="462.2" x2="495.6" y2="462.2" stroke="#d4d4d4" stroke-width="1"/>
<circle cx="465.5" cy="439.2" r="1.2" fill="#16109a"/>
<text x="470" y="442.95" font-size="11.2" text-anchor="start" font-family='"Liberation Sans", Arial, sans-serif' fill="#1a1a1a" stroke="#1a1a1a" >Data</text>
<line x1="460.7" y1="453.4" x2="469.6" y2="453.4" stroke="#d9504c" stroke-width="1.2"/>
<text x="470" y="457.5" font-size="11.2" text-anchor="start" font-family='"Liberation Sans", Arial, sans-serif' fill="#1a1a1a" stroke="#1a1a1a" >Fit</text>
<rect x="200.3" y="637.8" width="36" height="29.6" fill="#fff" stroke="#c8c8c8" stroke-width="1"/>
<line x1="200.3" y1="668.2" x2="236.3" y2="668.2" stroke="#d4d4d4" stroke-width="1"/>
<circle cx="206.6" cy="645.2" r="1.2" fill="#16109a"/>
<text x="211.1" y="648.95" font-size="11.2" text-anchor="start" font-family='"Liberation Sans", Arial, sans-serif' fill="#1a1a1a" stroke="#1a1a1a" >Data</text>
<line x1="201.8" y1="659.4" x2="210.7" y2="659.4" stroke="#d9504c" stroke-width="1.2"/>
<text x="211.1" y="663.5" font-size="11.2" text-anchor="start" font-family='"Liberation Sans", Arial, sans-serif' fill="#1a1a1a" stroke="#1a1a1a" >Fit</text>
<rect x="459.2" y="639.8" width="36.2" height="29.3" fill="#fff" stroke="#c8c8c8" stroke-width="1"/>
<line x1="459.2" y1="669.9" x2="495.4" y2="669.9" stroke="#d4d4d4" stroke-width="1"/>
<circle cx="465.5" cy="647.2" r="1.2" fill="#16109a"/>
<text x="470" y="650.95" font-size="11.2" text-anchor="start" font-family='"Liberation Sans", Arial, sans-serif' fill="#1a1a1a" stroke="#1a1a1a" >Data</text>
<line x1="460.7" y1="661.4" x2="469.6" y2="661.4" stroke="#d9504c" stroke-width="1.2"/>
<text x="470" y="665.5" font-size="11.2" text-anchor="start" font-family='"Liberation Sans", Arial, sans-serif' fill="#1a1a1a" stroke="#1a1a1a" >Fit</text>
<text x="215.2" y="156.6" font-size="15" text-anchor="start" font-family='"Liberation Serif", "Times New Roman", serif' fill="#1a1a1a" stroke="#1a1a1a" >R1</text>
<text x="472.5" y="156.6" font-size="15" text-anchor="start" font-family='"Liberation Serif", "Times New Roman", serif' fill="#1a1a1a" stroke="#1a1a1a" >R2</text>
<text x="215" y="263" font-size="15" text-anchor="start" font-family='"Liberation Serif", "Times New Roman", serif' fill="#1a1a1a" stroke="#1a1a1a" >R1</text>
<text x="472.5" y="264.5" font-size="15" text-anchor="start" font-family='"Liberation Serif", "Times New Roman", serif' fill="#1a1a1a" stroke="#1a1a1a" >R2</text>
<text x="216.5" y="555.4" font-size="15" text-anchor="start" font-family='"Liberation Serif", "Times New Roman", serif' fill="#1a1a1a" stroke="#1a1a1a" >R1</text>
<text x="472.5" y="556.4" font-size="15" text-anchor="start" font-family='"Liberation Serif", "Times New Roman", serif' fill="#1a1a1a" stroke="#1a1a1a" >R2</text>
<text x="216" y="725.9" font-size="15" text-anchor="start" font-family='"Liberation Serif", "Times New Roman", serif' fill="#1a1a1a" stroke="#1a1a1a" >R1</text>
<text x="473" y="722.9" font-size="15" text-anchor="start" font-family='"Liberation Serif", "Times New Roman", serif' fill="#1a1a1a" stroke="#1a1a1a" >R2</text>
<text x="82.5" y="350.8" font-size="13.3" font-family='"Liberation Sans", Arial, sans-serif' fill="#1a1a1a" stroke="#1a1a1a">T<tspan font-size="8.8" fill="#444" stroke="#444">1</tspan><tspan>=0.636±0.016 µs</tspan></text>
<text x="337" y="351.3" font-size="13.3" font-family='"Liberation Sans", Arial, sans-serif' fill="#1a1a1a" stroke="#1a1a1a">T<tspan font-size="8.8" fill="#444" stroke="#444">1</tspan><tspan>=0.578±0.017 µs</tspan></text>
<text x="79" y="448.3" font-size="13.3" font-family='"Liberation Sans", Arial, sans-serif' fill="#1a1a1a" stroke="#1a1a1a">T<tspan font-size="8.8" fill="#444" stroke="#444">2</tspan><tspan font-size="10">*</tspan><tspan dx="1.3">=0.294±0.030 µs</tspan></text>
<text x="335" y="448.3" font-size="13.3" font-family='"Liberation Sans", Arial, sans-serif' fill="#1a1a1a" stroke="#1a1a1a">T<tspan font-size="8.8" fill="#444" stroke="#444">2</tspan><tspan font-size="10">*</tspan><tspan dx="1.3">=0.262±0.027 µs</tspan></text>
<text x="83" y="656.3" font-size="13.3" font-family='"Liberation Sans", Arial, sans-serif' fill="#1a1a1a" stroke="#1a1a1a">T<tspan font-size="8.8" fill="#444" stroke="#444">2</tspan><tspan>=0.909±0.050 µs</tspan></text>
<text x="340.8" y="657.9" font-size="13.3" font-family='"Liberation Sans", Arial, sans-serif' fill="#1a1a1a" stroke="#1a1a1a">T<tspan font-size="8.8" fill="#444" stroke="#444">2</tspan><tspan>=0.775±0.026 µs</tspan></text>
<text x="122.7" y="7.8" font-size="11" text-anchor="middle" font-family='"Liberation Serif", "Times New Roman", serif' fill="#1a1a1a" stroke="#1a1a1a" >τ</text>
<text x="138" y="8.2" font-size="11" text-anchor="start" font-family='"Liberation Serif", "Times New Roman", serif' fill="#1a1a1a" stroke="#1a1a1a" >Readout</text>
<path d="M115.5,23.31 L115.63,23.51 115.75,23.35 115.88,22.81 116,21.99 116.13,21.05 116.25,20.24 116.38,19.78 116.5,19.82 116.63,20.44 116.75,21.53 116.88,22.87 117.01,24.15 117.13,25.02 117.26,25.22 117.38,24.63 117.51,23.3 117.63,21.51 117.76,19.66 117.88,18.22 118.01,17.6 118.13,18.03 118.26,19.5 118.39,21.72 118.51,24.19 118.64,26.32 118.76,27.54 118.89,27.47 119.01,26.03 119.14,23.49 119.26,20.41 119.39,17.53 119.51,15.57 119.64,15.08 119.77,16.27 119.89,18.93 120.02,22.49 120.14,26.1 120.27,28.87 120.39,30.08 120.52,29.37 120.64,26.84 120.77,23.03 120.89,18.85 121.02,15.31 121.15,13.28 121.27,13.32 121.4,15.46 121.52,19.22 121.65,23.71 121.77,27.87 121.9,30.66 122.02,31.41 122.15,29.9 122.27,26.49 122.4,22 122.53,17.51 122.65,14.1 122.78,12.59 122.9,13.34 123.03,16.13 123.15,20.29 123.28,24.78 123.4,28.54 123.53,30.68 123.65,30.72 123.78,28.69 123.91,25.15 124.03,20.97 124.16,17.16 124.28,14.63 124.41,13.92 124.53,15.13 124.66,17.9 124.78,21.51 124.91,25.07 125.03,27.73 125.16,28.92 125.29,28.43 125.41,26.47 125.54,23.59 125.66,20.51 125.79,17.97 125.91,16.53 126.04,16.46 126.16,17.68 126.29,19.81 126.41,22.28 126.54,24.5 126.67,25.97 126.79,26.4 126.92,25.78 127.04,24.34 127.17,22.49 127.29,20.7 127.42,19.37 127.54,18.78 127.67,18.98 127.79,19.85 127.92,21.13 128.05,22.47 128.17,23.56 128.3,24.18 128.42,24.22 128.55,23.76 128.67,22.95 128.8,22.01 128.92,21.19 129.05,20.65 129.17,20.49 129.3,20.69" fill="none" stroke="#6a6a6a" stroke-width="0.7"/>
<polygon points="115.5,20.58 115.63,20.48 115.75,20.37 115.88,20.26 116,20.15 116.13,20.03 116.25,19.9 116.38,19.77 116.5,19.63 116.63,19.49 116.75,19.34 116.88,19.19 117.01,19.03 117.13,18.87 117.26,18.7 117.38,18.52 117.51,18.35 117.63,18.17 117.76,17.98 117.88,17.79 118.01,17.6 118.13,17.41 118.26,17.21 118.39,17.01 118.51,16.81 118.64,16.6 118.76,16.4 118.89,16.2 119.01,15.99 119.14,15.79 119.26,15.59 119.39,15.39 119.51,15.19 119.64,14.99 119.77,14.8 119.89,14.61 120.02,14.43 120.14,14.25 120.27,14.08 120.39,13.91 120.52,13.75 120.64,13.6 120.77,13.46 120.89,13.32 121.02,13.2 121.15,13.08 121.27,12.97 121.4,12.87 121.52,12.79 121.65,12.71 121.77,12.65 121.9,12.6 122.02,12.55 122.15,12.52 122.27,12.51 122.4,12.5 122.53,12.51 122.65,12.52 122.78,12.55 122.9,12.6 123.03,12.65 123.15,12.71 123.28,12.79 123.4,12.87 123.53,12.97 123.65,13.08 123.78,13.2 123.91,13.32 124.03,13.46 124.16,13.6 124.28,13.75 124.41,13.91 124.53,14.08 124.66,14.25 124.78,14.43 124.91,14.61 125.03,14.8 125.16,14.99 125.29,15.19 125.41,15.39 125.54,15.59 125.66,15.79 125.79,15.99 125.91,16.2 126.04,16.4 126.16,16.6 126.29,16.81 126.41,17.01 126.54,17.21 126.67,17.41 126.79,17.6 126.92,17.79 127.04,17.98 127.17,18.17 127.29,18.35 127.42,18.52 127.54,18.7 127.67,18.87 127.79,19.03 127.92,19.19 128.05,19.34 128.17,19.49 128.3,19.63 128.42,19.77 128.55,19.9 128.67,20.03 128.8,20.15 128.92,20.26 129.05,20.37 129.17,20.48 129.3,20.58 129.3,23.42 129.17,23.52 129.05,23.63 128.92,23.74 128.8,23.85 128.67,23.97 128.55,24.1 128.42,24.23 128.3,24.37 128.17,24.51 128.05,24.66 127.92,24.81 127.79,24.97 127.67,25.13 127.54,25.3 127.42,25.48 127.29,25.65 127.17,25.83 127.04,26.02 126.92,26.21 126.79,26.4 126.67,26.59 126.54,26.79 126.41,26.99 126.29,27.19 126.16,27.4 126.04,27.6 125.91,27.8 125.79,28.01 125.66,28.21 125.54,28.41 125.41,28.61 125.29,28.81 125.16,29.01 125.03,29.2 124.91,29.39 124.78,29.57 124.66,29.75 124.53,29.92 124.41,30.09 124.28,30.25 124.16,30.4 124.03,30.54 123.91,30.68 123.78,30.8 123.65,30.92 123.53,31.03 123.4,31.13 123.28,31.21 123.15,31.29 123.03,31.35 122.9,31.4 122.78,31.45 122.65,31.48 122.53,31.49 122.4,31.5 122.27,31.49 122.15,31.48 122.02,31.45 121.9,31.4 121.77,31.35 121.65,31.29 121.52,31.21 121.4,31.13 121.27,31.03 121.15,30.92 121.02,30.8 120.89,30.68 120.77,30.54 120.64,30.4 120.52,30.25 120.39,30.09 120.27,29.92 120.14,29.75 120.02,29.57 119.89,29.39 119.77,29.2 119.64,29.01 119.51,28.81 119.39,28.61 119.26,28.41 119.14,28.21 119.01,28.01 118.89,27.8 118.76,27.6 118.64,27.4 118.51,27.19 118.39,26.99 118.26,26.79 118.13,26.59 118.01,26.4 117.88,26.21 117.76,26.02 117.63,25.83 117.51,25.65 117.38,25.48 117.26,25.3 117.13,25.13 117.01,24.97 116.88,24.81 116.75,24.66 116.63,24.51 116.5,24.37 116.38,24.23 116.25,24.1 116.13,23.97 116,23.85 115.88,23.74 115.75,23.63 115.63,23.52 115.5,23.42" fill="#6a6a6a" fill-opacity="0.42"/>
<rect x="147.3" y="15.6" width="16.9" height="12.9" fill="#d4d4d4"/>
<path d="M147.3,22.05 L147.43,19.69 147.55,17.66 147.68,16.23 147.8,15.62 147.93,15.89 148.05,17.02 148.18,18.85 148.3,21.12 148.43,23.52 148.55,25.71 148.68,27.4 148.8,28.35 148.93,28.42 149.05,27.61 149.18,26.03 149.3,23.9 149.43,21.51 149.55,19.19 149.68,17.28 149.8,16.02 149.93,15.6 150.05,16.08 150.18,17.38 150.3,19.33 150.43,21.66 150.55,24.04 150.68,26.15 150.81,27.69 150.93,28.44 151.06,28.31 151.18,27.32 151.31,25.59 151.43,23.37 151.56,20.97 151.68,18.72 151.81,16.93 151.93,15.85 152.06,15.63 152.18,16.3 152.31,17.77 152.43,19.83 152.56,22.2 152.68,24.55 152.81,26.55 152.93,27.93 153.06,28.49 153.18,28.16 153.31,26.98 153.43,25.12 153.56,22.83 153.68,20.44 153.81,18.26 153.93,16.62 154.06,15.72 154.19,15.7 154.31,16.57 154.44,18.19 154.56,20.35 154.69,22.74 154.81,25.04 154.94,26.92 155.06,28.13 155.19,28.5 155.31,27.97 155.44,26.62 155.56,24.63 155.69,22.29 155.81,19.92 155.94,17.84 156.06,16.34 156.19,15.64 156.31,15.82 156.44,16.87 156.56,18.64 156.69,20.88 156.81,23.28 156.94,25.51 157.06,27.26 157.19,28.29 157.31,28.45 157.44,27.73 157.57,26.22 157.69,24.13 157.82,21.75 157.94,19.41 158.07,17.44 158.19,16.11 158.32,15.6 158.44,15.99 158.57,17.21 158.69,19.11 158.82,21.41 158.94,23.81 159.07,25.96 159.19,27.56 159.32,28.41 159.44,28.37 159.57,27.45 159.69,25.79 159.82,23.61 159.94,21.21 160.07,18.93 160.19,17.08 160.32,15.92 160.44,15.61 160.57,16.19 160.69,17.59 160.82,19.6 160.95,21.96 161.07,24.32 161.2,26.37 161.32,27.83 161.45,28.48 161.57,28.24 161.7,27.14 161.82,25.33 161.95,23.07 162.07,20.67 162.2,18.46 162.32,16.75 162.45,15.77 162.57,15.67 162.7,16.44 162.82,18 162.95,20.11 163.07,22.5 163.2,24.82 163.32,26.76 163.45,28.05 163.57,28.5 163.7,28.06 163.82,26.79 163.95,24.85 164.07,22.54 164.2,20.15" fill="none" stroke="#8c8c8c" stroke-width="0.7"/>
<text x="381.4" y="8.8" font-size="11" text-anchor="middle" font-family='"Liberation Serif", "Times New Roman", serif' fill="#1a1a1a" stroke="#1a1a1a" >τ</text>
<text x="398.4" y="8.8" font-size="11" text-anchor="start" font-family='"Liberation Serif", "Times New Roman", serif' fill="#1a1a1a" stroke="#1a1a1a" >Readout</text>
<path d="M375,23.88 L375.12,24.31 375.25,24.45 375.38,24.2 375.5,23.59 375.62,22.71 375.75,21.77 375.88,21 376,20.61 376.12,20.76 376.25,21.48 376.38,22.63 376.5,23.99 376.62,25.23 376.75,26.01 376.88,26.09 377,25.38 377.12,23.97 377.25,22.15 377.38,20.34 377.5,19 377.62,18.52 377.75,19.08 377.88,20.65 378,22.9 378.12,25.34 378.25,27.36 378.38,28.43 378.5,28.21 378.62,26.67 378.75,24.1 378.88,21.06 379,18.29 379.12,16.48 379.25,16.13 379.38,17.43 379.5,20.12 379.62,23.63 379.75,27.12 379.88,29.75 380,30.82 380.12,30.02 380.25,27.46 380.38,23.72 380.5,19.66 380.62,16.26 380.75,14.36 380.88,14.47 381,16.61 381.12,20.29 381.25,24.67 381.38,28.68 381.5,31.36 381.62,32.06 381.75,30.57 381.88,27.26 382,22.9 382.12,18.54 382.25,15.23 382.38,13.74 382.5,14.44 382.62,17.12 382.75,21.13 382.88,25.51 383,29.19 383.12,31.33 383.25,31.44 383.38,29.54 383.5,26.14 383.62,22.08 383.75,18.34 383.88,15.78 384,14.98 384.12,16.05 384.25,18.68 384.38,22.17 384.5,25.68 384.62,28.37 384.75,29.67 384.88,29.32 385,27.51 385.12,24.74 385.25,21.7 385.38,19.13 385.5,17.59 385.62,17.37 385.75,18.44 385.88,20.46 386,22.9 386.12,25.15 386.25,26.72 386.38,27.28 386.5,26.8 386.62,25.46 386.75,23.65 386.88,21.83 387,20.42 387.12,19.71 387.25,19.79 387.38,20.57 387.5,21.81 387.62,23.17 387.75,24.32 387.88,25.04 388,25.19 388.12,24.8 388.25,24.03 388.38,23.09 388.5,22.21 388.62,21.6 388.75,21.35 388.88,21.49 389,21.92" fill="none" stroke="#6a6a6a" stroke-width="0.7"/>
<polygon points="375,21.52 375.12,21.42 375.25,21.32 375.38,21.22 375.5,21.1 375.62,20.99 375.75,20.87 375.88,20.74 376,20.61 376.12,20.48 376.25,20.34 376.38,20.19 376.5,20.04 376.62,19.88 376.75,19.73 376.88,19.56 377,19.39 377.12,19.22 377.25,19.05 377.38,18.87 377.5,18.68 377.62,18.5 377.75,18.31 377.88,18.12 378,17.93 378.12,17.73 378.25,17.54 378.38,17.34 378.5,17.15 378.62,16.95 378.75,16.76 378.88,16.57 379,16.38 379.12,16.19 379.25,16 379.38,15.82 379.5,15.64 379.62,15.47 379.75,15.3 379.88,15.14 380,14.98 380.12,14.83 380.25,14.69 380.38,14.55 380.5,14.42 380.62,14.3 380.75,14.19 380.88,14.09 381,14 381.12,13.92 381.25,13.85 381.38,13.79 381.5,13.74 381.62,13.7 381.75,13.67 381.88,13.66 382,13.65 382.12,13.66 382.25,13.67 382.38,13.7 382.5,13.74 382.62,13.79 382.75,13.85 382.88,13.92 383,14 383.12,14.09 383.25,14.19 383.38,14.3 383.5,14.42 383.62,14.55 383.75,14.69 383.88,14.83 384,14.98 384.12,15.14 384.25,15.3 384.38,15.47 384.5,15.64 384.62,15.82 384.75,16 384.88,16.19 385,16.38 385.12,16.57 385.25,16.76 385.38,16.95 385.5,17.15 385.62,17.34 385.75,17.54 385.88,17.73 386,17.93 386.12,18.12 386.25,18.31 386.38,18.5 386.5,18.68 386.62,18.87 386.75,19.05 386.88,19.22 387,19.39 387.12,19.56 387.25,19.73 387.38,19.88 387.5,20.04 387.62,20.19 387.75,20.34 387.88,20.48 388,20.61 388.12,20.74 388.25,20.87 388.38,20.99 388.5,21.1 388.62,21.22 388.75,21.32 388.88,21.42 389,21.52 389,24.28 388.88,24.38 388.75,24.48 388.62,24.58 388.5,24.7 388.38,24.81 388.25,24.93 388.12,25.06 388,25.19 387.88,25.32 387.75,25.46 387.62,25.61 387.5,25.76 387.38,25.92 387.25,26.07 387.12,26.24 387,26.41 386.88,26.58 386.75,26.75 386.62,26.93 386.5,27.12 386.38,27.3 386.25,27.49 386.12,27.68 386,27.87 385.88,28.07 385.75,28.26 385.62,28.46 385.5,28.65 385.38,28.85 385.25,29.04 385.12,29.23 385,29.42 384.88,29.61 384.75,29.8 384.62,29.98 384.5,30.16 384.38,30.33 384.25,30.5 384.12,30.66 384,30.82 383.88,30.97 383.75,31.11 383.62,31.25 383.5,31.38 383.38,31.5 383.25,31.61 383.12,31.71 383,31.8 382.88,31.88 382.75,31.95 382.62,32.01 382.5,32.06 382.38,32.1 382.25,32.13 382.12,32.14 382,32.15 381.88,32.14 381.75,32.13 381.62,32.1 381.5,32.06 381.38,32.01 381.25,31.95 381.12,31.88 381,31.8 380.88,31.71 380.75,31.61 380.62,31.5 380.5,31.38 380.38,31.25 380.25,31.11 380.12,30.97 380,30.82 379.88,30.66 379.75,30.5 379.62,30.33 379.5,30.16 379.38,29.98 379.25,29.8 379.12,29.61 379,29.42 378.88,29.23 378.75,29.04 378.62,28.85 378.5,28.65 378.38,28.46 378.25,28.26 378.12,28.07 378,27.87 377.88,27.68 377.75,27.49 377.62,27.3 377.5,27.12 377.38,26.93 377.25,26.75 377.12,26.58 377,26.41 376.88,26.24 376.75,26.07 376.62,25.92 376.5,25.76 376.38,25.61 376.25,25.46 376.12,25.32 376,25.19 375.88,25.06 375.75,24.93 375.62,24.81 375.5,24.7 375.38,24.58 375.25,24.48 375.12,24.38 375,24.28" fill="#6a6a6a" fill-opacity="0.42"/>
<rect x="407.1" y="16.4" width="16.6" height="13" fill="#d4d4d4"/>
<path d="M407.1,22.9 L407.23,20.51 407.35,18.46 407.48,17.02 407.6,16.41 407.73,16.71 407.85,17.87 407.98,19.74 408.11,22.05 408.23,24.48 408.36,26.68 408.48,28.36 408.61,29.27 408.73,29.3 408.86,28.42 408.99,26.78 409.11,24.59 409.24,22.16 409.36,19.84 409.49,17.95 409.62,16.75 409.74,16.41 409.87,16.98 409.99,18.37 410.12,20.4 410.24,22.78 410.37,25.18 410.5,27.26 410.62,28.72 410.75,29.38 410.87,29.12 411,28 411.12,26.16 411.25,23.87 411.38,21.44 411.5,19.21 411.63,17.5 411.75,16.55 411.88,16.48 412,17.32 412.13,18.93 412.26,21.1 412.38,23.52 412.51,25.85 412.63,27.77 412.76,29.01 412.88,29.4 413.01,28.87 413.14,27.51 413.26,25.51 413.39,23.14 413.51,20.73 413.64,18.63 413.77,17.13 413.89,16.43 414.02,16.64 414.14,17.73 414.27,19.54 414.39,21.81 414.52,24.25 414.65,26.49 414.77,28.23 414.9,29.22 415.02,29.33 415.15,28.54 415.27,26.96 415.4,24.82 415.53,22.4 415.65,20.05 415.78,18.11 415.9,16.83 416.03,16.4 416.15,16.88 416.28,18.21 416.41,20.19 416.53,22.55 416.66,24.96 416.78,27.08 416.91,28.62 417.03,29.35 417.16,29.19 417.29,28.14 417.41,26.36 417.54,24.1 417.66,21.67 417.79,19.41 417.92,17.64 418.04,16.6 418.17,16.45 418.29,17.2 418.42,18.74 418.54,20.87 418.67,23.28 418.8,25.64 418.92,27.61 419.05,28.93 419.17,29.4 419.3,28.96 419.42,27.67 419.55,25.72 419.68,23.37 419.8,20.96 419.93,18.81 420.05,17.24 420.18,16.46 420.3,16.58 420.43,17.59 420.56,19.34 420.68,21.58 420.81,24.01 420.93,26.29 421.06,28.09 421.18,29.16 421.31,29.36 421.44,28.66 421.56,27.15 421.69,25.04 421.81,22.63 421.94,20.27 422.07,18.27 422.19,16.92 422.32,16.4 422.44,16.8 422.57,18.05 422.69,19.97 422.82,22.31 422.95,24.73 423.07,26.89 423.2,28.5 423.32,29.32 423.45,29.24 423.57,28.28 423.7,26.56" fill="none" stroke="#8c8c8c" stroke-width="0.7"/>
<text x="111.8" y="210.6" font-size="11" text-anchor="start" font-family='"Liberation Serif", "Times New Roman", serif' fill="#1a1a1a" stroke="#1a1a1a" >π pluse Readout</text>
<path d="M121.5,225.08 L121.62,225.51 121.75,225.65 121.88,225.4 122,224.79 122.12,223.91 122.25,222.97 122.38,222.2 122.5,221.81 122.62,221.96 122.75,222.68 122.88,223.83 123,225.19 123.12,226.43 123.25,227.21 123.38,227.29 123.5,226.58 123.62,225.17 123.75,223.35 123.88,221.54 124,220.2 124.12,219.72 124.25,220.28 124.38,221.85 124.5,224.1 124.62,226.54 124.75,228.56 124.88,229.63 125,229.41 125.12,227.87 125.25,225.3 125.38,222.26 125.5,219.49 125.62,217.68 125.75,217.33 125.88,218.63 126,221.32 126.12,224.83 126.25,228.32 126.38,230.95 126.5,232.02 126.62,231.22 126.75,228.66 126.88,224.92 127,220.86 127.12,217.46 127.25,215.56 127.38,215.67 127.5,217.81 127.62,221.49 127.75,225.87 127.88,229.88 128,232.56 128.12,233.26 128.25,231.77 128.38,228.46 128.5,224.1 128.62,219.74 128.75,216.43 128.88,214.94 129,215.64 129.12,218.32 129.25,222.33 129.38,226.71 129.5,230.39 129.62,232.53 129.75,232.64 129.88,230.74 130,227.34 130.12,223.28 130.25,219.54 130.38,216.98 130.5,216.18 130.62,217.25 130.75,219.88 130.88,223.37 131,226.88 131.12,229.57 131.25,230.87 131.38,230.52 131.5,228.71 131.62,225.94 131.75,222.9 131.88,220.33 132,218.79 132.12,218.57 132.25,219.64 132.38,221.66 132.5,224.1 132.62,226.35 132.75,227.92 132.88,228.48 133,228 133.12,226.66 133.25,224.85 133.38,223.03 133.5,221.62 133.62,220.91 133.75,220.99 133.88,221.77 134,223.01 134.12,224.37 134.25,225.52 134.38,226.24 134.5,226.39 134.62,226 134.75,225.23 134.88,224.29 135,223.41 135.12,222.8 135.25,222.55 135.38,222.69 135.5,223.12" fill="none" stroke="#6a6a6a" stroke-width="0.7"/>
<polygon points="121.5,222.72 121.62,222.62 121.75,222.52 121.88,222.42 122,222.3 122.12,222.19 122.25,222.07 122.38,221.94 122.5,221.81 122.62,221.68 122.75,221.54 122.88,221.39 123,221.24 123.12,221.08 123.25,220.93 123.38,220.76 123.5,220.59 123.62,220.42 123.75,220.25 123.88,220.07 124,219.88 124.12,219.7 124.25,219.51 124.38,219.32 124.5,219.13 124.62,218.93 124.75,218.74 124.88,218.54 125,218.35 125.12,218.15 125.25,217.96 125.38,217.77 125.5,217.58 125.62,217.39 125.75,217.2 125.88,217.02 126,216.84 126.12,216.67 126.25,216.5 126.38,216.34 126.5,216.18 126.62,216.03 126.75,215.89 126.88,215.75 127,215.62 127.12,215.5 127.25,215.39 127.38,215.29 127.5,215.2 127.62,215.12 127.75,215.05 127.88,214.99 128,214.94 128.12,214.9 128.25,214.87 128.38,214.86 128.5,214.85 128.62,214.86 128.75,214.87 128.88,214.9 129,214.94 129.12,214.99 129.25,215.05 129.38,215.12 129.5,215.2 129.62,215.29 129.75,215.39 129.88,215.5 130,215.62 130.12,215.75 130.25,215.89 130.38,216.03 130.5,216.18 130.62,216.34 130.75,216.5 130.88,216.67 131,216.84 131.12,217.02 131.25,217.2 131.38,217.39 131.5,217.58 131.62,217.77 131.75,217.96 131.88,218.15 132,218.35 132.12,218.54 132.25,218.74 132.38,218.93 132.5,219.13 132.62,219.32 132.75,219.51 132.88,219.7 133,219.88 133.12,220.07 133.25,220.25 133.38,220.42 133.5,220.59 133.62,220.76 133.75,220.93 133.88,221.08 134,221.24 134.12,221.39 134.25,221.54 134.38,221.68 134.5,221.81 134.62,221.94 134.75,222.07 134.88,222.19 135,222.3 135.12,222.42 135.25,222.52 135.38,222.62 135.5,222.72 135.5,225.48 135.38,225.58 135.25,225.68 135.12,225.78 135,225.9 134.88,226.01 134.75,226.13 134.62,226.26 134.5,226.39 134.38,226.52 134.25,226.66 134.12,226.81 134,226.96 133.88,227.12 133.75,227.27 133.62,227.44 133.5,227.61 133.38,227.78 133.25,227.95 133.12,228.13 133,228.32 132.88,228.5 132.75,228.69 132.62,228.88 132.5,229.07 132.38,229.27 132.25,229.46 132.12,229.66 132,229.85 131.88,230.05 131.75,230.24 131.62,230.43 131.5,230.62 131.38,230.81 131.25,231 131.12,231.18 131,231.36 130.88,231.53 130.75,231.7 130.62,231.86 130.5,232.02 130.38,232.17 130.25,232.31 130.12,232.45 130,232.58 129.88,232.7 129.75,232.81 129.62,232.91 129.5,233 129.38,233.08 129.25,233.15 129.12,233.21 129,233.26 128.88,233.3 128.75,233.33 128.62,233.34 128.5,233.35 128.38,233.34 128.25,233.33 128.12,233.3 128,233.26 127.88,233.21 127.75,233.15 127.62,233.08 127.5,233 127.38,232.91 127.25,232.81 127.12,232.7 127,232.58 126.88,232.45 126.75,232.31 126.62,232.17 126.5,232.02 126.38,231.86 126.25,231.7 126.12,231.53 126,231.36 125.88,231.18 125.75,231 125.62,230.81 125.5,230.62 125.38,230.43 125.25,230.24 125.12,230.05 125,229.85 124.88,229.66 124.75,229.46 124.62,229.27 124.5,229.07 124.38,228.88 124.25,228.69 124.12,228.5 124,228.32 123.88,228.13 123.75,227.95 123.62,227.78 123.5,227.61 123.38,227.44 123.25,227.27 123.12,227.12 123,226.96 122.88,226.81 122.75,226.66 122.62,226.52 122.5,226.39 122.38,226.26 122.25,226.13 122.12,226.01 122,225.9 121.88,225.78 121.75,225.68 121.62,225.58 121.5,225.48" fill="#6a6a6a" fill-opacity="0.42"/>
<text x="144" y="220.2" font-size="8" text-anchor="middle" font-family='"Liberation Serif", "Times New Roman", serif' fill="#333" stroke="#333" stroke-width="0.35">τ</text>
<path d="M134.9,217.8 L137.5,215.9 L137.5,219.7 Z M153.1,217.8 L150.5,215.9 L150.5,219.7 Z" fill="#333"/>
<path d="M137.5,217.8 H141.56 M146.44,217.8 H150.5" stroke="#555" stroke-width="0.9"/>
<rect x="153.6" y="217.5" width="17" height="12.1" fill="#d4d4d4"/>
<path d="M153.6,223.55 L153.72,221.34 153.85,219.43 153.97,218.1 154.1,217.52 154.22,217.77 154.35,218.82 154.47,220.53 154.6,222.65 154.72,224.9 154.85,226.96 154.97,228.55 155.1,229.45 155.22,229.53 155.35,228.79 155.47,227.32 155.6,225.33 155.72,223.1 155.85,220.93 155.97,219.12 156.1,217.92 156.22,217.5 156.35,217.92 156.47,219.12 156.6,220.93 156.72,223.1 156.85,225.33 156.97,227.32 157.1,228.79 157.22,229.53 157.35,229.45 157.47,228.55 157.6,226.96 157.72,224.9 157.85,222.65 157.97,220.53 158.1,218.82 158.22,217.77 158.35,217.52 158.47,218.1 158.6,219.43 158.72,221.34 158.85,223.55 158.97,225.76 159.1,227.67 159.22,229 159.35,229.58 159.47,229.33 159.6,228.28 159.72,226.58 159.85,224.45 159.97,222.2 160.1,220.14 160.22,218.55 160.35,217.65 160.47,217.57 160.6,218.31 160.72,219.78 160.85,221.77 160.97,224 161.1,226.17 161.22,227.98 161.35,229.18 161.47,229.6 161.6,229.18 161.72,227.98 161.85,226.17 161.97,224 162.1,221.77 162.22,219.78 162.35,218.31 162.47,217.57 162.6,217.65 162.72,218.55 162.85,220.14 162.97,222.2 163.1,224.45 163.22,226.57 163.35,228.28 163.47,229.33 163.6,229.58 163.72,229 163.85,227.67 163.97,225.76 164.1,223.55 164.22,221.34 164.35,219.43 164.47,218.1 164.6,217.52 164.72,217.77 164.85,218.82 164.97,220.53 165.1,222.65 165.22,224.9 165.35,226.96 165.47,228.55 165.6,229.45 165.72,229.53 165.85,228.79 165.97,227.32 166.1,225.33 166.22,223.1 166.35,220.93 166.47,219.12 166.6,217.92 166.72,217.5 166.85,217.92 166.97,219.12 167.1,220.93 167.22,223.1 167.35,225.33 167.47,227.32 167.6,228.79 167.72,229.53 167.85,229.45 167.97,228.55 168.1,226.96 168.22,224.9 168.35,222.65 168.47,220.53 168.6,218.82 168.72,217.77 168.85,217.52 168.97,218.1 169.1,219.43 169.22,221.34 169.35,223.55 169.47,225.76 169.6,227.67 169.72,229 169.85,229.58 169.97,229.33 170.1,228.28 170.22,226.58 170.35,224.45 170.47,222.2 170.6,220.14" fill="none" stroke="#8c8c8c" stroke-width="0.7"/>
<text x="370.4" y="208.8" font-size="11" text-anchor="start" font-family='"Liberation Serif", "Times New Roman", serif' fill="#1a1a1a" stroke="#1a1a1a" >π pluse Readout</text>
<path d="M381.1,221.45 L381.23,220.79 381.35,220.35 381.48,220.28 381.6,220.65 381.73,221.44 381.86,222.49 381.98,223.56 382.11,224.37 382.23,224.68 382.36,224.32 382.49,223.32 382.61,221.85 382.74,220.23 382.86,218.88 382.99,218.18 383.12,218.38 383.24,219.54 383.37,221.44 383.49,223.69 383.62,225.72 383.75,227 383.87,227.13 384,225.97 384.12,223.71 384.25,220.82 384.38,218.01 384.5,215.99 384.63,215.33 384.75,216.29 384.88,218.75 385.01,222.17 385.13,225.76 385.26,228.61 385.38,229.97 385.51,229.42 385.64,227.02 385.76,223.27 385.89,219.06 386.01,215.41 386.14,213.26 386.27,213.18 386.39,215.26 386.52,219.04 386.64,223.62 386.77,227.89 386.9,230.79 387.02,231.6 387.15,230.08 387.27,226.6 387.4,222 387.53,217.4 387.65,213.92 387.78,212.4 387.9,213.21 388.03,216.11 388.16,220.38 388.28,224.96 388.41,228.74 388.53,230.82 388.66,230.74 388.79,228.59 388.91,224.94 389.04,220.73 389.16,216.98 389.29,214.58 389.42,214.03 389.54,215.39 389.67,218.24 389.79,221.83 389.92,225.25 390.05,227.71 390.17,228.67 390.3,228.01 390.42,225.99 390.55,223.18 390.68,220.29 390.8,218.03 390.93,216.87 391.05,217 391.18,218.28 391.31,220.31 391.43,222.56 391.56,224.46 391.68,225.62 391.81,225.82 391.94,225.12 392.06,223.77 392.19,222.15 392.31,220.68 392.44,219.68 392.57,219.32 392.69,219.63 392.82,220.44 392.94,221.51 393.07,222.56 393.2,223.35 393.32,223.72 393.45,223.65 393.57,223.21 393.7,222.55" fill="none" stroke="#6a6a6a" stroke-width="0.7"/>
<polygon points="381.1,220.55 381.23,220.44 381.35,220.32 381.48,220.19 381.6,220.06 381.73,219.92 381.86,219.77 381.98,219.62 382.11,219.46 382.23,219.3 382.36,219.13 382.49,218.95 382.61,218.77 382.74,218.58 382.86,218.38 382.99,218.18 383.12,217.97 383.24,217.76 383.37,217.55 383.49,217.33 383.62,217.11 383.75,216.88 383.87,216.66 384,216.43 384.12,216.2 384.25,215.97 384.38,215.74 384.5,215.51 384.63,215.29 384.75,215.06 384.88,214.84 385.01,214.63 385.13,214.42 385.26,214.21 385.38,214.02 385.51,213.83 385.64,213.64 385.76,213.47 385.89,213.31 386.01,213.15 386.14,213.01 386.27,212.88 386.39,212.76 386.52,212.65 386.64,212.56 386.77,212.48 386.9,212.42 387.02,212.37 387.15,212.33 387.27,212.31 387.4,212.3 387.53,212.31 387.65,212.33 387.78,212.37 387.9,212.42 388.03,212.48 388.16,212.56 388.28,212.65 388.41,212.76 388.53,212.88 388.66,213.01 388.79,213.15 388.91,213.31 389.04,213.47 389.16,213.64 389.29,213.83 389.42,214.02 389.54,214.21 389.67,214.42 389.79,214.63 389.92,214.84 390.05,215.06 390.17,215.29 390.3,215.51 390.42,215.74 390.55,215.97 390.68,216.2 390.8,216.43 390.93,216.66 391.05,216.88 391.18,217.11 391.31,217.33 391.43,217.55 391.56,217.76 391.68,217.97 391.81,218.18 391.94,218.38 392.06,218.58 392.19,218.77 392.31,218.95 392.44,219.13 392.57,219.3 392.69,219.46 392.82,219.62 392.94,219.77 393.07,219.92 393.2,220.06 393.32,220.19 393.45,220.32 393.57,220.44 393.7,220.55 393.7,223.45 393.57,223.56 393.45,223.68 393.32,223.81 393.2,223.94 393.07,224.08 392.94,224.23 392.82,224.38 392.69,224.54 392.57,224.7 392.44,224.87 392.31,225.05 392.19,225.23 392.06,225.42 391.94,225.62 391.81,225.82 391.68,226.03 391.56,226.24 391.43,226.45 391.31,226.67 391.18,226.89 391.05,227.12 390.93,227.34 390.8,227.57 390.68,227.8 390.55,228.03 390.42,228.26 390.3,228.49 390.17,228.71 390.05,228.94 389.92,229.16 389.79,229.37 389.67,229.58 389.54,229.79 389.42,229.98 389.29,230.17 389.16,230.36 389.04,230.53 388.91,230.69 388.79,230.85 388.66,230.99 388.53,231.12 388.41,231.24 388.28,231.35 388.16,231.44 388.03,231.52 387.9,231.58 387.78,231.63 387.65,231.67 387.53,231.69 387.4,231.7 387.27,231.69 387.15,231.67 387.02,231.63 386.9,231.58 386.77,231.52 386.64,231.44 386.52,231.35 386.39,231.24 386.27,231.12 386.14,230.99 386.01,230.85 385.89,230.69 385.76,230.53 385.64,230.36 385.51,230.17 385.38,229.98 385.26,229.79 385.13,229.58 385.01,229.37 384.88,229.16 384.75,228.94 384.63,228.71 384.5,228.49 384.38,228.26 384.25,228.03 384.12,227.8 384,227.57 383.87,227.34 383.75,227.12 383.62,226.89 383.49,226.67 383.37,226.45 383.24,226.24 383.12,226.03 382.99,225.82 382.86,225.62 382.74,225.42 382.61,225.23 382.49,225.05 382.36,224.87 382.23,224.7 382.11,224.54 381.98,224.38 381.86,224.23 381.73,224.08 381.6,223.94 381.48,223.81 381.35,223.68 381.23,223.56 381.1,223.45" fill="#6a6a6a" fill-opacity="0.42"/>
<text x="403.05" y="218.7" font-size="8" text-anchor="middle" font-family='"Liberation Serif", "Times New Roman", serif' fill="#333" stroke="#333" stroke-width="0.35">τ</text>
<path d="M393.8,216.3 L396.4,214.4 L396.4,218.2 Z M412.3,216.3 L409.7,214.4 L409.7,218.2 Z" fill="#333"/>
<path d="M396.4,216.3 H400.61 M405.49,216.3 H409.7" stroke="#555" stroke-width="0.9"/>
<rect x="412.8" y="215.4" width="16.4" height="13.3" fill="#d4d4d4"/>
<path d="M412.8,222.05 L412.93,219.62 413.05,217.52 413.18,216.05 413.3,215.42 413.43,215.7 413.55,216.87 413.68,218.75 413.8,221.09 413.93,223.56 414.05,225.83 414.18,227.57 414.3,228.54 414.43,228.62 414.55,227.78 414.68,226.15 414.8,223.95 414.93,221.49 415.05,219.1 415.18,217.13 415.3,215.83 415.43,215.4 415.55,215.89 415.68,217.24 415.8,219.25 415.93,221.65 416.05,224.1 416.18,226.28 416.31,227.86 416.43,228.64 416.56,228.51 416.68,227.48 416.81,225.7 416.93,223.41 417.06,220.93 417.18,218.61 417.31,216.77 417.43,215.66 417.56,215.43 417.68,216.12 417.81,217.64 417.93,219.77 418.06,222.21 418.18,224.63 418.31,226.69 418.43,228.11 418.56,228.69 418.68,228.35 418.81,227.13 418.93,225.21 419.06,222.85 419.18,220.38 419.31,218.14 419.44,216.44 419.56,215.52 419.69,215.51 419.81,216.4 419.94,218.08 420.06,220.3 420.19,222.77 420.31,225.14 420.44,227.08 420.56,228.32 420.69,228.7 420.81,228.15 420.94,226.75 421.06,224.71 421.19,222.29 421.31,219.84 421.44,217.7 421.56,216.16 421.69,215.44 421.81,215.63 421.94,216.72 422.06,218.54 422.19,220.85 422.31,223.33 422.44,225.62 422.56,227.43 422.69,228.49 422.82,228.65 422.94,227.9 423.07,226.34 423.19,224.18 423.32,221.73 423.44,219.32 423.57,217.29 423.69,215.92 423.82,215.4 423.94,215.8 424.07,217.07 424.19,219.03 424.32,221.41 424.44,223.87 424.57,226.09 424.69,227.74 424.82,228.6 424.94,228.56 425.07,227.61 425.19,225.9 425.32,223.64 425.44,221.17 425.57,218.82 425.69,216.92 425.82,215.73 425.95,215.41 426.07,216.02 426.2,217.46 426.32,219.54 426.45,221.97 426.57,224.41 426.7,226.52 426.82,228.01 426.95,228.68 427.07,228.42 427.2,227.29 427.32,225.42 427.45,223.09 427.57,220.62 427.7,218.34 427.82,216.58 427.95,215.58 428.07,215.47 428.2,216.28 428.32,217.88 428.45,220.07 428.57,222.53 428.7,224.92 428.82,226.92 428.95,228.24 429.07,228.7 429.2,228.24" fill="none" stroke="#8c8c8c" stroke-width="0.7"/>
<text x="108.7" y="413.2" font-size="11" text-anchor="start" font-family='"Liberation Serif", "Times New Roman", serif' fill="#1a1a1a" stroke="#1a1a1a" >π/2</text>
<text x="133.7" y="413.2" font-size="11" text-anchor="start" font-family='"Liberation Serif", "Times New Roman", serif' fill="#1a1a1a" stroke="#1a1a1a" >π/2 Readout</text>
<path d="M109.45,422.4 L109.58,422.37 109.7,422.52 109.83,422.85 109.95,423.3 110.08,423.77 110.21,424.13 110.33,424.28 110.46,424.13 110.58,423.69 110.71,423.04 110.84,422.32 110.96,421.7 111.09,421.37 111.21,421.45 111.34,421.97 111.47,422.83 111.59,423.87 111.72,424.81 111.84,425.42 111.97,425.49 112.1,424.96 112.22,423.91 112.35,422.56 112.48,421.23 112.6,420.26 112.73,419.93 112.85,420.38 112.98,421.54 113.11,423.17 113.23,424.89 113.36,426.27 113.48,426.94 113.61,426.69 113.74,425.53 113.86,423.72 113.99,421.68 114.11,419.9 114.24,418.85 114.37,418.8 114.49,419.81 114.62,421.65 114.74,423.89 114.87,425.98 115,427.4 115.12,427.8 115.25,427.06 115.37,425.35 115.5,423.1 115.63,420.85 115.75,419.14 115.88,418.4 116,418.8 116.13,420.22 116.26,422.31 116.38,424.55 116.51,426.39 116.63,427.4 116.76,427.35 116.89,426.3 117.01,424.52 117.14,422.48 117.26,420.67 117.39,419.51 117.52,419.26 117.64,419.93 117.77,421.31 117.89,423.03 118.02,424.66 118.15,425.82 118.27,426.27 118.4,425.94 118.53,424.97 118.65,423.64 118.78,422.29 118.9,421.24 119.03,420.71 119.16,420.78 119.28,421.39 119.41,422.33 119.53,423.37 119.66,424.23 119.79,424.75 119.91,424.83 120.04,424.5 120.16,423.88 120.29,423.16 120.42,422.51 120.54,422.07 120.67,421.92 120.79,422.07 120.92,422.43 121.05,422.9 121.17,423.35 121.3,423.68 121.42,423.83 121.55,423.8" fill="none" stroke="#6a6a6a" stroke-width="0.7"/>
<polygon points="109.45,422.39 109.58,422.33 109.7,422.27 109.83,422.21 109.95,422.14 110.08,422.07 110.21,421.99 110.33,421.91 110.46,421.83 110.58,421.75 110.71,421.66 110.84,421.57 110.96,421.47 111.09,421.37 111.21,421.27 111.34,421.17 111.47,421.06 111.59,420.95 111.72,420.84 111.84,420.73 111.97,420.61 112.1,420.5 112.22,420.38 112.35,420.26 112.48,420.15 112.6,420.03 112.73,419.91 112.85,419.8 112.98,419.69 113.11,419.57 113.23,419.46 113.36,419.36 113.48,419.25 113.61,419.15 113.74,419.06 113.86,418.97 113.99,418.88 114.11,418.8 114.24,418.73 114.37,418.66 114.49,418.59 114.62,418.54 114.74,418.49 114.87,418.45 115,418.41 115.12,418.39 115.25,418.37 115.37,418.35 115.5,418.35 115.63,418.35 115.75,418.37 115.88,418.39 116,418.41 116.13,418.45 116.26,418.49 116.38,418.54 116.51,418.59 116.63,418.66 116.76,418.73 116.89,418.8 117.01,418.88 117.14,418.97 117.26,419.06 117.39,419.15 117.52,419.25 117.64,419.36 117.77,419.46 117.89,419.57 118.02,419.69 118.15,419.8 118.27,419.91 118.4,420.03 118.53,420.15 118.65,420.26 118.78,420.38 118.9,420.5 119.03,420.61 119.16,420.73 119.28,420.84 119.41,420.95 119.53,421.06 119.66,421.17 119.79,421.27 119.91,421.37 120.04,421.47 120.16,421.57 120.29,421.66 120.42,421.75 120.54,421.83 120.67,421.91 120.79,421.99 120.92,422.07 121.05,422.14 121.17,422.21 121.3,422.27 121.42,422.33 121.55,422.39 121.55,423.81 121.42,423.87 121.3,423.93 121.17,423.99 121.05,424.06 120.92,424.13 120.79,424.21 120.67,424.29 120.54,424.37 120.42,424.45 120.29,424.54 120.16,424.63 120.04,424.73 119.91,424.83 119.79,424.93 119.66,425.03 119.53,425.14 119.41,425.25 119.28,425.36 119.16,425.47 119.03,425.59 118.9,425.7 118.78,425.82 118.65,425.94 118.53,426.05 118.4,426.17 118.27,426.29 118.15,426.4 118.02,426.51 117.89,426.63 117.77,426.74 117.64,426.84 117.52,426.95 117.39,427.05 117.26,427.14 117.14,427.23 117.01,427.32 116.89,427.4 116.76,427.47 116.63,427.54 116.51,427.61 116.38,427.66 116.26,427.71 116.13,427.75 116,427.79 115.88,427.81 115.75,427.83 115.63,427.85 115.5,427.85 115.37,427.85 115.25,427.83 115.12,427.81 115,427.79 114.87,427.75 114.74,427.71 114.62,427.66 114.49,427.61 114.37,427.54 114.24,427.47 114.11,427.4 113.99,427.32 113.86,427.23 113.74,427.14 113.61,427.05 113.48,426.95 113.36,426.84 113.23,426.74 113.11,426.63 112.98,426.51 112.85,426.4 112.73,426.29 112.6,426.17 112.48,426.05 112.35,425.94 112.22,425.82 112.1,425.7 111.97,425.59 111.84,425.47 111.72,425.36 111.59,425.25 111.47,425.14 111.34,425.03 111.21,424.93 111.09,424.83 110.96,424.73 110.84,424.63 110.71,424.54 110.58,424.45 110.46,424.37 110.33,424.29 110.21,424.21 110.08,424.13 109.95,424.06 109.83,423.99 109.7,423.93 109.58,423.87 109.45,423.81" fill="#6a6a6a" fill-opacity="0.42"/>
<text x="127.9" y="420.84" font-size="7.8" text-anchor="middle" font-family='"Liberation Serif", "Times New Roman", serif' fill="#333" stroke="#333" stroke-width="0.35">τ</text>
<path d="M120,418.5 L122.6,416.6 L122.6,420.4 Z M135.8,418.5 L133.2,416.6 L133.2,420.4 Z" fill="#333"/>
<path d="M122.6,418.5 H125.51 M130.29,418.5 H133.2" stroke="#555" stroke-width="0.9"/>
<path d="M134.6,423.37 L134.72,423.03 134.85,422.64 134.97,422.33 135.1,422.16 135.22,422.21 135.35,422.5 135.47,422.99 135.6,423.57 135.72,424.1 135.85,424.45 135.97,424.49 136.1,424.19 136.22,423.57 136.35,422.76 136.47,421.95 136.6,421.34 136.72,421.1 136.85,421.35 136.97,422.06 137.1,423.1 137.22,424.24 137.35,425.2 137.47,425.72 137.6,425.63 137.72,424.9 137.85,423.68 137.97,422.21 138.1,420.86 138.22,419.97 138.35,419.79 138.47,420.41 138.6,421.73 138.72,423.46 138.85,425.2 138.97,426.52 139.1,427.07 139.22,426.68 139.35,425.4 139.47,423.51 139.6,421.46 139.72,419.73 139.85,418.76 139.97,418.81 140.1,419.89 140.22,421.77 140.35,424 140.47,426.06 140.6,427.44 140.72,427.8 140.85,427.04 140.97,425.34 141.1,423.1 141.22,420.86 141.35,419.16 141.47,418.4 141.6,418.76 141.72,420.14 141.85,422.2 141.97,424.43 142.1,426.31 142.22,427.39 142.35,427.44 142.47,426.47 142.6,424.74 142.72,422.69 142.85,420.8 142.97,419.52 143.1,419.13 143.22,419.68 143.35,421 143.47,422.74 143.6,424.47 143.72,425.79 143.85,426.41 143.97,426.23 144.1,425.34 144.22,423.99 144.35,422.52 144.47,421.3 144.6,420.57 144.72,420.48 144.85,421 144.97,421.96 145.1,423.1 145.22,424.14 145.35,424.85 145.47,425.1 145.6,424.86 145.72,424.25 145.85,423.44 145.97,422.63 146.1,422.01 146.22,421.71 146.35,421.75 146.47,422.1 146.6,422.63 146.72,423.21 146.85,423.7 146.97,423.99 147.1,424.04 147.22,423.87 147.35,423.56 147.47,423.17 147.6,422.83" fill="none" stroke="#6a6a6a" stroke-width="0.7"/>
<polygon points="134.6,422.39 134.72,422.34 134.85,422.28 134.97,422.22 135.1,422.16 135.22,422.1 135.35,422.03 135.47,421.96 135.6,421.88 135.72,421.81 135.85,421.73 135.97,421.64 136.1,421.56 136.22,421.47 136.35,421.38 136.47,421.29 136.6,421.19 136.72,421.09 136.85,420.99 136.97,420.89 137.1,420.79 137.22,420.68 137.35,420.58 137.47,420.47 137.6,420.36 137.72,420.25 137.85,420.15 137.97,420.04 138.1,419.93 138.22,419.83 138.35,419.72 138.47,419.62 138.6,419.51 138.72,419.41 138.85,419.32 138.97,419.22 139.1,419.13 139.22,419.05 139.35,418.96 139.47,418.88 139.6,418.81 139.72,418.74 139.85,418.67 139.97,418.61 140.1,418.56 140.22,418.51 140.35,418.47 140.47,418.43 140.6,418.4 140.72,418.38 140.85,418.36 140.97,418.35 141.1,418.35 141.22,418.35 141.35,418.36 141.47,418.38 141.6,418.4 141.72,418.43 141.85,418.47 141.97,418.51 142.1,418.56 142.22,418.61 142.35,418.67 142.47,418.74 142.6,418.81 142.72,418.88 142.85,418.96 142.97,419.05 143.1,419.13 143.22,419.22 143.35,419.32 143.47,419.41 143.6,419.51 143.72,419.62 143.85,419.72 143.97,419.83 144.1,419.93 144.22,420.04 144.35,420.15 144.47,420.25 144.6,420.36 144.72,420.47 144.85,420.58 144.97,420.68 145.1,420.79 145.22,420.89 145.35,420.99 145.47,421.09 145.6,421.19 145.72,421.29 145.85,421.38 145.97,421.47 146.1,421.56 146.22,421.64 146.35,421.73 146.47,421.81 146.6,421.88 146.72,421.96 146.85,422.03 146.97,422.1 147.1,422.16 147.22,422.22 147.35,422.28 147.47,422.34 147.6,422.39 147.6,423.81 147.47,423.86 147.35,423.92 147.22,423.98 147.1,424.04 146.97,424.1 146.85,424.17 146.72,424.24 146.6,424.32 146.47,424.39 146.35,424.47 146.22,424.56 146.1,424.64 145.97,424.73 145.85,424.82 145.72,424.91 145.6,425.01 145.47,425.11 145.35,425.21 145.22,425.31 145.1,425.41 144.97,425.52 144.85,425.62 144.72,425.73 144.6,425.84 144.47,425.95 144.35,426.05 144.22,426.16 144.1,426.27 143.97,426.37 143.85,426.48 143.72,426.58 143.6,426.69 143.47,426.79 143.35,426.88 143.22,426.98 143.1,427.07 142.97,427.15 142.85,427.24 142.72,427.32 142.6,427.39 142.47,427.46 142.35,427.53 142.22,427.59 142.1,427.64 141.97,427.69 141.85,427.73 141.72,427.77 141.6,427.8 141.47,427.82 141.35,427.84 141.22,427.85 141.1,427.85 140.97,427.85 140.85,427.84 140.72,427.82 140.6,427.8 140.47,427.77 140.35,427.73 140.22,427.69 140.1,427.64 139.97,427.59 139.85,427.53 139.72,427.46 139.6,427.39 139.47,427.32 139.35,427.24 139.22,427.15 139.1,427.07 138.97,426.98 138.85,426.88 138.72,426.79 138.6,426.69 138.47,426.58 138.35,426.48 138.22,426.37 138.1,426.27 137.97,426.16 137.85,426.05 137.72,425.95 137.6,425.84 137.47,425.73 137.35,425.62 137.22,425.52 137.1,425.41 136.97,425.31 136.85,425.21 136.72,425.11 136.6,425.01 136.47,424.91 136.35,424.82 136.22,424.73 136.1,424.64 135.97,424.56 135.85,424.47 135.72,424.39 135.6,424.32 135.47,424.24 135.35,424.17 135.22,424.1 135.1,424.04 134.97,423.98 134.85,423.92 134.72,423.86 134.6,423.81" fill="#6a6a6a" fill-opacity="0.42"/>
<rect x="157.1" y="417.5" width="16.4" height="12.1" fill="#d4d4d4"/>
<path d="M157.1,423.55 L157.23,421.34 157.35,419.43 157.48,418.09 157.6,417.52 157.73,417.77 157.85,418.83 157.98,420.55 158.1,422.68 158.23,424.93 158.35,426.99 158.48,428.57 158.6,429.46 158.73,429.53 158.85,428.77 158.98,427.28 159.1,425.28 159.23,423.04 159.35,420.87 159.48,419.07 159.6,417.89 159.73,417.5 159.85,417.95 159.98,419.17 160.1,421 160.23,423.18 160.35,425.42 160.48,427.39 160.61,428.84 160.73,429.55 160.86,429.42 160.98,428.49 161.11,426.87 161.23,424.78 161.36,422.53 161.48,420.42 161.61,418.74 161.73,417.73 161.86,417.53 161.98,418.16 162.11,419.54 162.23,421.47 162.36,423.7 162.48,425.9 162.61,427.78 162.73,429.07 162.86,429.59 162.98,429.28 163.11,428.17 163.23,426.43 163.36,424.28 163.48,422.03 163.61,420 163.74,418.45 163.86,417.61 163.99,417.6 164.11,418.41 164.24,419.93 164.36,421.96 164.49,424.21 164.61,426.36 164.74,428.13 164.86,429.26 164.99,429.6 165.11,429.1 165.24,427.83 165.36,425.97 165.49,423.77 165.61,421.54 165.74,419.59 165.86,418.19 165.99,417.54 166.11,417.71 166.24,418.7 166.36,420.36 166.49,422.46 166.61,424.71 166.74,426.8 166.86,428.44 166.99,429.41 167.12,429.56 167.24,428.87 167.37,427.45 167.49,425.49 167.62,423.26 167.74,421.07 167.87,419.22 167.99,417.98 168.12,417.5 168.24,417.87 168.37,419.02 168.49,420.8 168.62,422.96 168.74,425.21 168.87,427.22 168.99,428.73 169.12,429.51 169.24,429.47 169.37,428.61 169.49,427.05 169.62,425 169.74,422.75 169.87,420.61 169.99,418.88 170.12,417.8 170.25,417.51 170.37,418.06 170.5,419.37 170.62,421.27 170.75,423.47 170.87,425.69 171,427.61 171.12,428.97 171.25,429.58 171.37,429.35 171.5,428.31 171.62,426.62 171.75,424.5 171.87,422.25 172,420.18 172.12,418.57 172.25,417.66 172.37,417.56 172.5,418.3 172.62,419.76 172.75,421.75 172.87,423.98 173,426.16 173.12,427.98 173.25,429.18 173.37,429.6 173.5,429.18" fill="none" stroke="#8c8c8c" stroke-width="0.7"/>
<text x="371.2" y="414" font-size="11" text-anchor="start" font-family='"Liberation Serif", "Times New Roman", serif' fill="#1a1a1a" stroke="#1a1a1a" >π/2</text>
<text x="396.3" y="414" font-size="11" text-anchor="start" font-family='"Liberation Serif", "Times New Roman", serif' fill="#1a1a1a" stroke="#1a1a1a" >π/2 Readout</text>
<path d="M371.8,425.12 L371.93,425.23 372.05,425.14 372.18,424.84 372.3,424.39 372.43,423.88 372.55,423.44 372.68,423.18 372.8,423.21 372.93,423.54 373.05,424.14 373.18,424.88 373.31,425.57 373.43,426.05 373.56,426.16 373.68,425.84 373.81,425.11 373.93,424.13 374.06,423.12 374.18,422.33 374.31,421.99 374.43,422.23 374.56,423.03 374.69,424.24 374.81,425.6 374.94,426.76 375.06,427.43 375.19,427.39 375.31,426.61 375.44,425.22 375.56,423.53 375.69,421.95 375.81,420.88 375.94,420.61 376.07,421.26 376.19,422.72 376.32,424.67 376.44,426.64 376.57,428.16 376.69,428.83 376.82,428.44 376.94,427.05 377.07,424.97 377.19,422.68 377.32,420.74 377.45,419.63 377.57,419.65 377.7,420.82 377.82,422.88 377.95,425.34 378.07,427.61 378.2,429.14 378.32,429.55 378.45,428.72 378.57,426.86 378.7,424.4 378.83,421.94 378.95,420.08 379.08,419.25 379.2,419.66 379.33,421.19 379.45,423.46 379.58,425.92 379.7,427.98 379.83,429.15 379.95,429.17 380.08,428.06 380.21,426.12 380.33,423.83 380.46,421.75 380.58,420.36 380.71,419.97 380.83,420.64 380.96,422.16 381.08,424.13 381.21,426.08 381.33,427.54 381.46,428.19 381.59,427.92 381.71,426.85 381.84,425.27 381.96,423.58 382.09,422.19 382.21,421.41 382.34,421.37 382.46,422.04 382.59,423.2 382.71,424.56 382.84,425.77 382.97,426.57 383.09,426.81 383.22,426.47 383.34,425.68 383.47,424.67 383.59,423.69 383.72,422.96 383.84,422.64 383.97,422.75 384.09,423.23 384.22,423.92 384.35,424.66 384.47,425.26 384.6,425.59 384.72,425.62 384.85,425.36 384.97,424.92 385.1,424.41 385.22,423.96 385.35,423.66 385.47,423.57 385.6,423.68" fill="none" stroke="#6a6a6a" stroke-width="0.7"/>
<polygon points="371.8,423.62 371.93,423.57 372.05,423.51 372.18,423.45 372.3,423.39 372.43,423.32 372.55,423.25 372.68,423.18 372.8,423.1 372.93,423.02 373.05,422.94 373.18,422.86 373.31,422.77 373.43,422.68 373.56,422.59 373.68,422.5 373.81,422.4 373.93,422.3 374.06,422.2 374.18,422.1 374.31,421.99 374.43,421.89 374.56,421.78 374.69,421.67 374.81,421.56 374.94,421.45 375.06,421.33 375.19,421.22 375.31,421.11 375.44,421 375.56,420.89 375.69,420.78 375.81,420.67 375.94,420.56 376.07,420.46 376.19,420.36 376.32,420.26 376.44,420.16 376.57,420.06 376.69,419.97 376.82,419.89 376.94,419.8 377.07,419.72 377.19,419.65 377.32,419.58 377.45,419.52 377.57,419.46 377.7,419.41 377.82,419.36 377.95,419.32 378.07,419.28 378.2,419.25 378.32,419.23 378.45,419.21 378.57,419.2 378.7,419.2 378.83,419.2 378.95,419.21 379.08,419.23 379.2,419.25 379.33,419.28 379.45,419.32 379.58,419.36 379.7,419.41 379.83,419.46 379.95,419.52 380.08,419.58 380.21,419.65 380.33,419.72 380.46,419.8 380.58,419.89 380.71,419.97 380.83,420.06 380.96,420.16 381.08,420.26 381.21,420.36 381.33,420.46 381.46,420.56 381.59,420.67 381.71,420.78 381.84,420.89 381.96,421 382.09,421.11 382.21,421.22 382.34,421.33 382.46,421.45 382.59,421.56 382.71,421.67 382.84,421.78 382.97,421.89 383.09,421.99 383.22,422.1 383.34,422.2 383.47,422.3 383.59,422.4 383.72,422.5 383.84,422.59 383.97,422.68 384.09,422.77 384.22,422.86 384.35,422.94 384.47,423.02 384.6,423.1 384.72,423.18 384.85,423.25 384.97,423.32 385.1,423.39 385.22,423.45 385.35,423.51 385.47,423.57 385.6,423.62 385.6,425.18 385.47,425.23 385.35,425.29 385.22,425.35 385.1,425.41 384.97,425.48 384.85,425.55 384.72,425.62 384.6,425.7 384.47,425.78 384.35,425.86 384.22,425.94 384.09,426.03 383.97,426.12 383.84,426.21 383.72,426.3 383.59,426.4 383.47,426.5 383.34,426.6 383.22,426.7 383.09,426.81 382.97,426.91 382.84,427.02 382.71,427.13 382.59,427.24 382.46,427.35 382.34,427.47 382.21,427.58 382.09,427.69 381.96,427.8 381.84,427.91 381.71,428.02 381.59,428.13 381.46,428.24 381.33,428.34 381.21,428.44 381.08,428.54 380.96,428.64 380.83,428.74 380.71,428.83 380.58,428.91 380.46,429 380.33,429.08 380.21,429.15 380.08,429.22 379.95,429.28 379.83,429.34 379.7,429.39 379.58,429.44 379.45,429.48 379.33,429.52 379.2,429.55 379.08,429.57 378.95,429.59 378.83,429.6 378.7,429.6 378.57,429.6 378.45,429.59 378.32,429.57 378.2,429.55 378.07,429.52 377.95,429.48 377.82,429.44 377.7,429.39 377.57,429.34 377.45,429.28 377.32,429.22 377.19,429.15 377.07,429.08 376.94,429 376.82,428.91 376.69,428.83 376.57,428.74 376.44,428.64 376.32,428.54 376.19,428.44 376.07,428.34 375.94,428.24 375.81,428.13 375.69,428.02 375.56,427.91 375.44,427.8 375.31,427.69 375.19,427.58 375.06,427.47 374.94,427.35 374.81,427.24 374.69,427.13 374.56,427.02 374.43,426.91 374.31,426.81 374.18,426.7 374.06,426.6 373.93,426.5 373.81,426.4 373.68,426.3 373.56,426.21 373.43,426.12 373.31,426.03 373.18,425.94 373.05,425.86 372.93,425.78 372.8,425.7 372.68,425.62 372.55,425.55 372.43,425.48 372.3,425.41 372.18,425.35 372.05,425.29 371.93,425.23 371.8,425.18" fill="#6a6a6a" fill-opacity="0.42"/>
<text x="390.4" y="421.84" font-size="7.8" text-anchor="middle" font-family='"Liberation Serif", "Times New Roman", serif' fill="#333" stroke="#333" stroke-width="0.35">τ</text>
<path d="M382.8,419.5 L385.4,417.6 L385.4,421.4 Z M398,419.5 L395.4,417.6 L395.4,421.4 Z" fill="#333"/>
<path d="M385.4,419.5 H388.01 M392.79,419.5 H395.4" stroke="#555" stroke-width="0.9"/>
<path d="M396.3,424.7 L396.43,425.04 396.55,425.27 396.68,425.3 396.8,425.1 396.93,424.7 397.05,424.16 397.18,423.62 397.31,423.21 397.43,423.05 397.56,423.23 397.68,423.72 397.81,424.45 397.93,425.24 398.06,425.91 398.18,426.26 398.31,426.18 398.44,425.63 398.56,424.72 398.69,423.64 398.81,422.65 398.94,422.02 399.06,421.92 399.19,422.44 399.32,423.5 399.44,424.87 399.57,426.22 399.69,427.23 399.82,427.6 399.94,427.2 400.07,426.07 400.2,424.46 400.32,422.73 400.45,421.31 400.57,420.58 400.7,420.74 400.82,421.82 400.95,423.58 401.08,425.63 401.2,427.47 401.33,428.64 401.45,428.81 401.58,427.91 401.7,426.13 401.83,423.86 401.95,421.65 402.08,420.06 402.21,419.47 402.33,420.07 402.46,421.73 402.58,424.07 402.71,426.52 402.83,428.49 402.96,429.5 403.09,429.29 403.21,427.9 403.34,425.67 403.46,423.13 403.59,420.9 403.71,419.51 403.84,419.3 403.97,420.31 404.09,422.28 404.22,424.73 404.34,427.07 404.47,428.73 404.59,429.33 404.72,428.74 404.85,427.15 404.97,424.94 405.1,422.67 405.22,420.89 405.35,419.99 405.47,420.16 405.6,421.33 405.72,423.17 405.85,425.22 405.98,426.98 406.1,428.06 406.23,428.22 406.35,427.49 406.48,426.07 406.6,424.34 406.73,422.73 406.86,421.6 406.98,421.2 407.11,421.57 407.23,422.58 407.36,423.93 407.48,425.3 407.61,426.36 407.74,426.88 407.86,426.78 407.99,426.15 408.11,425.16 408.24,424.08 408.36,423.17 408.49,422.62 408.62,422.54 408.74,422.89 408.87,423.56 408.99,424.35 409.12,425.08 409.24,425.57 409.37,425.75 409.49,425.59 409.62,425.18 409.75,424.64 409.87,424.1 410,423.7 410.12,423.5 410.25,423.53 410.37,423.76 410.5,424.1" fill="none" stroke="#6a6a6a" stroke-width="0.7"/>
<polygon points="396.3,423.62 396.43,423.57 396.55,423.51 396.68,423.45 396.8,423.39 396.93,423.33 397.05,423.26 397.18,423.19 397.31,423.12 397.43,423.04 397.56,422.97 397.68,422.88 397.81,422.8 397.93,422.72 398.06,422.63 398.18,422.54 398.31,422.44 398.44,422.35 398.56,422.25 398.69,422.15 398.81,422.05 398.94,421.95 399.06,421.84 399.19,421.73 399.32,421.63 399.44,421.52 399.57,421.41 399.69,421.3 399.82,421.19 399.94,421.09 400.07,420.98 400.2,420.87 400.32,420.76 400.45,420.66 400.57,420.55 400.7,420.45 400.82,420.35 400.95,420.25 401.08,420.16 401.2,420.07 401.33,419.98 401.45,419.89 401.58,419.81 401.7,419.73 401.83,419.66 401.95,419.59 402.08,419.53 402.21,419.47 402.33,419.42 402.46,419.37 402.58,419.33 402.71,419.29 402.83,419.26 402.96,419.24 403.09,419.22 403.21,419.21 403.34,419.2 403.46,419.2 403.59,419.21 403.71,419.22 403.84,419.24 403.97,419.26 404.09,419.29 404.22,419.33 404.34,419.37 404.47,419.42 404.59,419.47 404.72,419.53 404.85,419.59 404.97,419.66 405.1,419.73 405.22,419.81 405.35,419.89 405.47,419.98 405.6,420.07 405.72,420.16 405.85,420.25 405.98,420.35 406.1,420.45 406.23,420.55 406.35,420.66 406.48,420.76 406.6,420.87 406.73,420.98 406.86,421.09 406.98,421.19 407.11,421.3 407.23,421.41 407.36,421.52 407.48,421.63 407.61,421.73 407.74,421.84 407.86,421.95 407.99,422.05 408.11,422.15 408.24,422.25 408.36,422.35 408.49,422.44 408.62,422.54 408.74,422.63 408.87,422.72 408.99,422.8 409.12,422.88 409.24,422.97 409.37,423.04 409.49,423.12 409.62,423.19 409.75,423.26 409.87,423.33 410,423.39 410.12,423.45 410.25,423.51 410.37,423.57 410.5,423.62 410.5,425.18 410.37,425.23 410.25,425.29 410.12,425.35 410,425.41 409.87,425.47 409.75,425.54 409.62,425.61 409.49,425.68 409.37,425.76 409.24,425.83 409.12,425.92 408.99,426 408.87,426.08 408.74,426.17 408.62,426.26 408.49,426.36 408.36,426.45 408.24,426.55 408.11,426.65 407.99,426.75 407.86,426.85 407.74,426.96 407.61,427.07 407.48,427.17 407.36,427.28 407.23,427.39 407.11,427.5 406.98,427.61 406.86,427.71 406.73,427.82 406.6,427.93 406.48,428.04 406.35,428.14 406.23,428.25 406.1,428.35 405.98,428.45 405.85,428.55 405.72,428.64 405.6,428.73 405.47,428.82 405.35,428.91 405.22,428.99 405.1,429.07 404.97,429.14 404.85,429.21 404.72,429.27 404.59,429.33 404.47,429.38 404.34,429.43 404.22,429.47 404.09,429.51 403.97,429.54 403.84,429.56 403.71,429.58 403.59,429.59 403.46,429.6 403.34,429.6 403.21,429.59 403.09,429.58 402.96,429.56 402.83,429.54 402.71,429.51 402.58,429.47 402.46,429.43 402.33,429.38 402.21,429.33 402.08,429.27 401.95,429.21 401.83,429.14 401.7,429.07 401.58,428.99 401.45,428.91 401.33,428.82 401.2,428.73 401.08,428.64 400.95,428.55 400.82,428.45 400.7,428.35 400.57,428.25 400.45,428.14 400.32,428.04 400.2,427.93 400.07,427.82 399.94,427.71 399.82,427.61 399.69,427.5 399.57,427.39 399.44,427.28 399.32,427.17 399.19,427.07 399.06,426.96 398.94,426.85 398.81,426.75 398.69,426.65 398.56,426.55 398.44,426.45 398.31,426.36 398.18,426.26 398.06,426.17 397.93,426.08 397.81,426 397.68,425.92 397.56,425.83 397.43,425.76 397.31,425.68 397.18,425.61 397.05,425.54 396.93,425.47 396.8,425.41 396.68,425.35 396.55,425.29 396.43,425.23 396.3,425.18" fill="#6a6a6a" fill-opacity="0.42"/>
<rect x="419.7" y="418.4" width="16.4" height="12.9" fill="#d4d4d4"/>
<path d="M419.7,424.85 L419.83,422.49 419.95,420.46 420.08,419.03 420.2,418.42 420.33,418.69 420.45,419.82 420.58,421.65 420.7,423.92 420.83,426.32 420.95,428.51 421.08,430.2 421.2,431.15 421.33,431.22 421.45,430.41 421.58,428.83 421.7,426.69 421.83,424.31 421.95,421.99 422.08,420.07 422.2,418.82 422.33,418.4 422.45,418.88 422.58,420.18 422.7,422.13 422.83,424.46 422.95,426.84 423.08,428.95 423.21,430.49 423.33,431.24 423.46,431.11 423.58,430.11 423.71,428.39 423.83,426.17 423.96,423.77 424.08,421.51 424.21,419.73 424.33,418.65 424.46,418.43 424.58,419.1 424.71,420.57 424.83,422.63 424.96,425 425.08,427.35 425.21,429.35 425.33,430.73 425.46,431.29 425.58,430.96 425.71,429.78 425.83,427.92 425.96,425.63 426.08,423.23 426.21,421.06 426.34,419.41 426.46,418.52 426.59,418.51 426.71,419.37 426.84,420.99 426.96,423.15 427.09,425.55 427.21,427.85 427.34,429.73 427.46,430.93 427.59,431.3 427.71,430.76 427.84,429.41 427.96,427.43 428.09,425.09 428.21,422.71 428.34,420.63 428.46,419.14 428.59,418.44 428.71,418.63 428.84,419.68 428.96,421.44 429.09,423.69 429.21,426.09 429.34,428.32 429.46,430.07 429.59,431.09 429.72,431.25 429.84,430.53 429.97,429.01 430.09,426.92 430.22,424.54 430.34,422.21 430.47,420.24 430.59,418.91 430.72,418.4 430.84,418.79 430.97,420.02 431.09,421.92 431.22,424.22 431.34,426.62 431.47,428.76 431.59,430.37 431.72,431.21 431.84,431.16 431.97,430.25 432.09,428.58 432.22,426.4 432.34,424 432.47,421.72 432.59,419.87 432.72,418.72 432.85,418.41 432.97,419 433.1,420.4 433.22,422.41 433.35,424.77 433.47,427.13 433.6,429.18 433.72,430.63 433.85,431.28 433.97,431.03 434.1,429.93 434.22,428.12 434.35,425.86 434.47,423.46 434.6,421.25 434.72,419.54 434.85,418.57 434.97,418.47 435.1,419.25 435.22,420.81 435.35,422.93 435.47,425.31 435.6,427.64 435.72,429.57 435.85,430.85 435.97,431.3 436.1,430.85" fill="none" stroke="#8c8c8c" stroke-width="0.7"/>
<text x="110.2" y="614.4" font-size="11" text-anchor="start" font-family='"Liberation Serif", "Times New Roman", serif' fill="#1a1a1a" stroke="#1a1a1a" >π/2</text>
<text x="134.9" y="614.4" font-size="11" text-anchor="start" font-family='"Liberation Serif", "Times New Roman", serif' fill="#1a1a1a" stroke="#1a1a1a" >π</text>
<text x="153.9" y="614.4" font-size="11" text-anchor="start" font-family='"Liberation Serif", "Times New Roman", serif' fill="#1a1a1a" stroke="#1a1a1a" >π/2 Readout</text>
<text x="122.15" y="624.08" font-size="8.6" text-anchor="middle" font-family='"Liberation Serif", "Times New Roman", serif' fill="#333" stroke="#333" stroke-width="0.35">τ/2</text>
<path d="M112.1,621.5 L114.7,619.6 L114.7,623.4 Z M132.2,621.5 L129.6,619.6 L129.6,623.4 Z" fill="#333"/>
<path d="M114.7,621.5 H116.13 M128.17,621.5 H129.6" stroke="#555" stroke-width="0.9"/>
<text x="151.05" y="624.08" font-size="8.6" text-anchor="middle" font-family='"Liberation Serif", "Times New Roman", serif' fill="#333" stroke="#333" stroke-width="0.35">τ/2</text>
<path d="M140.3,621.5 L142.9,619.6 L142.9,623.4 Z M161.8,621.5 L159.2,619.6 L159.2,623.4 Z" fill="#333"/>
<path d="M142.9,621.5 H145.03 M157.07,621.5 H159.2" stroke="#555" stroke-width="0.9"/>
<path d="M107.95,630.84 L108.08,630.81 108.2,630.95 108.33,631.26 108.45,631.69 108.58,632.14 108.71,632.48 108.83,632.62 108.96,632.48 109.08,632.06 109.21,631.44 109.34,630.76 109.46,630.18 109.59,629.86 109.71,629.94 109.84,630.43 109.97,631.25 110.09,632.23 110.22,633.12 110.34,633.7 110.47,633.77 110.6,633.26 110.72,632.27 110.85,630.99 110.98,629.73 111.1,628.81 111.23,628.5 111.35,628.92 111.48,630.02 111.61,631.57 111.73,633.2 111.86,634.5 111.98,635.14 112.11,634.9 112.24,633.81 112.36,632.09 112.49,630.15 112.61,628.47 112.74,627.47 112.87,627.43 112.99,628.38 113.12,630.13 113.24,632.25 113.37,634.23 113.5,635.57 113.62,635.95 113.75,635.25 113.87,633.64 114,631.5 114.13,629.36 114.25,627.75 114.38,627.05 114.5,627.43 114.63,628.77 114.76,630.75 114.88,632.87 115.01,634.62 115.13,635.57 115.26,635.53 115.39,634.53 115.51,632.85 115.64,630.91 115.76,629.19 115.89,628.1 116.02,627.86 116.14,628.5 116.27,629.8 116.39,631.43 116.52,632.98 116.65,634.08 116.77,634.5 116.9,634.19 117.03,633.27 117.15,632.01 117.28,630.73 117.4,629.74 117.53,629.23 117.66,629.3 117.78,629.88 117.91,630.77 118.03,631.75 118.16,632.57 118.29,633.06 118.41,633.14 118.54,632.82 118.66,632.24 118.79,631.56 118.92,630.94 119.04,630.52 119.17,630.38 119.29,630.52 119.42,630.86 119.55,631.31 119.67,631.74 119.8,632.05 119.92,632.19 120.05,632.16" fill="none" stroke="#6a6a6a" stroke-width="0.7"/>
<polygon points="107.95,630.83 108.08,630.77 108.2,630.71 108.33,630.65 108.45,630.59 108.58,630.52 108.71,630.45 108.83,630.38 108.96,630.3 109.08,630.22 109.21,630.13 109.34,630.05 109.46,629.96 109.59,629.86 109.71,629.77 109.84,629.67 109.97,629.57 110.09,629.46 110.22,629.36 110.34,629.25 110.47,629.14 110.6,629.03 110.72,628.92 110.85,628.81 110.98,628.7 111.1,628.59 111.23,628.48 111.35,628.37 111.48,628.27 111.61,628.16 111.73,628.06 111.86,627.95 111.98,627.86 112.11,627.76 112.24,627.67 112.36,627.59 112.49,627.5 112.61,627.43 112.74,627.36 112.87,627.29 112.99,627.23 113.12,627.18 113.24,627.13 113.37,627.09 113.5,627.06 113.62,627.03 113.75,627.01 113.87,627 114,627 114.13,627 114.25,627.01 114.38,627.03 114.5,627.06 114.63,627.09 114.76,627.13 114.88,627.18 115.01,627.23 115.13,627.29 115.26,627.36 115.39,627.43 115.51,627.5 115.64,627.59 115.76,627.67 115.89,627.76 116.02,627.86 116.14,627.95 116.27,628.06 116.39,628.16 116.52,628.27 116.65,628.37 116.77,628.48 116.9,628.59 117.03,628.7 117.15,628.81 117.28,628.92 117.4,629.03 117.53,629.14 117.66,629.25 117.78,629.36 117.91,629.46 118.03,629.57 118.16,629.67 118.29,629.77 118.41,629.86 118.54,629.96 118.66,630.05 118.79,630.13 118.92,630.22 119.04,630.3 119.17,630.38 119.29,630.45 119.42,630.52 119.55,630.59 119.67,630.65 119.8,630.71 119.92,630.77 120.05,630.83 120.05,632.17 119.92,632.23 119.8,632.29 119.67,632.35 119.55,632.41 119.42,632.48 119.29,632.55 119.17,632.62 119.04,632.7 118.92,632.78 118.79,632.87 118.66,632.95 118.54,633.04 118.41,633.14 118.29,633.23 118.16,633.33 118.03,633.43 117.91,633.54 117.78,633.64 117.66,633.75 117.53,633.86 117.4,633.97 117.28,634.08 117.15,634.19 117.03,634.3 116.9,634.41 116.77,634.52 116.65,634.63 116.52,634.73 116.39,634.84 116.27,634.94 116.14,635.05 116.02,635.14 115.89,635.24 115.76,635.33 115.64,635.41 115.51,635.5 115.39,635.57 115.26,635.64 115.13,635.71 115.01,635.77 114.88,635.82 114.76,635.87 114.63,635.91 114.5,635.94 114.38,635.97 114.25,635.99 114.13,636 114,636 113.87,636 113.75,635.99 113.62,635.97 113.5,635.94 113.37,635.91 113.24,635.87 113.12,635.82 112.99,635.77 112.87,635.71 112.74,635.64 112.61,635.57 112.49,635.5 112.36,635.41 112.24,635.33 112.11,635.24 111.98,635.14 111.86,635.05 111.73,634.94 111.61,634.84 111.48,634.73 111.35,634.63 111.23,634.52 111.1,634.41 110.98,634.3 110.85,634.19 110.72,634.08 110.6,633.97 110.47,633.86 110.34,633.75 110.22,633.64 110.09,633.54 109.97,633.43 109.84,633.33 109.71,633.23 109.59,633.14 109.46,633.04 109.34,632.95 109.21,632.87 109.08,632.78 108.96,632.7 108.83,632.62 108.71,632.55 108.58,632.48 108.45,632.41 108.33,632.35 108.2,632.29 108.08,632.23 107.95,632.17" fill="#6a6a6a" fill-opacity="0.42"/>
<path d="M130.65,630.35 L130.78,629.73 130.9,629.25 131.03,629.04 131.15,629.21 131.28,629.77 131.4,630.63 131.53,631.61 131.66,632.46 131.78,632.93 131.91,632.87 132.03,632.21 132.16,631.05 132.28,629.63 132.41,628.3 132.54,627.4 132.66,627.22 132.79,627.89 132.91,629.32 133.04,631.22 133.16,633.15 133.29,634.62 133.42,635.2 133.54,634.68 133.67,633.08 133.79,630.73 133.92,628.16 134.05,626.01 134.17,624.84 134.3,625.04 134.42,626.63 134.55,629.31 134.67,632.47 134.8,635.35 134.93,637.2 135.05,637.52 135.18,636.15 135.3,633.36 135.43,629.77 135.55,626.25 135.68,623.67 135.81,622.7 135.93,623.63 136.06,626.28 136.18,630.04 136.31,634.01 136.43,637.22 136.56,638.87 136.69,638.54 136.81,636.29 136.94,632.66 137.06,628.54 137.19,624.91 137.31,622.66 137.44,622.33 137.57,623.98 137.69,627.19 137.82,631.16 137.94,634.92 138.07,637.57 138.19,638.5 138.32,637.53 138.45,634.95 138.57,631.43 138.7,627.84 138.82,625.05 138.95,623.68 139.07,624 139.2,625.85 139.33,628.73 139.45,631.89 139.58,634.57 139.7,636.16 139.83,636.36 139.95,635.19 140.08,633.04 140.21,630.47 140.33,628.12 140.46,626.52 140.58,626 140.71,626.58 140.84,628.05 140.96,629.98 141.09,631.88 141.21,633.31 141.34,633.98 141.46,633.8 141.59,632.9 141.72,631.57 141.84,630.15 141.97,628.99 142.09,628.33 142.22,628.27 142.34,628.74 142.47,629.59 142.6,630.57 142.72,631.43 142.85,631.99 142.97,632.16 143.1,631.95 143.22,631.47 143.35,630.85" fill="none" stroke="#6a6a6a" stroke-width="0.7"/>
<polygon points="130.65,629.34 130.78,629.24 130.9,629.14 131.03,629.03 131.15,628.91 131.28,628.79 131.4,628.67 131.53,628.54 131.66,628.4 131.78,628.26 131.91,628.11 132.03,627.96 132.16,627.8 132.28,627.64 132.41,627.47 132.54,627.3 132.66,627.12 132.79,626.94 132.91,626.76 133.04,626.57 133.16,626.38 133.29,626.18 133.42,625.99 133.54,625.79 133.67,625.59 133.79,625.4 133.92,625.2 134.05,625 134.17,624.81 134.3,624.61 134.42,624.42 134.55,624.24 134.67,624.05 134.8,623.87 134.93,623.7 135.05,623.54 135.18,623.38 135.3,623.22 135.43,623.08 135.55,622.94 135.68,622.82 135.81,622.7 135.93,622.59 136.06,622.5 136.18,622.41 136.31,622.34 136.43,622.28 136.56,622.23 136.69,622.19 136.81,622.16 136.94,622.15 137.06,622.15 137.19,622.16 137.31,622.19 137.44,622.23 137.57,622.28 137.69,622.34 137.82,622.41 137.94,622.5 138.07,622.59 138.19,622.7 138.32,622.82 138.45,622.94 138.57,623.08 138.7,623.22 138.82,623.38 138.95,623.54 139.07,623.7 139.2,623.87 139.33,624.05 139.45,624.24 139.58,624.42 139.7,624.61 139.83,624.81 139.95,625 140.08,625.2 140.21,625.4 140.33,625.59 140.46,625.79 140.58,625.99 140.71,626.18 140.84,626.38 140.96,626.57 141.09,626.76 141.21,626.94 141.34,627.12 141.46,627.3 141.59,627.47 141.72,627.64 141.84,627.8 141.97,627.96 142.09,628.11 142.22,628.26 142.34,628.4 142.47,628.54 142.6,628.67 142.72,628.79 142.85,628.91 142.97,629.03 143.1,629.14 143.22,629.24 143.35,629.34 143.35,631.86 143.22,631.96 143.1,632.06 142.97,632.17 142.85,632.29 142.72,632.41 142.6,632.53 142.47,632.66 142.34,632.8 142.22,632.94 142.09,633.09 141.97,633.24 141.84,633.4 141.72,633.56 141.59,633.73 141.46,633.9 141.34,634.08 141.21,634.26 141.09,634.44 140.96,634.63 140.84,634.82 140.71,635.02 140.58,635.21 140.46,635.41 140.33,635.61 140.21,635.8 140.08,636 139.95,636.2 139.83,636.39 139.7,636.59 139.58,636.78 139.45,636.96 139.33,637.15 139.2,637.33 139.07,637.5 138.95,637.66 138.82,637.82 138.7,637.98 138.57,638.12 138.45,638.26 138.32,638.38 138.19,638.5 138.07,638.61 137.94,638.7 137.82,638.79 137.69,638.86 137.57,638.92 137.44,638.97 137.31,639.01 137.19,639.04 137.06,639.05 136.94,639.05 136.81,639.04 136.69,639.01 136.56,638.97 136.43,638.92 136.31,638.86 136.18,638.79 136.06,638.7 135.93,638.61 135.81,638.5 135.68,638.38 135.55,638.26 135.43,638.12 135.3,637.98 135.18,637.82 135.05,637.66 134.93,637.5 134.8,637.33 134.67,637.15 134.55,636.96 134.42,636.78 134.3,636.59 134.17,636.39 134.05,636.2 133.92,636 133.79,635.8 133.67,635.61 133.54,635.41 133.42,635.21 133.29,635.02 133.16,634.82 133.04,634.63 132.91,634.44 132.79,634.26 132.66,634.08 132.54,633.9 132.41,633.73 132.28,633.56 132.16,633.4 132.03,633.24 131.91,633.09 131.78,632.94 131.66,632.8 131.53,632.66 131.4,632.53 131.28,632.41 131.15,632.29 131.03,632.17 130.9,632.06 130.78,631.96 130.65,631.86" fill="#6a6a6a" fill-opacity="0.42"/>
<path d="M151.8,632.12 L151.93,632.22 152.05,632.14 152.18,631.88 152.3,631.49 152.43,631.05 152.55,630.67 152.68,630.45 152.8,630.47 152.93,630.76 153.05,631.28 153.18,631.91 153.31,632.52 153.43,632.93 153.56,633.03 153.68,632.74 153.81,632.12 153.93,631.27 154.06,630.39 154.18,629.71 154.31,629.42 154.43,629.62 154.56,630.31 154.69,631.37 154.81,632.54 154.94,633.55 155.06,634.12 155.19,634.09 155.31,633.41 155.44,632.21 155.56,630.75 155.69,629.38 155.81,628.45 155.94,628.22 156.07,628.78 156.19,630.05 156.32,631.73 156.44,633.44 156.57,634.75 156.69,635.33 156.82,634.99 156.94,633.79 157.07,631.99 157.19,630.01 157.32,628.33 157.45,627.37 157.57,627.39 157.7,628.4 157.82,630.18 157.95,632.31 158.07,634.28 158.2,635.6 158.32,635.96 158.45,635.24 158.57,633.63 158.7,631.5 158.83,629.37 158.95,627.76 159.08,627.04 159.2,627.4 159.33,628.72 159.45,630.69 159.58,632.82 159.7,634.6 159.83,635.61 159.95,635.63 160.08,634.67 160.21,632.99 160.33,631.01 160.46,629.21 160.58,628.01 160.71,627.67 160.83,628.25 160.96,629.56 161.08,631.27 161.21,632.95 161.33,634.22 161.46,634.78 161.59,634.55 161.71,633.62 161.84,632.25 161.96,630.79 162.09,629.59 162.21,628.91 162.34,628.88 162.46,629.45 162.59,630.46 162.71,631.63 162.84,632.69 162.97,633.38 163.09,633.58 163.22,633.29 163.34,632.61 163.47,631.73 163.59,630.88 163.72,630.26 163.84,629.97 163.97,630.07 164.09,630.48 164.22,631.09 164.35,631.72 164.47,632.24 164.6,632.53 164.72,632.55 164.85,632.33 164.97,631.95 165.1,631.51 165.22,631.12 165.35,630.86 165.47,630.78 165.6,630.88" fill="none" stroke="#6a6a6a" stroke-width="0.7"/>
<polygon points="151.8,630.83 151.93,630.78 152.05,630.73 152.18,630.68 152.3,630.62 152.43,630.56 152.55,630.5 152.68,630.44 152.8,630.38 152.93,630.31 153.05,630.24 153.18,630.17 153.31,630.09 153.43,630.02 153.56,629.94 153.68,629.85 153.81,629.77 153.93,629.68 154.06,629.6 154.18,629.51 154.31,629.42 154.43,629.32 154.56,629.23 154.69,629.14 154.81,629.04 154.94,628.94 155.06,628.85 155.19,628.75 155.31,628.65 155.44,628.56 155.56,628.46 155.69,628.37 155.81,628.27 155.94,628.18 156.07,628.09 156.19,628 156.32,627.91 156.44,627.83 156.57,627.75 156.69,627.67 156.82,627.59 156.94,627.52 157.07,627.45 157.19,627.39 157.32,627.33 157.45,627.27 157.57,627.22 157.7,627.18 157.82,627.14 157.95,627.1 158.07,627.07 158.2,627.05 158.32,627.03 158.45,627.01 158.57,627 158.7,627 158.83,627 158.95,627.01 159.08,627.03 159.2,627.05 159.33,627.07 159.45,627.1 159.58,627.14 159.7,627.18 159.83,627.22 159.95,627.27 160.08,627.33 160.21,627.39 160.33,627.45 160.46,627.52 160.58,627.59 160.71,627.67 160.83,627.75 160.96,627.83 161.08,627.91 161.21,628 161.33,628.09 161.46,628.18 161.59,628.27 161.71,628.37 161.84,628.46 161.96,628.56 162.09,628.65 162.21,628.75 162.34,628.85 162.46,628.94 162.59,629.04 162.71,629.14 162.84,629.23 162.97,629.32 163.09,629.42 163.22,629.51 163.34,629.6 163.47,629.68 163.59,629.77 163.72,629.85 163.84,629.94 163.97,630.02 164.09,630.09 164.22,630.17 164.35,630.24 164.47,630.31 164.6,630.38 164.72,630.44 164.85,630.5 164.97,630.56 165.1,630.62 165.22,630.68 165.35,630.73 165.47,630.78 165.6,630.83 165.6,632.17 165.47,632.22 165.35,632.27 165.22,632.32 165.1,632.38 164.97,632.44 164.85,632.5 164.72,632.56 164.6,632.62 164.47,632.69 164.35,632.76 164.22,632.83 164.09,632.91 163.97,632.98 163.84,633.06 163.72,633.15 163.59,633.23 163.47,633.32 163.34,633.4 163.22,633.49 163.09,633.58 162.97,633.68 162.84,633.77 162.71,633.86 162.59,633.96 162.46,634.06 162.34,634.15 162.21,634.25 162.09,634.35 161.96,634.44 161.84,634.54 161.71,634.63 161.59,634.73 161.46,634.82 161.33,634.91 161.21,635 161.08,635.09 160.96,635.17 160.83,635.25 160.71,635.33 160.58,635.41 160.46,635.48 160.33,635.55 160.21,635.61 160.08,635.67 159.95,635.73 159.83,635.78 159.7,635.82 159.58,635.86 159.45,635.9 159.33,635.93 159.2,635.95 159.08,635.97 158.95,635.99 158.83,636 158.7,636 158.57,636 158.45,635.99 158.32,635.97 158.2,635.95 158.07,635.93 157.95,635.9 157.82,635.86 157.7,635.82 157.57,635.78 157.45,635.73 157.32,635.67 157.19,635.61 157.07,635.55 156.94,635.48 156.82,635.41 156.69,635.33 156.57,635.25 156.44,635.17 156.32,635.09 156.19,635 156.07,634.91 155.94,634.82 155.81,634.73 155.69,634.63 155.56,634.54 155.44,634.44 155.31,634.35 155.19,634.25 155.06,634.15 154.94,634.06 154.81,633.96 154.69,633.86 154.56,633.77 154.43,633.68 154.31,633.58 154.18,633.49 154.06,633.4 153.93,633.32 153.81,633.23 153.68,633.15 153.56,633.06 153.43,632.98 153.31,632.91 153.18,632.83 153.05,632.76 152.93,632.69 152.8,632.62 152.68,632.56 152.55,632.5 152.43,632.44 152.3,632.38 152.18,632.32 152.05,632.27 151.93,632.22 151.8,632.17" fill="#6a6a6a" fill-opacity="0.42"/>
<rect x="171.9" y="625" width="15.9" height="12.7" fill="#d4d4d4"/>
<path d="M171.9,631.35 L172.03,629.03 172.15,627.03 172.28,625.62 172.4,625.02 172.53,625.29 172.65,626.4 172.78,628.2 172.9,630.43 173.03,632.8 173.15,634.96 173.28,636.62 173.4,637.55 173.53,637.62 173.65,636.82 173.78,635.27 173.9,633.16 174.03,630.81 174.15,628.53 174.28,626.65 174.4,625.41 174.53,625 174.65,625.47 174.78,626.75 174.9,628.68 175.03,630.97 175.16,633.31 175.28,635.39 175.41,636.9 175.53,637.64 175.66,637.51 175.78,636.53 175.91,634.83 176.03,632.64 176.16,630.28 176.28,628.06 176.41,626.3 176.53,625.24 176.66,625.03 176.78,625.69 176.91,627.14 177.03,629.17 177.16,631.51 177.28,633.82 177.41,635.79 177.53,637.14 177.66,637.69 177.78,637.36 177.91,636.2 178.03,634.36 178.16,632.11 178.29,629.75 178.41,627.61 178.54,625.99 178.66,625.12 178.79,625.1 178.91,625.96 179.04,627.56 179.16,629.69 179.29,632.04 179.41,634.31 179.54,636.16 179.66,637.34 179.79,637.7 179.91,637.17 180.04,635.84 180.16,633.88 180.29,631.57 180.41,629.24 180.54,627.19 180.66,625.72 180.79,625.04 180.91,625.22 181.04,626.26 181.16,628 181.29,630.21 181.41,632.58 181.54,634.77 181.67,636.49 181.79,637.5 181.92,637.65 182.04,636.93 182.17,635.44 182.29,633.38 182.42,631.04 182.54,628.74 182.67,626.8 182.79,625.5 182.92,625 183.04,625.39 183.17,626.6 183.29,628.47 183.42,630.75 183.54,633.1 183.67,635.21 183.79,636.79 183.92,637.61 184.04,637.56 184.17,636.66 184.29,635.01 184.42,632.86 184.54,630.5 184.67,628.26 184.8,626.44 184.92,625.31 185.05,625.01 185.17,625.6 185.3,626.98 185.42,628.96 185.55,631.28 185.67,633.61 185.8,635.63 185.92,637.05 186.05,637.68 186.17,637.43 186.3,636.34 186.42,634.56 186.55,632.33 186.67,629.97 186.8,627.8 186.92,626.12 187.05,625.16 187.17,625.07 187.3,625.84 187.42,627.38 187.55,629.47 187.67,631.82 187.8,634.11" fill="none" stroke="#8c8c8c" stroke-width="0.7"/>
<text x="369.5" y="614.4" font-size="11" text-anchor="start" font-family='"Liberation Serif", "Times New Roman", serif' fill="#1a1a1a" stroke="#1a1a1a" >π/2</text>
<text x="394.9" y="614.4" font-size="11" text-anchor="start" font-family='"Liberation Serif", "Times New Roman", serif' fill="#1a1a1a" stroke="#1a1a1a" >π</text>
<text x="412.9" y="614.4" font-size="11" text-anchor="start" font-family='"Liberation Serif", "Times New Roman", serif' fill="#1a1a1a" stroke="#1a1a1a" >π/2 Readout</text>
<text x="382.95" y="624.38" font-size="8.6" text-anchor="middle" font-family='"Liberation Serif", "Times New Roman", serif' fill="#333" stroke="#333" stroke-width="0.35">τ/2</text>
<path d="M373.1,621.8 L375.7,619.9 L375.7,623.7 Z M392.8,621.8 L390.2,619.9 L390.2,623.7 Z" fill="#333"/>
<path d="M375.7,621.8 H376.93 M388.97,621.8 H390.2" stroke="#555" stroke-width="0.9"/>
<text x="410.75" y="624.38" font-size="8.6" text-anchor="middle" font-family='"Liberation Serif", "Times New Roman", serif' fill="#333" stroke="#333" stroke-width="0.35">τ/2</text>
<path d="M400.2,621.8 L402.8,619.9 L402.8,623.7 Z M421.3,621.8 L418.7,619.9 L418.7,623.7 Z" fill="#333"/>
<path d="M402.8,621.8 H404.73 M416.77,621.8 H418.7" stroke="#555" stroke-width="0.9"/>
<path d="M368.45,633.87 L368.58,633.9 368.7,633.75 368.83,633.44 368.95,633.02 369.08,632.59 369.2,632.26 369.33,632.13 369.46,632.27 369.58,632.66 369.71,633.23 369.83,633.87 369.96,634.42 370.08,634.71 370.21,634.65 370.34,634.21 370.46,633.47 370.59,632.58 370.71,631.76 370.84,631.23 370.96,631.14 371.09,631.57 371.22,632.44 371.34,633.58 371.47,634.73 371.59,635.58 371.72,635.9 371.84,635.57 371.97,634.63 372.09,633.26 372.22,631.79 372.35,630.57 372.47,629.93 372.6,630.06 372.72,630.98 372.85,632.49 372.97,634.26 373.1,635.85 373.23,636.86 373.35,637.02 373.48,636.25 373.6,634.7 373.73,632.73 373.85,630.82 373.98,629.42 374.11,628.91 374.23,629.42 374.36,630.87 374.48,632.91 374.61,635.05 374.73,636.77 374.86,637.66 374.99,637.48 375.11,636.26 375.24,634.31 375.36,632.09 375.49,630.14 375.61,628.92 375.74,628.74 375.87,629.63 375.99,631.35 376.12,633.49 376.24,635.53 376.37,636.98 376.49,637.49 376.62,636.98 376.75,635.58 376.87,633.67 377,631.7 377.12,630.15 377.25,629.38 377.37,629.54 377.5,630.55 377.63,632.14 377.75,633.91 377.88,635.42 378,636.34 378.13,636.47 378.25,635.83 378.38,634.61 378.51,633.14 378.63,631.77 378.76,630.83 378.88,630.5 379.01,630.82 379.13,631.67 379.26,632.82 379.38,633.96 379.51,634.83 379.64,635.26 379.76,635.17 379.89,634.64 380.01,633.82 380.14,632.93 380.26,632.19 380.39,631.75 380.52,631.69 380.64,631.98 380.77,632.53 380.89,633.17 381.02,633.74 381.14,634.13 381.27,634.27 381.4,634.14 381.52,633.81 381.65,633.38 381.77,632.96 381.9,632.65 382.02,632.5 382.15,632.53" fill="none" stroke="#6a6a6a" stroke-width="0.7"/>
<polygon points="368.45,632.52 368.58,632.47 368.7,632.42 368.83,632.37 368.95,632.31 369.08,632.25 369.2,632.19 369.33,632.13 369.46,632.06 369.58,631.99 369.71,631.92 369.83,631.84 369.96,631.77 370.08,631.69 370.21,631.61 370.34,631.52 370.46,631.44 370.59,631.35 370.71,631.26 370.84,631.17 370.96,631.08 371.09,630.98 371.22,630.89 371.34,630.79 371.47,630.69 371.59,630.59 371.72,630.49 371.84,630.4 371.97,630.3 372.09,630.2 372.22,630.1 372.35,630 372.47,629.91 372.6,629.82 372.72,629.72 372.85,629.63 372.97,629.55 373.1,629.46 373.23,629.38 373.35,629.3 373.48,629.22 373.6,629.15 373.73,629.08 373.85,629.02 373.98,628.96 374.11,628.91 374.23,628.86 374.36,628.81 374.48,628.77 374.61,628.74 374.73,628.71 374.86,628.69 374.99,628.67 375.11,628.66 375.24,628.65 375.36,628.65 375.49,628.66 375.61,628.67 375.74,628.69 375.87,628.71 375.99,628.74 376.12,628.77 376.24,628.81 376.37,628.86 376.49,628.91 376.62,628.96 376.75,629.02 376.87,629.08 377,629.15 377.12,629.22 377.25,629.3 377.37,629.38 377.5,629.46 377.63,629.55 377.75,629.63 377.88,629.72 378,629.82 378.13,629.91 378.25,630 378.38,630.1 378.51,630.2 378.63,630.3 378.76,630.4 378.88,630.49 379.01,630.59 379.13,630.69 379.26,630.79 379.38,630.89 379.51,630.98 379.64,631.08 379.76,631.17 379.89,631.26 380.01,631.35 380.14,631.44 380.26,631.52 380.39,631.61 380.52,631.69 380.64,631.77 380.77,631.84 380.89,631.92 381.02,631.99 381.14,632.06 381.27,632.13 381.4,632.19 381.52,632.25 381.65,632.31 381.77,632.37 381.9,632.42 382.02,632.47 382.15,632.52 382.15,633.88 382.02,633.93 381.9,633.98 381.77,634.03 381.65,634.09 381.52,634.15 381.4,634.21 381.27,634.27 381.14,634.34 381.02,634.41 380.89,634.48 380.77,634.56 380.64,634.63 380.52,634.71 380.39,634.79 380.26,634.88 380.14,634.96 380.01,635.05 379.89,635.14 379.76,635.23 379.64,635.32 379.51,635.42 379.38,635.51 379.26,635.61 379.13,635.71 379.01,635.81 378.88,635.91 378.76,636 378.63,636.1 378.51,636.2 378.38,636.3 378.25,636.4 378.13,636.49 378,636.58 377.88,636.68 377.75,636.77 377.63,636.85 377.5,636.94 377.37,637.02 377.25,637.1 377.12,637.18 377,637.25 376.87,637.32 376.75,637.38 376.62,637.44 376.49,637.49 376.37,637.54 376.24,637.59 376.12,637.63 375.99,637.66 375.87,637.69 375.74,637.71 375.61,637.73 375.49,637.74 375.36,637.75 375.24,637.75 375.11,637.74 374.99,637.73 374.86,637.71 374.73,637.69 374.61,637.66 374.48,637.63 374.36,637.59 374.23,637.54 374.11,637.49 373.98,637.44 373.85,637.38 373.73,637.32 373.6,637.25 373.48,637.18 373.35,637.1 373.23,637.02 373.1,636.94 372.97,636.85 372.85,636.77 372.72,636.68 372.6,636.58 372.47,636.49 372.35,636.4 372.22,636.3 372.09,636.2 371.97,636.1 371.84,636 371.72,635.91 371.59,635.81 371.47,635.71 371.34,635.61 371.22,635.51 371.09,635.42 370.96,635.32 370.84,635.23 370.71,635.14 370.59,635.05 370.46,634.96 370.34,634.88 370.21,634.79 370.08,634.71 369.96,634.63 369.83,634.56 369.71,634.48 369.58,634.41 369.46,634.34 369.33,634.27 369.2,634.21 369.08,634.15 368.95,634.09 368.83,634.03 368.7,633.98 368.58,633.93 368.45,633.88" fill="#6a6a6a" fill-opacity="0.42"/>
<path d="M391.35,632.77 L391.48,632.14 391.6,631.38 391.73,630.67 391.85,630.2 391.98,630.14 392.11,630.56 392.23,631.41 392.36,632.53 392.48,633.66 392.61,634.51 392.74,634.81 392.86,634.42 392.99,633.36 393.11,631.82 393.24,630.16 393.37,628.79 393.49,628.09 393.62,628.32 393.74,629.52 393.87,631.46 394,633.72 394.12,635.75 394.25,637.01 394.37,637.11 394.5,635.93 394.62,633.67 394.75,630.82 394.88,628.05 395,626.08 395.13,625.46 395.25,626.43 395.38,628.85 395.51,632.19 395.63,635.67 395.76,638.42 395.88,639.71 396.01,639.16 396.14,636.83 396.26,633.21 396.39,629.15 396.51,625.66 396.64,623.61 396.77,623.56 396.89,625.56 397.02,629.18 397.14,633.56 397.27,637.63 397.4,640.4 397.52,641.16 397.65,639.71 397.77,636.39 397.9,632 398.03,627.61 398.15,624.29 398.28,622.84 398.4,623.6 398.53,626.37 398.66,630.44 398.78,634.82 398.91,638.44 399.03,640.44 399.16,640.39 399.29,638.34 399.41,634.85 399.54,630.79 399.66,627.17 399.79,624.84 399.92,624.29 400.04,625.58 400.17,628.33 400.29,631.81 400.42,635.15 400.55,637.57 400.67,638.54 400.8,637.92 400.92,635.95 401.05,633.18 401.17,630.33 401.3,628.07 401.43,626.89 401.55,626.99 401.68,628.25 401.8,630.28 401.93,632.54 402.06,634.48 402.18,635.68 402.31,635.91 402.43,635.21 402.56,633.84 402.69,632.18 402.81,630.64 402.94,629.58 403.06,629.19 403.19,629.49 403.32,630.34 403.44,631.47 403.57,632.59 403.69,633.44 403.82,633.86 403.95,633.8 404.07,633.33 404.2,632.62 404.32,631.86 404.45,631.23" fill="none" stroke="#6a6a6a" stroke-width="0.7"/>
<polygon points="391.35,630.62 391.48,630.51 391.6,630.41 391.73,630.29 391.85,630.17 391.98,630.04 392.11,629.91 392.23,629.77 392.36,629.63 392.48,629.48 392.61,629.32 392.74,629.16 392.86,629 392.99,628.83 393.11,628.65 393.24,628.47 393.37,628.28 393.49,628.09 393.62,627.9 393.74,627.7 393.87,627.5 394,627.29 394.12,627.09 394.25,626.88 394.37,626.67 394.5,626.46 394.62,626.25 394.75,626.04 394.88,625.83 395,625.62 395.13,625.42 395.25,625.22 395.38,625.02 395.51,624.82 395.63,624.63 395.76,624.45 395.88,624.27 396.01,624.1 396.14,623.94 396.26,623.79 396.39,623.64 396.51,623.5 396.64,623.38 396.77,623.26 396.89,623.16 397.02,623.06 397.14,622.98 397.27,622.91 397.4,622.85 397.52,622.81 397.65,622.78 397.77,622.76 397.9,622.75 398.03,622.76 398.15,622.78 398.28,622.81 398.4,622.85 398.53,622.91 398.66,622.98 398.78,623.06 398.91,623.16 399.03,623.26 399.16,623.38 399.29,623.5 399.41,623.64 399.54,623.79 399.66,623.94 399.79,624.1 399.92,624.27 400.04,624.45 400.17,624.63 400.29,624.82 400.42,625.02 400.55,625.22 400.67,625.42 400.8,625.62 400.92,625.83 401.05,626.04 401.17,626.25 401.3,626.46 401.43,626.67 401.55,626.88 401.68,627.09 401.8,627.29 401.93,627.5 402.06,627.7 402.18,627.9 402.31,628.09 402.43,628.28 402.56,628.47 402.69,628.65 402.81,628.83 402.94,629 403.06,629.16 403.19,629.32 403.32,629.48 403.44,629.63 403.57,629.77 403.69,629.91 403.82,630.04 403.95,630.17 404.07,630.29 404.2,630.41 404.32,630.51 404.45,630.62 404.45,633.38 404.32,633.49 404.2,633.59 404.07,633.71 403.95,633.83 403.82,633.96 403.69,634.09 403.57,634.23 403.44,634.37 403.32,634.52 403.19,634.68 403.06,634.84 402.94,635 402.81,635.17 402.69,635.35 402.56,635.53 402.43,635.72 402.31,635.91 402.18,636.1 402.06,636.3 401.93,636.5 401.8,636.71 401.68,636.91 401.55,637.12 401.43,637.33 401.3,637.54 401.17,637.75 401.05,637.96 400.92,638.17 400.8,638.38 400.67,638.58 400.55,638.78 400.42,638.98 400.29,639.18 400.17,639.37 400.04,639.55 399.92,639.73 399.79,639.9 399.66,640.06 399.54,640.21 399.41,640.36 399.29,640.5 399.16,640.62 399.03,640.74 398.91,640.84 398.78,640.94 398.66,641.02 398.53,641.09 398.4,641.15 398.28,641.19 398.15,641.22 398.03,641.24 397.9,641.25 397.77,641.24 397.65,641.22 397.52,641.19 397.4,641.15 397.27,641.09 397.14,641.02 397.02,640.94 396.89,640.84 396.77,640.74 396.64,640.62 396.51,640.5 396.39,640.36 396.26,640.21 396.14,640.06 396.01,639.9 395.88,639.73 395.76,639.55 395.63,639.37 395.51,639.18 395.38,638.98 395.25,638.78 395.13,638.58 395,638.38 394.88,638.17 394.75,637.96 394.62,637.75 394.5,637.54 394.37,637.33 394.25,637.12 394.12,636.91 394,636.71 393.87,636.5 393.74,636.3 393.62,636.1 393.49,635.91 393.37,635.72 393.24,635.53 393.11,635.35 392.99,635.17 392.86,635 392.74,634.84 392.61,634.68 392.48,634.52 392.36,634.37 392.23,634.23 392.11,634.09 391.98,633.96 391.85,633.83 391.73,633.71 391.6,633.59 391.48,633.49 391.35,633.38" fill="#6a6a6a" fill-opacity="0.42"/>
<path d="M412.95,633.58 L413.08,633.27 413.2,632.89 413.33,632.54 413.45,632.31 413.58,632.28 413.71,632.49 413.83,632.91 413.96,633.46 414.08,634.02 414.21,634.43 414.34,634.58 414.46,634.39 414.59,633.87 414.71,633.11 414.84,632.3 414.97,631.62 415.09,631.28 415.22,631.39 415.34,631.98 415.47,632.93 415.6,634.05 415.72,635.04 415.85,635.66 415.97,635.71 416.1,635.13 416.22,634.02 416.35,632.62 416.48,631.26 416.6,630.29 416.73,629.98 416.85,630.46 416.98,631.65 417.11,633.29 417.23,635 417.36,636.36 417.48,636.99 417.61,636.72 417.74,635.57 417.86,633.79 417.99,631.8 418.11,630.08 418.24,629.07 418.37,629.05 418.49,630.03 418.62,631.81 418.74,633.97 418.87,635.97 419,637.33 419.12,637.7 419.25,636.99 419.37,635.36 419.5,633.2 419.63,631.04 419.75,629.41 419.88,628.7 420,629.07 420.13,630.43 420.26,632.43 420.38,634.59 420.51,636.37 420.63,637.35 420.76,637.33 420.89,636.32 421.01,634.6 421.14,632.61 421.26,630.83 421.39,629.68 421.52,629.41 421.64,630.04 421.77,631.4 421.89,633.11 422.02,634.75 422.15,635.94 422.27,636.42 422.4,636.11 422.52,635.14 422.65,633.78 422.77,632.38 422.9,631.27 423.03,630.69 423.15,630.74 423.28,631.36 423.4,632.35 423.53,633.47 423.66,634.42 423.78,635.01 423.91,635.12 424.03,634.78 424.16,634.1 424.29,633.29 424.41,632.53 424.54,632.01 424.66,631.82 424.79,631.97 424.92,632.38 425.04,632.94 425.17,633.49 425.29,633.91 425.42,634.12 425.55,634.09 425.67,633.86 425.8,633.51 425.92,633.13 426.05,632.82" fill="none" stroke="#6a6a6a" stroke-width="0.7"/>
<polygon points="412.95,632.52 413.08,632.47 413.2,632.42 413.33,632.36 413.45,632.3 413.58,632.24 413.71,632.17 413.83,632.1 413.96,632.03 414.08,631.96 414.21,631.88 414.34,631.8 414.46,631.72 414.59,631.64 414.71,631.55 414.84,631.46 414.97,631.37 415.09,631.28 415.22,631.18 415.34,631.08 415.47,630.99 415.6,630.88 415.72,630.78 415.85,630.68 415.97,630.58 416.1,630.47 416.22,630.37 416.35,630.27 416.48,630.17 416.6,630.06 416.73,629.96 416.85,629.86 416.98,629.77 417.11,629.67 417.23,629.58 417.36,629.49 417.48,629.4 417.61,629.32 417.74,629.24 417.86,629.16 417.99,629.09 418.11,629.02 418.24,628.96 418.37,628.9 418.49,628.85 418.62,628.8 418.74,628.76 418.87,628.73 419,628.7 419.12,628.68 419.25,628.66 419.37,628.65 419.5,628.65 419.63,628.65 419.75,628.66 419.88,628.68 420,628.7 420.13,628.73 420.26,628.76 420.38,628.8 420.51,628.85 420.63,628.9 420.76,628.96 420.89,629.02 421.01,629.09 421.14,629.16 421.26,629.24 421.39,629.32 421.52,629.4 421.64,629.49 421.77,629.58 421.89,629.67 422.02,629.77 422.15,629.86 422.27,629.96 422.4,630.06 422.52,630.17 422.65,630.27 422.77,630.37 422.9,630.47 423.03,630.58 423.15,630.68 423.28,630.78 423.4,630.88 423.53,630.99 423.66,631.08 423.78,631.18 423.91,631.28 424.03,631.37 424.16,631.46 424.29,631.55 424.41,631.64 424.54,631.72 424.66,631.8 424.79,631.88 424.92,631.96 425.04,632.03 425.17,632.1 425.29,632.17 425.42,632.24 425.55,632.3 425.67,632.36 425.8,632.42 425.92,632.47 426.05,632.52 426.05,633.88 425.92,633.93 425.8,633.98 425.67,634.04 425.55,634.1 425.42,634.16 425.29,634.23 425.17,634.3 425.04,634.37 424.92,634.44 424.79,634.52 424.66,634.6 424.54,634.68 424.41,634.76 424.29,634.85 424.16,634.94 424.03,635.03 423.91,635.12 423.78,635.22 423.66,635.32 423.53,635.41 423.4,635.52 423.28,635.62 423.15,635.72 423.03,635.82 422.9,635.93 422.77,636.03 422.65,636.13 422.52,636.23 422.4,636.34 422.27,636.44 422.15,636.54 422.02,636.63 421.89,636.73 421.77,636.82 421.64,636.91 421.52,637 421.39,637.08 421.26,637.16 421.14,637.24 421.01,637.31 420.89,637.38 420.76,637.44 420.63,637.5 420.51,637.55 420.38,637.6 420.26,637.64 420.13,637.67 420,637.7 419.88,637.72 419.75,637.74 419.63,637.75 419.5,637.75 419.37,637.75 419.25,637.74 419.12,637.72 419,637.7 418.87,637.67 418.74,637.64 418.62,637.6 418.49,637.55 418.37,637.5 418.24,637.44 418.11,637.38 417.99,637.31 417.86,637.24 417.74,637.16 417.61,637.08 417.48,637 417.36,636.91 417.23,636.82 417.11,636.73 416.98,636.63 416.85,636.54 416.73,636.44 416.6,636.34 416.48,636.23 416.35,636.13 416.22,636.03 416.1,635.93 415.97,635.82 415.85,635.72 415.72,635.62 415.6,635.52 415.47,635.41 415.34,635.32 415.22,635.22 415.09,635.12 414.97,635.03 414.84,634.94 414.71,634.85 414.59,634.76 414.46,634.68 414.34,634.6 414.21,634.52 414.08,634.44 413.96,634.37 413.83,634.3 413.71,634.23 413.58,634.16 413.45,634.1 413.33,634.04 413.2,633.98 413.08,633.93 412.95,633.88" fill="#6a6a6a" fill-opacity="0.42"/>
<rect x="431.9" y="626.4" width="16.5" height="13.8" fill="#d4d4d4"/>
<path d="M431.9,633.3 L432.02,630.78 432.15,628.61 432.27,627.08 432.4,626.42 432.52,626.71 432.65,627.91 432.77,629.85 432.9,632.27 433.02,634.84 433.15,637.19 433.27,639 433.4,640.03 433.52,640.12 433.65,639.28 433.77,637.6 433.9,635.33 434.02,632.78 434.15,630.31 434.27,628.24 434.4,626.88 434.52,626.4 434.65,626.88 434.77,628.24 434.9,630.31 435.02,632.78 435.15,635.33 435.27,637.6 435.4,639.28 435.52,640.12 435.65,640.03 435.77,639 435.9,637.19 436.02,634.84 436.15,632.27 436.27,629.85 436.4,627.91 436.52,626.71 436.65,626.42 436.77,627.08 436.9,628.61 437.02,630.78 437.15,633.3 437.27,635.82 437.4,637.99 437.52,639.52 437.65,640.18 437.77,639.89 437.9,638.69 438.02,636.75 438.15,634.33 438.27,631.76 438.4,629.41 438.52,627.6 438.65,626.57 438.77,626.48 438.9,627.32 439.02,629 439.15,631.27 439.27,633.82 439.4,636.29 439.52,638.36 439.65,639.72 439.77,640.2 439.9,639.72 440.02,638.36 440.15,636.29 440.27,633.82 440.4,631.27 440.52,629 440.65,627.32 440.77,626.48 440.9,626.57 441.02,627.6 441.15,629.41 441.27,631.76 441.4,634.33 441.52,636.75 441.65,638.69 441.77,639.89 441.9,640.18 442.02,639.52 442.15,637.99 442.27,635.82 442.4,633.3 442.52,630.78 442.65,628.61 442.77,627.08 442.9,626.42 443.02,626.71 443.15,627.91 443.27,629.85 443.4,632.27 443.52,634.84 443.65,637.19 443.77,639 443.9,640.03 444.02,640.12 444.15,639.28 444.27,637.6 444.4,635.33 444.52,632.78 444.65,630.31 444.77,628.24 444.9,626.88 445.02,626.4 445.15,626.88 445.27,628.24 445.4,630.31 445.52,632.78 445.65,635.33 445.77,637.6 445.9,639.28 446.02,640.12 446.15,640.03 446.27,639 446.4,637.19 446.52,634.84 446.65,632.27 446.77,629.85 446.9,627.91 447.02,626.71 447.15,626.42 447.27,627.08 447.4,628.61 447.52,630.78 447.65,633.3 447.77,635.82 447.9,637.99 448.02,639.52 448.15,640.18 448.27,639.89 448.4,638.69" fill="none" stroke="#8c8c8c" stroke-width="0.7"/>
</svg>
</body></html>
